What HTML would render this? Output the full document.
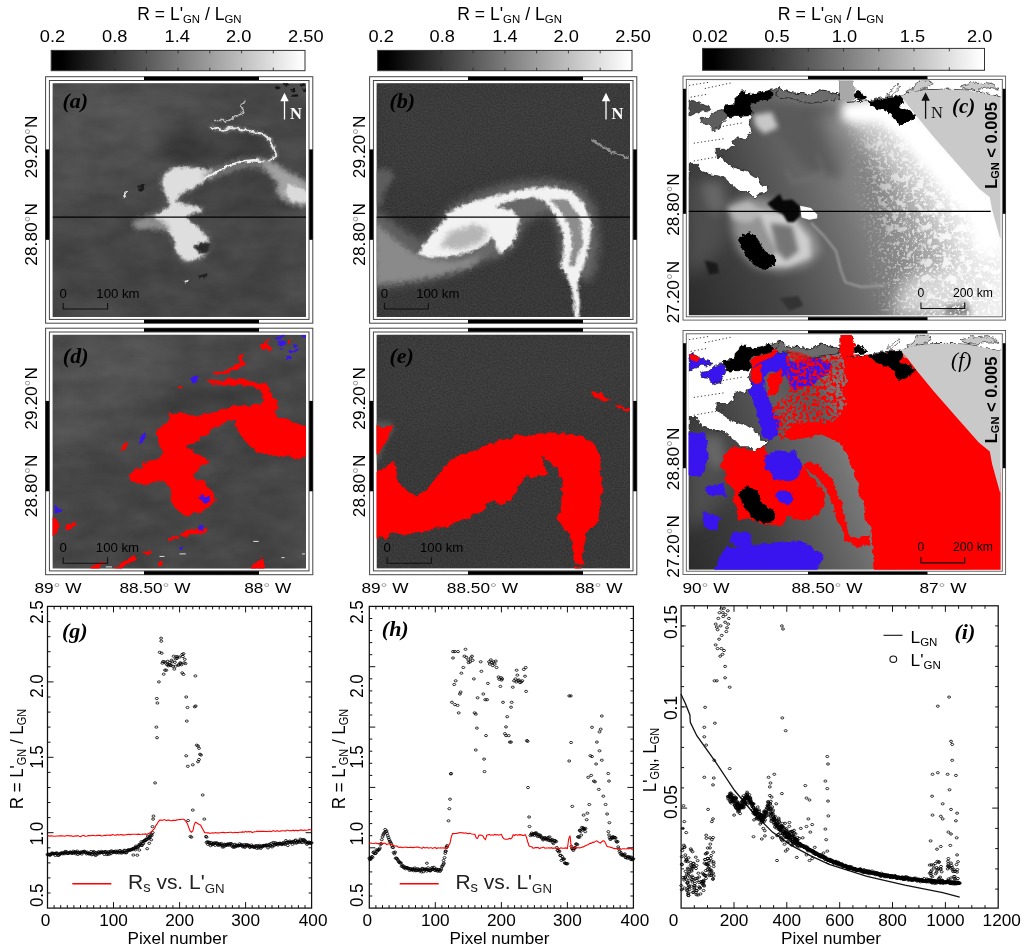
<!DOCTYPE html>
<html><head><meta charset="utf-8"><title>Figure</title>
<style>html,body{margin:0;padding:0;background:#fff}svg{display:block}</style></head>
<body>
<svg width="1024" height="949" viewBox="0 0 1024 949">
<rect width="1024" height="949" fill="#fff"/>
<defs>
<linearGradient id="cb" x1="0" x2="1" y1="0" y2="0"><stop offset="0" stop-color="#000"/><stop offset="0.04" stop-color="#000"/><stop offset="0.98" stop-color="#fcfcfc"/><stop offset="1" stop-color="#fff"/></linearGradient>
<filter color-interpolation-filters="sRGB" id="b1" x="-100%" y="-100%" width="300%" height="300%"><feGaussianBlur stdDeviation="0.6"/></filter>
<filter color-interpolation-filters="sRGB" id="b2" x="-100%" y="-100%" width="300%" height="300%"><feGaussianBlur stdDeviation="1.2"/></filter>
<filter color-interpolation-filters="sRGB" id="b3" x="-100%" y="-100%" width="300%" height="300%"><feGaussianBlur stdDeviation="2.5"/></filter>
<filter color-interpolation-filters="sRGB" id="b5" x="-100%" y="-100%" width="300%" height="300%"><feGaussianBlur stdDeviation="5"/></filter>
<filter color-interpolation-filters="sRGB" id="b8" x="-100%" y="-100%" width="300%" height="300%"><feGaussianBlur stdDeviation="8"/></filter>
<filter color-interpolation-filters="sRGB" id="b12" x="-100%" y="-100%" width="300%" height="300%"><feGaussianBlur stdDeviation="12"/></filter>
<filter color-interpolation-filters="sRGB" id="grA" x="0" y="0" width="100%" height="100%"><feTurbulence type="fractalNoise" baseFrequency="0.025 0.05" numOctaves="4" seed="8"/><feColorMatrix type="matrix" values="0.3 0 0 0 0.13  0.3 0 0 0 0.13  0.3 0 0 0 0.13  0 0 0 0 0.32"/></filter>
<filter color-interpolation-filters="sRGB" id="grB" x="0" y="0" width="100%" height="100%"><feTurbulence type="fractalNoise" baseFrequency="0.7" numOctaves="2" seed="5"/><feColorMatrix type="matrix" values="0.35 0 0 0 0.05  0.35 0 0 0 0.05  0.35 0 0 0 0.05  0 0 0 0 0.35"/></filter>
<filter color-interpolation-filters="sRGB" id="rag" x="-5%" y="-5%" width="110%" height="110%"><feTurbulence type="fractalNoise" baseFrequency="0.13" numOctaves="3" seed="21" result="n"/><feDisplacementMap in="SourceGraphic" in2="n" scale="7" xChannelSelector="R" yChannelSelector="G"/></filter>
<filter color-interpolation-filters="sRGB" id="rag2" x="-5%" y="-5%" width="110%" height="110%"><feTurbulence type="fractalNoise" baseFrequency="0.2" numOctaves="3" seed="9" result="n"/><feDisplacementMap in="SourceGraphic" in2="n" scale="5" xChannelSelector="R" yChannelSelector="G"/></filter>
</defs>
<rect x="45.6" y="76.7" width="267.2" height="246.5" fill="#fff" stroke="#444" stroke-width="1"/>
<rect x="144" y="76.7" width="115" height="3.8" fill="#000"/>
<rect x="144" y="319.4" width="115" height="3.8" fill="#000"/>
<rect x="45.6" y="149.4" width="3.8" height="90.4" fill="#000"/>
<rect x="309" y="149.4" width="3.8" height="90.4" fill="#000"/>
<rect x="49.4" y="80.5" width="259.6" height="238.9" fill="none" stroke="#444" stroke-width="1"/>
<rect x="369.6" y="76.7" width="267.2" height="246.5" fill="#fff" stroke="#444" stroke-width="1"/>
<rect x="468" y="76.7" width="115" height="3.8" fill="#000"/>
<rect x="468" y="319.4" width="115" height="3.8" fill="#000"/>
<rect x="369.6" y="149.4" width="3.8" height="90.4" fill="#000"/>
<rect x="633" y="149.4" width="3.8" height="90.4" fill="#000"/>
<rect x="373.4" y="80.5" width="259.6" height="238.9" fill="none" stroke="#444" stroke-width="1"/>
<rect x="45.6" y="328.2" width="267.2" height="246.5" fill="#fff" stroke="#444" stroke-width="1"/>
<rect x="144" y="328.2" width="115" height="3.8" fill="#000"/>
<rect x="144" y="570.9" width="115" height="3.8" fill="#000"/>
<rect x="45.6" y="400.9" width="3.8" height="90.4" fill="#000"/>
<rect x="309" y="400.9" width="3.8" height="90.4" fill="#000"/>
<rect x="49.4" y="332" width="259.6" height="238.9" fill="none" stroke="#444" stroke-width="1"/>
<rect x="369.6" y="328.2" width="267.2" height="246.5" fill="#fff" stroke="#444" stroke-width="1"/>
<rect x="468" y="328.2" width="115" height="3.8" fill="#000"/>
<rect x="468" y="570.9" width="115" height="3.8" fill="#000"/>
<rect x="369.6" y="400.9" width="3.8" height="90.4" fill="#000"/>
<rect x="633" y="400.9" width="3.8" height="90.4" fill="#000"/>
<rect x="373.4" y="332" width="259.6" height="238.9" fill="none" stroke="#444" stroke-width="1"/>
<rect x="683" y="76.1" width="322.6" height="244" fill="#fff" stroke="#555" stroke-width="0.9"/>
<rect x="808" y="76.1" width="119.5" height="3" fill="#000"/>
<rect x="808" y="317.1" width="119.5" height="3" fill="#000"/>
<rect x="683" y="88.8" width="3" height="125" fill="#000"/>
<rect x="1002.6" y="88.8" width="3" height="125" fill="#000"/>
<rect x="686.3" y="79.4" width="316" height="237.4" fill="none" stroke="#555" stroke-width="0.9"/>
<rect x="683" y="330.5" width="322.6" height="244" fill="#fff" stroke="#555" stroke-width="0.9"/>
<rect x="808" y="330.5" width="119.5" height="3" fill="#000"/>
<rect x="808" y="571.5" width="119.5" height="3" fill="#000"/>
<rect x="683" y="343.2" width="3" height="125" fill="#000"/>
<rect x="1002.6" y="343.2" width="3" height="125" fill="#000"/>
<rect x="686.3" y="333.8" width="316" height="237.4" fill="none" stroke="#555" stroke-width="0.9"/>
<clipPath id="c1"><rect x="52.6" y="83.2" width="253.4" height="233.8"/></clipPath>
<g clip-path="url(#c1)">
<rect x="52.6" y="83.2" width="253.4" height="233.8" fill="#484848"/>
<polygon points="52,82 227,82 177,119.5 127,164.5 52,212" fill="#575757" filter="url(#b12)"/>
<polygon points="177,132 264.5,133.2 272,154.5 242,159.5 212,167 177,164.5 157,149.5" fill="#3a3a3a" filter="url(#b5)"/>
<polygon points="212,177 247,167 277,192 304.5,209.5 227,212 202,207 192,192" fill="#3f3f3f" filter="url(#b5)"/>
<polygon points="52,222 127,222 172,257 202,272 308,222 308,319 52,319" fill="#444" filter="url(#b12)"/>
<rect x="52.6" y="83.2" width="253.4" height="233.8" filter="url(#grA)"/>
<g filter="url(#rag2)">
<polygon points="172,167 192,165.8 207,170 217,168.2 227,165.8 242,160.8 259.5,160 272,164.5 287,173.2 302,182 307,187 307,202 292,204.5 277,197 282,187 272,177 259.5,168.2 247,165.8 232,170.8 214.5,175 204.5,180.8 194.5,189.5 182,194.5 177,202 192,204.5 202,207 204.5,212 192,214.5 187,218.2 197,224.5 207,234.5 212,242 209.5,252 202,259.5 187,263.2 179.5,259.5 174.5,252 172,239.5 164.5,229.5 152,227 137,229.5 132,222 149.5,214.5 162,209.5 169.5,204.5 164.5,194.5 159.5,184.5 162,174.5" fill="#8a8a8a" filter="url(#b3)" opacity="0.6"/>
<polygon points="172,168.2 192,167 212,170 215.8,174 204.5,181.5 192,188.2 180.8,193.2 175.8,202 189.5,205 200.8,207.8 202,211.5 190.8,214 185.8,218.2 195.8,225 205,235 209.5,242 207.5,251 201,258 187.5,261.5 180.8,258 176.2,251 174,239.5 167.5,229 159.5,222 152,217 162,210.8 170.5,205 166,194.5 161.5,184.5 164,175" fill="#dedede" filter="url(#b2)"/>
<polygon points="132,222.5 149.5,217 164.5,222 169.5,230.8 152,227.8 138.2,229.5" fill="#909090" filter="url(#b3)"/>
<polygon points="202,175 217,167 232,161.5 247,157.8 262,157 272,160.8 284.5,168.2 297,176 308,182 308,187 277,169.5 259.5,165.8 247,166.5 234.5,170 222,175 209.5,181.5" fill="#777" filter="url(#b3)" opacity="0.7"/>
<polyline points="204.5,178.2 224.2,168.2 239,162 253.8,160.2 264.5,161.5" fill="none" stroke="#f0f0f0" stroke-width="2.4" filter="url(#b1)" stroke-linecap="round" stroke-linejoin="round"/>
<polygon points="259.5,159 269.5,161.5 283.2,170 298.2,178 308,184 308,205.8 298.2,205.8 284.5,200 275.8,190.8 278.2,183.2 272,175 264.5,167" fill="#a4a4a4" filter="url(#b3)"/>
<polygon points="287,183.2 299.5,187 308,191.5 308,202.5 293.2,202 285.8,195" fill="#dadada" filter="url(#b2)"/>
<polyline points="268.5,161.8 276.5,155.8 274.2,148.5 270,139.5 262.5,133.8 253.8,132.2 242,129.2 230,128 224.2,130.8 211,127" fill="none" stroke="#8a8a8a" stroke-width="4.5" filter="url(#b2)" stroke-linecap="round" stroke-linejoin="round" opacity="0.6"/>
<polyline points="268.5,161.8 276.5,155.8 274.2,148.5 270,139.5 262.5,133.8 253.8,132.2 242,129.2 230,128 224.2,130.8 211,127" fill="none" stroke="#e4e4e4" stroke-width="2.0" filter="url(#b1)" stroke-linecap="round" stroke-linejoin="round"/>
<polyline points="214,120.5 228.8,120.5 236,116 244,113 240.5,107.2 244.8,100.5" fill="none" stroke="#b4b4b4" stroke-width="1.5" filter="url(#b1)" stroke-linecap="round" stroke-linejoin="round"/>
<polygon points="193.2,245.8 204.5,242 212,243.2 208.2,252 200.8,254.5" fill="#2a2a2a" filter="url(#b2)"/>
<polygon points="138.2,187 145,183.2 143.2,189.5 139.5,192" fill="#1c1c1c" filter="url(#b1)"/>
<polygon points="123.2,192 127,191 126,197.5 123.5,198.5" fill="#e8e8e8" filter="url(#b1)"/>
<polygon points="197,275.8 207,273.2 208.2,275.8 199.5,279.5" fill="#222" filter="url(#b1)"/>
<polygon points="184.5,280.8 189,279.5 188.2,282.8 185,283.5" fill="#ddd" filter="url(#b1)"/>
<polygon points="274.5,87.5 278.2,85 280.8,87 277,89.5" fill="#151515" />
<polygon points="283.2,84 288.2,82.5 289.5,85 285,86" fill="#151515" />
<polygon points="290.8,89.5 295.8,88.5 295,91.5 291.5,92" fill="#151515" />
<polygon points="299.5,84 304.5,83 305,86.5 300.8,87" fill="#151515" />
<polygon points="292,95 298.2,94 297,96.5 292.5,97" fill="#151515" />
<polygon points="302,89.5 305.8,89 305.5,92 302.5,92" fill="#151515" />
</g>
<path d="M52.6 217.2 H306" stroke="#000" stroke-width="1.3"/>
</g>
<text transform="translate(62.5,107.8)" font-family="'Liberation Serif', 'Times New Roman', serif" font-size="22" text-anchor="start" fill="#000" font-weight="bold" font-style="italic" >(a)</text>
<path d="M284.5 119.5 V97.8" stroke="#fff" stroke-width="1.3"/>
<polygon points="284.5,92.8 280.3,101.3 288.7,101.3" fill="#fff"/>
<text transform="translate(290,118.5)" font-family="'Liberation Serif', 'Times New Roman', serif" font-size="16.5" text-anchor="start" fill="#fff" font-weight="bold" >N</text>
<path d="M63.2 303 V309 H107.6 V303" fill="none" stroke="#111" stroke-width="1.1"/>
<text transform="translate(63.2,297.6)" font-family="'Liberation Sans', Arial, sans-serif" font-size="13.2" text-anchor="middle" fill="#000" >0</text>
<text transform="translate(96.3,297.6)" font-family="'Liberation Sans', Arial, sans-serif" font-size="13.2" text-anchor="start" fill="#000" >100 km</text>
<clipPath id="c2"><rect x="376.6" y="83.2" width="253.4" height="233.8"/></clipPath>
<g clip-path="url(#c2)">
<rect x="376.6" y="83.2" width="253.4" height="233.8" fill="#393939"/>
<polygon points="375,82 631,82 631,144.5 500,164.5 425,187 375,164.5" fill="#3d3d3d" filter="url(#b12)"/>
<rect x="376.6" y="83.2" width="253.4" height="233.8" filter="url(#grB)"/>
<g filter="url(#rag2)">
<polygon points="375,212 390,222 402.5,237 417.5,249.5 440,222 450,207 480,192 515,182 550,180 580,187 595,207 598.8,242 595,272 587.5,282 565,272 560,257 560,232 550,212 525,222 515,244.5 500,257 480,262 460,272 432.5,279.5 405,284.5 375,289.5" fill="#707070" filter="url(#b5)" opacity="0.85"/>
<polygon points="367.5,169.5 390,169.5 395,177 385,192 380,207 367.5,212" fill="#5c5c5c" filter="url(#b3)"/>
<polygon points="367.5,207 390,222 410,234.5 427.5,242 417.5,257 367.5,262" fill="#606060" filter="url(#b5)"/>
<polygon points="375,222 397.5,242 420,257 455,262 482.5,254.5 492.5,247 470,267 437.5,275.8 400,282 375,284.5" fill="#8a8a8a" filter="url(#b3)"/>
<polygon points="445,213.2 470,202 500,194.5 530,188.2 555,187 572.5,192 585,204.5 591.2,222 590,242 585,262 577.5,282 580,302 578.8,319 575,319 572.5,292 565,272 560,267 563.8,254.5 562.5,232 555,214.5 545,202 535,197 515,199.5 495,207 510,209.5 520,218.2 517.5,232 512.5,244.5 500,254.5 492.5,237 485,244.5 470,252 450,257 430,257 417.5,254.5 427.5,239.5 440,224.5 447.5,218.2" fill="#f2f2f2" filter="url(#b2)"/>
<polygon points="550,199.5 567.5,199.5 580,217 582.5,242 575,267 568.8,265.8 572.5,244.5 570,227 561.2,212" fill="#8c8c8c" filter="url(#b2)"/>
<polygon points="450,232 475,224.5 487.5,229.5 482.5,242 460,249.5 440,247" fill="#b5b5b5" filter="url(#b3)"/>
<polyline points="592.5,140 600,144.5 610,150.8 627.5,158.2" fill="none" stroke="#8c8c8c" stroke-width="2.2" filter="url(#b1)" stroke-linecap="round"/>
</g>
<path d="M376.6 217.2 H630" stroke="#000" stroke-width="1.3"/>
</g>
<text transform="translate(389.5,107.8)" font-family="'Liberation Serif', 'Times New Roman', serif" font-size="22" text-anchor="start" fill="#000" font-weight="bold" font-style="italic" >(b)</text>
<path d="M606 119.5 V97.8" stroke="#fff" stroke-width="1.3"/>
<polygon points="606,92.8 601.8,101.3 610.2,101.3" fill="#fff"/>
<text transform="translate(611.5,118.5)" font-family="'Liberation Serif', 'Times New Roman', serif" font-size="16.5" text-anchor="start" fill="#fff" font-weight="bold" >N</text>
<path d="M384.5 303 V309 H428.3 V303" fill="none" stroke="#111" stroke-width="1.1"/>
<text transform="translate(384.5,297.6)" font-family="'Liberation Sans', Arial, sans-serif" font-size="13.2" text-anchor="middle" fill="#000" >0</text>
<text transform="translate(416.2,297.6)" font-family="'Liberation Sans', Arial, sans-serif" font-size="13.2" text-anchor="start" fill="#000" >100 km</text>
<clipPath id="c3"><rect x="52.6" y="334.7" width="253.4" height="233.8"/></clipPath>
<g clip-path="url(#c3)">
<rect x="52.6" y="334.7" width="253.4" height="233.8" fill="#484848"/>
<polygon points="52,333.4 227,333.4 177,370.9 127,415.9 52,463.4" fill="#575757" filter="url(#b12)"/>
<polygon points="177,383.4 264.5,384.6 272,405.9 242,410.9 212,418.4 177,415.9 157,400.9" fill="#3a3a3a" filter="url(#b5)"/>
<polygon points="212,428.4 247,418.4 277,443.4 304.5,460.9 227,463.4 202,458.4 192,443.4" fill="#3f3f3f" filter="url(#b5)"/>
<polygon points="52,473.4 127,473.4 172,508.4 202,523.4 308,473.4 308,570.4 52,570.4" fill="#444" filter="url(#b12)"/>
<rect x="52.6" y="334.7" width="253.4" height="233.8" filter="url(#grA)"/>
<g filter="url(#rag)">
<polygon points="169.5,412.1 187,413.4 197,417.1 212,412.1 232,407.1 249.5,404.6 262,403.4 263.2,390.9 269.5,392.1 277,400.9 278.2,408.4 272,412.1 282,418.4 297,423.4 314.5,429.6 314.5,457.6 292,458.4 272,455.9 257,452.1 247,443.4 239.5,433.4 234.5,425.9 237,419.6 227,420.9 214.5,427.1 204.5,435.9 192,442.1 187,447.1 194.5,453.4 207,458.4 208.2,463.4 197,469.6 193.2,474.6 202,480.9 212,490.9 215.8,498.4 210.8,505.9 199.5,512.1 182,515.9 175.8,508.4 170.8,498.4 169.5,488.4 164.5,480.9 149.5,482.1 144.5,485.9 132,480.9 128.2,474.6 134.5,469.6 144.5,467.1 143.2,462.1 157,458.4 164.5,453.4 159.5,445.9 157,438.4 157,429.6 163.2,424.6 169.5,420.9" fill="#ff0000" />
<polygon points="207,377.9 217,381.4 232,378.4 247,380.4 264.5,384.1 270.8,392.9 263.2,392.9 252,387.1 237,384.6 219.5,385.9 209.5,382.1" fill="#ff0000" />
<polygon points="212,370.9 227,370.4 233.2,365.4 238.2,363.4 239.5,355.9 244.5,352.1 242.5,359.6 246.5,363.4 239.5,368.4 230.8,370.9 227,373.9 214.5,373.4" fill="#ff0000" />
<polygon points="123.2,443.4 129.5,440.9 126.5,451.4 122,451.9" fill="#ff0000" />
<polygon points="260,344.6 263.2,343.4 269.5,338.9 272,337.9 267.5,343.4 270,347.1 271.5,348.9 269,350.9 264.5,348.9 260.8,347.9" fill="#ff0000" />
<polygon points="176.2,385.9 182,386.4 179.5,389.6" fill="#ff0000" />
<polygon points="44.5,518.4 57,517.1 59,530.9 54.5,535.9 44.5,536.4" fill="#ff0000" />
<polygon points="64.5,527.1 74.5,522.1 75.8,524.6 65.8,530.9" fill="#ff0000" />
<polygon points="180.8,533.4 189.5,529.6 202,528.4 208.2,527.1 207,530.9 194.5,534.6 182,537.1" fill="#ff0000" />
<polygon points="167,538.4 177,535.4 178.2,537.9 168.2,540.9" fill="#ff0000" />
<polygon points="144.5,552.1 152,549.6 150.8,553.4 145,554.6" fill="#ff0000" />
<polygon points="89.5,567.1 102,562.1 105.8,564.6 97,570.4 89.5,570.4" fill="#ff0000" />
<polygon points="114.5,567.1 127,559.6 134.5,555.9 135.8,559.6 127,564.6 119.5,570.4 114.5,570.4" fill="#ff0000" />
<polygon points="158.2,562.1 163.2,560.9 162,565.9 158.2,565.9" fill="#ff0000" />
<polygon points="249.5,567.1 259.5,559.6 263.2,557.1 264.5,570.4 248.2,570.4" fill="#ff0000" />
<polygon points="199.5,496.4 212,495.4 209.5,500.9 205,504.9 201,501.4" fill="#3a14ee" />
<polygon points="198.2,525.9 204.5,524.6 202,529.6 198.2,530.4" fill="#3a14ee" />
<polygon points="139,437.9 145.8,433.9 142.5,441.4 139.5,444.4" fill="#3a14ee" />
<polygon points="190.8,378.4 199.5,374.6 197,380.9 193.2,383.4" fill="#3a14ee" />
<polygon points="274.5,338.9 278.2,335.9 283.2,334.6 287,333.4 284.5,337.1 279.5,339.6" fill="#3a14ee" />
<polygon points="277,340.9 282,340.4 285.8,343.4 283.2,345.4 278.2,343.9" fill="#3a14ee" />
<polygon points="280.8,347.9 283.2,347.1 283.8,349.6 281.2,349.9" fill="#3a14ee" />
<polygon points="289.5,350.9 298.2,348.4 299,350.4 290.8,353.4" fill="#3a14ee" />
<polygon points="285.8,355.9 289.5,355.4 289.5,357.9 286,357.9" fill="#3a14ee" />
<polygon points="293.2,344.6 298.2,343.4 298.2,345.9 294,347.1" fill="#3a14ee" />
<polygon points="301.5,333.9 305.8,333.9 306.5,338.9 302.8,337.9" fill="#3a14ee" />
<polygon points="287,339.6 289.5,338.9 290.8,344.6 288.5,344.6" fill="#ff0000" />
<polygon points="54.5,507.1 63.2,508.4 62,512.1 55,511.4" fill="#3a14ee" />
<polygon points="178.2,545.4 182,545.4 182,547.9 178.2,547.9" fill="#3a14ee" />
</g>
<rect x="253.2" y="540.9" width="5.5" height="1" fill="#ddd"/>
<rect x="179.5" y="553.4" width="6.2" height="1" fill="#ddd"/>
<rect x="159.5" y="555.9" width="5" height="1" fill="#ddd"/>
<rect x="105.8" y="566.4" width="6.2" height="1" fill="#ddd"/>
<rect x="281.5" y="557.1" width="3" height="1" fill="#ddd"/>
<rect x="302" y="553.4" width="3" height="1" fill="#ddd"/>
</g>
<text transform="translate(62.8,362.5)" font-family="'Liberation Serif', 'Times New Roman', serif" font-size="22" text-anchor="start" fill="#000" font-weight="bold" font-style="italic" >(d)</text>
<path d="M63.2 557.2 V563.2 H107.6 V557.2" fill="none" stroke="#111" stroke-width="1.1"/>
<text transform="translate(63.2,551.9)" font-family="'Liberation Sans', Arial, sans-serif" font-size="13.2" text-anchor="middle" fill="#000" >0</text>
<text transform="translate(95.8,551.9)" font-family="'Liberation Sans', Arial, sans-serif" font-size="13.2" text-anchor="start" fill="#000" >100 km</text>
<clipPath id="c4"><rect x="376.6" y="334.7" width="253.4" height="233.8"/></clipPath>
<g clip-path="url(#c4)">
<rect x="376.6" y="334.7" width="253.4" height="233.8" fill="#393939"/>
<polygon points="375,333.4 631,333.4 631,395.9 500,415.9 425,438.4 375,415.9" fill="#3d3d3d" filter="url(#b12)"/>
<rect x="376.6" y="334.7" width="253.4" height="233.8" filter="url(#grB)"/>
<polygon points="375,420.9 390,420.9 395,428.4 385,443.4 380,458.4 375,463.4" fill="#555" filter="url(#b3)"/>
<g filter="url(#rag)">
<polygon points="367.5,478.4 382.5,469.6 392.5,462.1 396.2,468.4 397.5,478.4 405,489.6 417.5,495.9 427.5,488.4 437.5,475.9 447.5,462.1 465,453.4 487.5,444.6 512.5,437.1 537.5,433.4 562.5,433.4 582.5,437.1 595,443.4 600,455.9 601.2,473.4 601.2,503.4 597.5,520.9 587.5,533.4 582.5,550.9 583.8,563.4 575,563.4 572.5,543.4 567.5,530.9 557.5,520.9 561.2,505.9 562.5,483.4 557.5,468.4 550,462.1 540,455.9 547.5,473.4 535,475.9 522.5,478.4 517.5,490.9 510,499.6 500,505.9 493.8,499.6 485,508.4 470,517.1 450,524.6 425,532.1 405,534.6 390,533.4 386.2,538.4 367.5,538.4" fill="#ff0000" />
<polygon points="367.5,425.9 385,427.1 392.5,424.6 387.5,438.4 380,450.9 367.5,460.9" fill="#ff0000" />
<polygon points="590,392.1 596.2,390.9 610,399.6 606.2,402.1 595,397.1" fill="#ff0000" />
<polygon points="616.2,404.6 637.5,411.4 637.5,415.4 618.8,408.4" fill="#ff0000" />
<polygon points="575,565.9 582.5,567.1 582.5,570.4 575,570.4" fill="#ff0000" />
</g>
</g>
<text transform="translate(389.5,362.5)" font-family="'Liberation Serif', 'Times New Roman', serif" font-size="22" text-anchor="start" fill="#000" font-weight="bold" font-style="italic" >(e)</text>
<path d="M387.1 557.2 V563.2 H431.4 V557.2" fill="none" stroke="#111" stroke-width="1.1"/>
<text transform="translate(387.1,551.9)" font-family="'Liberation Sans', Arial, sans-serif" font-size="13.2" text-anchor="middle" fill="#000" >0</text>
<text transform="translate(420,551.9)" font-family="'Liberation Sans', Arial, sans-serif" font-size="13.2" text-anchor="start" fill="#000" >100 km</text>
<clipPath id="c5"><rect x="688.6" y="80.6" width="312" height="234.8"/></clipPath>
<g clip-path="url(#c5)">
<linearGradient id="gcc" gradientUnits="userSpaceOnUse" x1="686" y1="326" x2="1001.6" y2="207.2"><stop offset="0" stop-color="#2a2a2a"/><stop offset="0.28" stop-color="#444"/><stop offset="0.5" stop-color="#6a6a6a"/><stop offset="0.68" stop-color="#8e8e8e"/><stop offset="0.85" stop-color="#cfcfcf"/><stop offset="1" stop-color="#fff"/></linearGradient>
<rect x="688.6" y="80.6" width="312" height="234.8" fill="url(#gcc)"/>
<polygon points="761,104.1 842.2,104.1 851.6,138.5 842.2,179.1 804.8,169.8 779.8,138.5" fill="#5a5a5a" filter="url(#b5)"/>
<polygon points="817.2,113.5 848.5,110.4 873.5,169.8 886,219.8 861,222.9 842.2,179.1" fill="#828282" filter="url(#b8)" opacity="0.8"/>
<polygon points="686,179.1 726.6,179.1 736,207.2 726.6,244.8 704.8,266.6 686,276" fill="#4e4e4e" filter="url(#b8)"/>
<polygon points="701.6,182.2 720.4,182.2 726.6,207.2 714.1,216.6 704.8,201" fill="#7c7c7c" filter="url(#b5)" opacity="0.55"/>
<polygon points="842.2,103.5 904.8,97.9 923.5,119.8 957.9,160.4 990.7,196.3 1001.6,238.5 1001.6,316.6 954.8,316.6 957.9,263.5 945.4,222.9 911,185.4 876.6,151 854.8,135.4 842.2,126" fill="#fff" filter="url(#b12)" opacity="0.5"/>
<polygon points="842.2,103.5 904.8,97.9 923.5,119.8 957.9,160.4 990.7,196.3 1001.6,238.5 1001.6,316.6 975.1,316.6 979.1,258.2 968.2,216 935.4,180.1 901,139.4 879.1,122.9 854.8,122.9 842.2,119.8" fill="#fff" filter="url(#b5)"/>
<polygon points="904.8,279.1 1001.6,251 1001.6,316.6 892.2,316.6" fill="#e4e4e4" filter="url(#b8)" opacity="0.8"/>
<polygon points="945.4,305.7 967.2,302.6 970.4,316.6 945.4,316.6" fill="#777" filter="url(#b3)" opacity="0.8"/>
<linearGradient id="mgc" gradientUnits="userSpaceOnUse" x1="853.2" y1="201" x2="984.4" y2="179.8"><stop offset="0" stop-color="#000"/><stop offset="0.25" stop-color="#777"/><stop offset="0.6" stop-color="#ccc"/><stop offset="1" stop-color="#fff"/></linearGradient>
<mask id="mkc" maskUnits="userSpaceOnUse" x="686" y="76" width="320" height="250"><rect x="686" y="76" width="320" height="250" fill="url(#mgc)"/></mask>
<g mask="url(#mkc)">
<filter color-interpolation-filters="sRGB" id="s1c" x="0" y="0" width="100%" height="100%"><feTurbulence type="fractalNoise" baseFrequency="0.33" numOctaves="3" seed="4"/><feColorMatrix type="matrix" values="0 0 0 0 1  0 0 0 0 1  0 0 0 0 1  9 0 0 0 -5"/></filter>
<clipPath id="s1cc"><polygon points="832.9,105.7 923.5,116.6 1001.6,207.2 1001.6,316.6 867.2,316.6 854.8,263.5 839.1,216.6 832.9,169.8"/></clipPath>
<g clip-path="url(#s1cc)"><rect x="832.9" y="105.7" width="168.8" height="210.9" filter="url(#s1c)"/></g>
<filter color-interpolation-filters="sRGB" id="s2c" x="0" y="0" width="100%" height="100%"><feTurbulence type="fractalNoise" baseFrequency="0.12" numOctaves="3" seed="11"/><feColorMatrix type="matrix" values="0 0 0 0 1  0 0 0 0 1  0 0 0 0 1  7 0 0 0 -3.7"/></filter>
<clipPath id="s2cc"><polygon points="861,132.2 936,147.9 1001.6,216.6 1001.6,301 923.5,301 886,232.2"/></clipPath>
<g clip-path="url(#s2cc)"><rect x="861" y="132.2" width="140.6" height="168.8" filter="url(#s2c)"/></g>
</g>
<polygon points="729.8,204.1 748.5,196.3 773.5,201 795.4,213.5 814.1,232.2 820.4,251 807.9,265.1 779.8,271.3 754.8,266.6 739.1,251 732.9,232.2" fill="#a8a8a8" filter="url(#b5)" opacity="0.8"/>
<polygon points="757.9,210.4 789.1,213.5 809.4,238.5 811,257.2 789.1,266.6 767.2,266.6 776.6,251 767.2,232.2" fill="#e0e0e0" filter="url(#b3)" opacity="0.75"/>
<polygon points="770.4,222.9 792.2,226 798.5,251 786,260.4 776.6,251" fill="#606060" filter="url(#b3)" opacity="0.8"/>
<polygon points="726.6,207.2 748.5,201 764.1,213.5 748.5,222.9 732.9,219.8" fill="#cfcfcf" filter="url(#b3)" opacity="0.6"/>
<polygon points="753.2,115.1 771.9,111.9 778.2,127.6 764.1,133.8 755.4,126" fill="#f4f4f4" filter="url(#b3)" opacity="0.7"/>
<polyline points="811,222.9 823.5,235.4 836,251 840.7,269.8 845.4,282.2 861,286.9 886,285.4" fill="none" stroke="#a4a4a4" stroke-width="2.2" filter="url(#b2)" stroke-linejoin="round" opacity="0.8"/>
<polyline points="786,169.8 792.2,182.2 811,179.1 823.5,172.9 817.2,154.1" fill="none" stroke="#808080" stroke-width="3" filter="url(#b3)" stroke-linejoin="round" opacity="0.45"/>
<polygon points="704.8,260.4 717.2,263.5 718.8,272.9 709.4,274.4" fill="#1a1a1a" filter="url(#b2)"/>
<polygon points="779.8,297.9 798.5,296.3 803.2,305.7 789.1,310.4" fill="#333" filter="url(#b2)"/>
<g filter="url(#rag2)">
<polygon points="686,75.9 839.9,75.9 839.9,94.6 832.9,93.1 826.6,90.7 818.8,89.9 811,95.4 803.2,93.8 793.8,93.1 783.7,90.7 779.8,86.8 773.5,89.9 770.4,89.9 761,92.3 754.8,93.8 746.2,94.6 744.6,90.7 739.9,91.5 739.1,95.4 735.2,99.3 734.4,104.8 723.5,106.3 723.5,110.2 726.6,114.2 729.8,118.1 734.4,116.5 740.7,116.5 748.5,115.7 752.4,112.6 748.5,122.8 751.6,130.6 745.4,139.9 737.6,136.8 732.9,141.5 734.4,146.2 728.2,149.3 715.7,149.3 717.2,155.6 726.6,163.4 732.9,167.3 745.4,170.4 751.6,174.3 759.4,179 761,186 768.8,186.8 764.1,193.1 757.9,194.6 754.8,197.8 748.5,191.5 739.1,191.5 732.9,185.2 726.6,179 717.2,175.9 707.9,174.3 701.6,172.8 696.9,163.4 689.1,163.4 689.1,179 686,179" fill="#fff" stroke="#111" stroke-width="0.7" stroke-linejoin="round"/>
<polygon points="852.2,75.9 1002.2,75.9 1002.2,97.4 986.6,93.8 967.9,90.2 946,89.2 924.1,89.9 911.6,92.3 900.7,95.9 885.1,97.4 867.9,100.9 854.6,102.1 854.6,98.5 853.8,94.6 855.4,89.9 853,85.2" fill="#fff" />
<polygon points="779.8,86.8 783.7,90.7 793.8,93.1 803.2,93.8 811,95.4 818.8,89.9 826.6,90.7 832.9,93.1 839.9,94.6 839.9,99.3 826.6,100.9 811,103.2 801.6,102.4 795.4,99.3 786,97.8 779.8,98.5 775.8,94.6" fill="#6c6c6c" stroke="#111" stroke-width="0.7"/>
<polygon points="839.9,75.9 846,75.9 846,99.3 839.9,99.3" fill="#a8a8a8" />
<polygon points="846,75.9 852.2,75.9 853,85.2 855.4,89.9 853.8,94.6 854.6,98.5 850.7,100.9 846,101.7" fill="#a8a8a8" />
<polygon points="700.8,118.8 709.4,116.5 714.9,111 722.7,109.5 725.8,114.2 725.1,119.6 721.2,124.3 719.6,129 714.1,130.6 710.2,126.7 709.4,124.3 701.6,123.5" fill="#5e5e5e" stroke="#111" stroke-width="0.6"/>
<polygon points="689.1,100.1 695.4,100.9 700.1,104 709.4,106.3 711.8,109.5 706.3,111.8 701.6,111 696.9,112.6 690.7,115.7 689.1,115.7" fill="#4c4c4c" stroke="#111" stroke-width="0.6"/>
<polyline points="846,102.4 867.9,100.9 885.1,97.4 900.7,95.9 911.6,92.3 924.1,89.9 946,89.2 967.9,90.2 986.6,93.8 1002.2,97.4" fill="none" stroke="#111" stroke-width="0.9" />
<polygon points="906.9,90.7 914.8,87.6 916.3,82.1 921,79.8 928.8,80.6 932.7,84.5 927.2,87.6 919.4,90.7 908.5,93.8" fill="#c8c8c8" stroke="#111" stroke-width="0.6"/>
<polygon points="960.1,86 967.9,83.7 971,81.3 975.7,83.7 986.6,82.4 994.4,84.5 998.3,89.2 991.3,87.6 983.5,88.4 975.7,89.9 966.3,89.2" fill="#c8c8c8" stroke="#111" stroke-width="0.6"/>
<polygon points="886.6,94.6 892.9,88.4 897.6,84.5 900.7,86 896,90.7 891.3,94.6" fill="#fff" stroke="#111" stroke-width="0.6"/>
<polygon points="853.8,94.6 856.9,91.5 861.6,90.7 863.2,94.6 867.1,97 864.8,99.3 858.5,100.1 854.6,98.5" fill="#000" />
</g>
<polyline points="689.1,85.4 709.4,82.2" fill="none" stroke="#222" stroke-width="0.9" stroke-dasharray="1.2 2.4"/>
<polyline points="704.8,88.5 731.3,82.9" fill="none" stroke="#222" stroke-width="0.9" stroke-dasharray="1.2 2.4"/>
<polyline points="693.8,143.2 725.1,138.5" fill="none" stroke="#222" stroke-width="0.9" stroke-dasharray="1.2 2.4"/>
<polyline points="693.8,161 723.5,155.7" fill="none" stroke="#222" stroke-width="0.9" stroke-dasharray="1.2 2.4"/>
<polyline points="715.7,127.6 742.2,122.9" fill="none" stroke="#222" stroke-width="0.9" stroke-dasharray="1.2 2.4"/>
<polyline points="690.7,97.2 707.9,94.1" fill="none" stroke="#222" stroke-width="0.9" stroke-dasharray="1.2 2.4"/>
<polygon points="767.2,203.4 779.8,194.1 782.9,200.3 792.2,199.5 800.1,206.6 800.1,215.9 793.8,222.2 787.6,222.2 782.9,214.4 773.5,209.7" fill="#080808" filter="url(#b2)"/>
<polygon points="800.1,205.8 811,208.1 817.2,214.4 817.2,218.3 809.4,219.8 801.6,217.5" fill="#fff" filter="url(#b1)"/>
<g filter="url(#rag2)">
<polygon points="723.5,106.3 734.4,104.8 735.2,99.3 739.1,95.4 739.9,91.5 744.6,90.7 746.2,94.6 754.8,93.8 761,92.3 770.4,89.9 773.5,94.6 771.2,98.5 762.6,100.9 754.8,102.4 750.1,106.3 752.4,112.6 748.5,115.7 740.7,116.5 734.4,116.5 729.8,118.1 726.6,114.2 723.5,110.2" fill="#000" />
<polygon points="867.9,101.2 900.7,95.9 903,101.7 899.1,107.1 908.5,110.2 916.3,115.7 914.8,118.8 899.1,125.9 892.9,116.5 888.2,111.8 877.2,108.7 871,104.8" fill="#000" />
<polygon points="737.6,237.8 748.5,232.3 756.3,236.2 761,245.6 767.2,253.4 775.1,256.6 775.1,264.4 764.1,269.8 753.2,264.4 745.4,255 740.7,245.6" fill="#000" />
</g>
<polygon points="900.7,95.9 911.6,92.3 924.1,90.2 946,89.3 967.9,90.4 986.6,94 1003.8,97.8 1003.8,239.4 999.9,237.8 992.1,209.7 989.8,197.2 978.8,188.4 955.4,161.8 933.5,136.8 916.3,115.7 908.5,105.6" fill="#c9c9c9" />
<path d="M688.6 211.4 H990.7" stroke="#000" stroke-width="1.3"/>
</g>
<path d="M925.6 118.8 V97.3" stroke="#111" stroke-width="1.3"/>
<polygon points="925.6,92.3 921.4,100.8 929.8,100.8" fill="#111"/>
<text transform="translate(931.1,117.8)" font-family="'Liberation Serif', 'Times New Roman', serif" font-size="16.5" text-anchor="start" fill="#111" >N</text>
<text transform="translate(952,112.6)" font-family="'Liberation Serif', 'Times New Roman', serif" font-size="21" text-anchor="start" fill="#000" font-weight="bold" font-style="italic" >(c)</text>
<text transform="translate(996.6,145.5) rotate(-90)" font-family="'Liberation Sans', Arial, sans-serif" font-size="16.5" text-anchor="middle" fill="#000" font-weight="bold" >L<tspan font-size="11" dy="2.5">GN</tspan><tspan dy="-2.5"> &lt; 0.005</tspan></text>
<path d="M921 302.5 V308.5 H964.7 V302.5" fill="none" stroke="#111" stroke-width="1.1"/>
<text transform="translate(921,297)" font-family="'Liberation Sans', Arial, sans-serif" font-size="12.2" text-anchor="middle" fill="#000" >0</text>
<text transform="translate(953,297)" font-family="'Liberation Sans', Arial, sans-serif" font-size="12.2" text-anchor="start" fill="#000" >200 km</text>
<clipPath id="c6"><rect x="688.6" y="335" width="312" height="234.8"/></clipPath>
<g clip-path="url(#c6)">
<linearGradient id="gcf" gradientUnits="userSpaceOnUse" x1="686" y1="580.2" x2="1001.6" y2="461.4"><stop offset="0" stop-color="#2a2a2a"/><stop offset="0.28" stop-color="#444"/><stop offset="0.5" stop-color="#6a6a6a"/><stop offset="0.68" stop-color="#8e8e8e"/><stop offset="0.85" stop-color="#cfcfcf"/><stop offset="1" stop-color="#fff"/></linearGradient>
<rect x="688.6" y="335" width="312" height="234.8" fill="url(#gcf)"/>
<polygon points="761,358.3 842.2,358.3 851.6,392.7 842.2,433.3 804.8,423.9 779.8,392.7" fill="#5a5a5a" filter="url(#b5)"/>
<polygon points="817.2,367.7 848.5,364.6 873.5,423.9 886,473.9 861,477.1 842.2,433.3" fill="#828282" filter="url(#b8)" opacity="0.8"/>
<polygon points="686,433.3 726.6,433.3 736,461.4 726.6,498.9 704.8,520.8 686,530.2" fill="#4e4e4e" filter="url(#b8)"/>
<polygon points="701.6,436.4 720.4,436.4 726.6,461.4 714.1,470.8 704.8,455.2" fill="#7c7c7c" filter="url(#b5)" opacity="0.55"/>
<polygon points="904.8,533.3 1001.6,505.2 1001.6,570.8 892.2,570.8" fill="#e4e4e4" filter="url(#b8)" opacity="0.8"/>
<polygon points="945.4,559.9 967.2,556.8 970.4,570.8 945.4,570.8" fill="#777" filter="url(#b3)" opacity="0.8"/>
<g filter="url(#rag)">
<polygon points="712.6,580.2 715.7,561.5 732.9,550.5 748.5,545.8 773.5,542.7 792.2,540.2 811,545.8 823.5,555.2 820.4,564.6 814.1,580.2" fill="#3a14ee" />
<polygon points="732.9,530.2 748.5,533.3 753.2,545.8 736,549 729.8,539.6" fill="#3a14ee" />
<polygon points="679.8,433.3 704.8,433.3 708.5,455.2 701.6,477.1 679.8,473.9" fill="#3a14ee" />
<polygon points="704.8,486.4 723.5,482.7 727.2,495.8 707.9,496.4" fill="#3a14ee" />
<polygon points="701.6,511.4 720.4,517.1 717.2,530.8 704.8,527.7" fill="#3a14ee" />
<polygon points="726.6,545.8 736,549 729.8,558.3 717.2,559.9" fill="#3a14ee" />
<polygon points="753.2,361.4 761,356.8 773.5,355.2 779.8,350.5 787.6,352.1 790.7,361.4 817.2,356.8 831.3,366.1 823.5,377.1 811,384.9 792.2,391.1 786.6,377.1 779.8,372.4 770.4,372.4 765.7,377.1 764.1,386.4 767.9,395.8 771,405.2 779.8,420.8 779.1,430.2 773.5,439.6 768.8,441.1 762.6,434.9 758.5,420.8 755.4,408.3 751,395.8 748.5,383.3 752.2,370.8" fill="#3a14ee" />
<polygon points="723.5,455.2 732.9,445.8 748.5,450.5 764.1,445.8 767.9,453.6 765.7,464.6 773.5,477.1 792.2,480.2 801.6,467.7 806.3,469.3 811,477.1 823.5,489.6 825.1,505.2 817.2,514.6 804.8,520.8 789.1,517.7 779.8,525.5 761,524 748.5,517.7 739.1,520.8 736,508.3 732.9,492.7 726.6,480.2 721.9,467.7" fill="#ff0000" />
<polygon points="765.7,455.2 779.8,450.5 795.4,452.1 802.2,464.6 798.5,477.1 789.1,481.8 773.5,477.7 765.7,467.7" fill="#3a14ee" />
<polygon points="776.6,492.7 789.1,489.6 793.8,498.9 786,505.2 778.2,501.4" fill="#3a14ee" />
<polygon points="751.6,367.7 761,365.2 762.6,381.8 756.3,383.9 750.1,380.2" fill="#ff0000" />
<polygon points="767.9,377.1 781.3,370.2 782.9,377.1 779.8,392.7 767.9,397.4" fill="#ff0000" />
</g>
<filter color-interpolation-filters="sRGB" id="s3f" x="0" y="0" width="100%" height="100%"><feTurbulence type="fractalNoise" baseFrequency="0.3" numOctaves="3" seed="5"/><feColorMatrix type="matrix" values="0 0 0 0 1  0 0 0 0 0  0 0 0 0 0  9 0 0 0 -4.3"/></filter>
<clipPath id="s3fc"><polygon points="786,355.2 842.2,355.2 848.5,411.4 817.2,433.3 779.8,439.6 770.4,408.3 789.1,392.7"/></clipPath>
<g clip-path="url(#s3fc)"><rect x="770.4" y="355.2" width="78.1" height="84.4" filter="url(#s3f)"/></g>
<g filter="url(#rag)">
<polygon points="839.1,320.8 856.3,320.8 856.3,345.8 867.2,352.7 857.2,356.8 901.6,351.4 923.5,373.9 957.9,414.6 990.7,450.5 1011,492.7 1011,580.2 873.5,580.2 872.9,549 870.4,530.2 865.7,517.7 864.1,505.2 859.4,492.7 857.2,480.2 851.6,467.7 848.5,455.2 843.8,445.8 832.9,439.6 820.4,434.9 804.8,438 789.1,440.2 783.5,436.4 786,429.6 798.5,423.9 814.1,421.4 826.6,423.9 836,419.3 843.8,409.9 846.9,400.5 842.2,392.7 846.9,380.2 843.8,367.7 842.2,356.8 839.1,355.2" fill="#ff0000" />
<polygon points="811,461.4 820.4,467.7 832.9,480.2 839.1,498.9 845.4,517.7 848.5,533.3 856.3,538 868.8,534.9 870.4,545.8 854.8,545.8 843.8,539.6 839.1,524 832.9,505.2 826.6,489.6 817.2,477.1 806.3,469.3 802.2,464.6" fill="#ff0000" />
</g>
<g filter="url(#rag2)">
<polygon points="686,330.1 839.9,330.1 839.9,348.8 832.9,347.3 826.6,344.9 818.8,344.1 811,349.6 803.2,348 793.8,347.3 783.7,344.9 779.8,341 773.5,344.1 770.4,344.1 761,346.5 754.8,348 746.2,348.8 744.6,344.9 739.9,345.7 739.1,349.6 735.2,353.5 734.4,359 723.5,360.5 723.5,364.4 726.6,368.4 729.8,372.3 734.4,370.7 740.7,370.7 748.5,369.9 752.4,366.8 748.5,376.9 751.6,384.8 745.4,394.1 737.6,391 732.9,395.7 734.4,400.4 728.2,403.5 715.7,403.5 717.2,409.8 726.6,417.6 732.9,421.5 745.4,424.6 751.6,428.5 759.4,433.2 761,440.2 768.8,441 764.1,447.3 757.9,448.8 754.8,451.9 748.5,445.7 739.1,445.7 732.9,439.4 726.6,433.2 717.2,430.1 707.9,428.5 701.6,426.9 696.9,417.6 689.1,417.6 689.1,433.2 686,433.2" fill="#fff" stroke="#111" stroke-width="0.7" stroke-linejoin="round"/>
<polygon points="852.2,330.1 1002.2,330.1 1002.2,351.6 986.6,348 967.9,344.4 946,343.4 924.1,344.1 911.6,346.5 900.7,350.1 885.1,351.6 867.9,355.1 854.6,356.3 854.6,352.7 853.8,348.8 855.4,344.1 853,339.4" fill="#fff" />
<polygon points="779.8,341 783.7,344.9 793.8,347.3 803.2,348 811,349.6 818.8,344.1 826.6,344.9 832.9,347.3 839.9,348.8 839.9,353.5 826.6,355.1 811,357.4 801.6,356.6 795.4,353.5 786,351.9 779.8,352.7 775.8,348.8" fill="#6c6c6c" stroke="#111" stroke-width="0.7"/>
<polygon points="839.9,330.1 846,330.1 846,353.5 839.9,353.5" fill="#ff0000" />
<polygon points="846,330.1 852.2,330.1 853,339.4 855.4,344.1 853.8,348.8 854.6,352.7 850.7,355.1 846,355.9" fill="#ff0000" />
<polygon points="700.8,373 709.4,370.7 714.9,365.2 722.7,363.7 725.8,368.4 725.1,373.8 721.2,378.5 719.6,383.2 714.1,384.8 710.2,380.9 709.4,378.5 701.6,377.7" fill="#3a14ee" stroke="#111" stroke-width="0.6"/>
<polygon points="689.1,354.3 695.4,355.1 700.1,358.2 709.4,360.5 711.8,363.7 706.3,366 701.6,365.2 696.9,366.8 690.7,369.9 689.1,369.9" fill="#3a14ee" stroke="#111" stroke-width="0.6"/>
<polyline points="846,356.6 867.9,355.1 885.1,351.6 900.7,350.1 911.6,346.5 924.1,344.1 946,343.4 967.9,344.4 986.6,348 1002.2,351.6" fill="none" stroke="#111" stroke-width="0.9" />
<polygon points="906.9,344.9 914.8,341.8 916.3,336.3 921,334 928.8,334.8 932.7,338.7 927.2,341.8 919.4,344.9 908.5,348" fill="#c8c8c8" stroke="#111" stroke-width="0.6"/>
<polygon points="960.1,340.2 967.9,337.9 971,335.5 975.7,337.9 986.6,336.6 994.4,338.7 998.3,343.4 991.3,341.8 983.5,342.6 975.7,344.1 966.3,343.4" fill="#c8c8c8" stroke="#111" stroke-width="0.6"/>
<polygon points="886.6,348.8 892.9,342.6 897.6,338.7 900.7,340.2 896,344.9 891.3,348.8" fill="#fff" stroke="#111" stroke-width="0.6"/>
<polygon points="853.8,348.8 856.9,345.7 861.6,344.9 863.2,348.8 867.1,351.2 864.8,353.5 858.5,354.3 854.6,352.7" fill="#000" />
</g>
<polyline points="689.1,339.6 709.4,336.4" fill="none" stroke="#222" stroke-width="0.9" stroke-dasharray="1.2 2.4"/>
<polyline points="704.8,342.7 731.3,337.1" fill="none" stroke="#222" stroke-width="0.9" stroke-dasharray="1.2 2.4"/>
<polyline points="693.8,397.4 725.1,392.7" fill="none" stroke="#222" stroke-width="0.9" stroke-dasharray="1.2 2.4"/>
<polyline points="693.8,415.2 723.5,409.9" fill="none" stroke="#222" stroke-width="0.9" stroke-dasharray="1.2 2.4"/>
<polyline points="715.7,381.8 742.2,377.1" fill="none" stroke="#222" stroke-width="0.9" stroke-dasharray="1.2 2.4"/>
<polyline points="690.7,351.4 707.9,348.3" fill="none" stroke="#222" stroke-width="0.9" stroke-dasharray="1.2 2.4"/>
<g filter="url(#rag2)">
<polygon points="723.5,360.5 734.4,359 735.2,353.5 739.1,349.6 739.9,345.7 744.6,344.9 746.2,348.8 754.8,348 761,346.5 770.4,344.1 773.5,348.8 771.2,352.7 762.6,355.1 754.8,356.6 750.1,360.5 752.4,366.8 748.5,369.9 740.7,370.7 734.4,370.7 729.8,372.3 726.6,368.4 723.5,364.4" fill="#000" />
<polygon points="867.9,355.4 900.7,350.1 903,355.9 899.1,361.3 908.5,364.4 916.3,369.9 914.8,373 899.1,380.1 892.9,370.7 888.2,366 877.2,362.9 871,359" fill="#000" />
<polygon points="737.6,492 748.5,486.5 756.3,490.4 761,499.8 767.2,507.6 775.1,510.8 775.1,518.6 764.1,524 753.2,518.6 745.4,509.2 740.7,499.8" fill="#000" />
</g>
<polygon points="900.7,350.1 911.6,346.5 924.1,344.4 946,343.5 967.9,344.6 986.6,348.2 1003.8,351.9 1003.8,493.6 999.9,492 992.1,463.9 989.8,451.4 978.8,442.6 955.4,416 933.5,391 916.3,369.9 908.5,359.8" fill="#c9c9c9" />
<polygon points="750.1,360.5 754.8,356.6 762.6,355.1 771.2,352.7 773.5,348.8 778.2,350.4 773.5,356.6 764.1,360.5 756.3,364.4 753.2,368.4" fill="#ff0000" />
<polygon points="689.1,354.3 695.4,355.1 700.1,358.2 696.9,362.1 690.7,359.8" fill="#ff0000" />
<polygon points="786,350.4 798.5,351.9 811,356.6 814.1,364.4 801.6,362.9 792.2,358.2" fill="#ff0000" opacity="0.55"/>
</g>
<text transform="translate(951,367)" font-family="'Liberation Serif', 'Times New Roman', serif" font-size="21.5" text-anchor="start" fill="#000" font-style="italic" >(f)</text>
<text transform="translate(996.6,399.9) rotate(-90)" font-family="'Liberation Sans', Arial, sans-serif" font-size="16.5" text-anchor="middle" fill="#000" font-weight="bold" >L<tspan font-size="11" dy="2.5">GN</tspan><tspan dy="-2.5"> &lt; 0.005</tspan></text>
<path d="M921 556.9 V562.9 H964.7 V556.9" fill="none" stroke="#111" stroke-width="1.1"/>
<text transform="translate(921,551.4)" font-family="'Liberation Sans', Arial, sans-serif" font-size="12.2" text-anchor="middle" fill="#000" >0</text>
<text transform="translate(953,551.4)" font-family="'Liberation Sans', Arial, sans-serif" font-size="12.2" text-anchor="start" fill="#000" >200 km</text>
<rect x="51.2" y="50.4" width="253.8" height="20.3" fill="url(#cb)" stroke="#333" stroke-width="1"/>
<path d="M82.9 50.4 v3 M82.9 70.7 v-3" stroke="#222" stroke-width="0.8"/>
<path d="M114.7 50.4 v3 M114.7 70.7 v-3" stroke="#222" stroke-width="0.8"/>
<path d="M146.4 50.4 v3 M146.4 70.7 v-3" stroke="#222" stroke-width="0.8"/>
<path d="M178.1 50.4 v3 M178.1 70.7 v-3" stroke="#222" stroke-width="0.8"/>
<path d="M209.8 50.4 v3 M209.8 70.7 v-3" stroke="#222" stroke-width="0.8"/>
<path d="M241.6 50.4 v3 M241.6 70.7 v-3" stroke="#222" stroke-width="0.8"/>
<path d="M273.3 50.4 v3 M273.3 70.7 v-3" stroke="#222" stroke-width="0.8"/>
<text transform="translate(52.5,41.8) scale(1.06,1)" font-family="'Liberation Sans', Arial, sans-serif" font-size="17.2" text-anchor="middle" fill="#000" >0.2</text>
<text transform="translate(114.7,41.8) scale(1.06,1)" font-family="'Liberation Sans', Arial, sans-serif" font-size="17.2" text-anchor="middle" fill="#000" >0.8</text>
<text transform="translate(177.2,41.8) scale(1.06,1)" font-family="'Liberation Sans', Arial, sans-serif" font-size="17.2" text-anchor="middle" fill="#000" >1.4</text>
<text transform="translate(238.6,41.8) scale(1.06,1)" font-family="'Liberation Sans', Arial, sans-serif" font-size="17.2" text-anchor="middle" fill="#000" >2.0</text>
<text transform="translate(305.8,41.8) scale(1.06,1)" font-family="'Liberation Sans', Arial, sans-serif" font-size="17.2" text-anchor="middle" fill="#000" >2.50</text>
<text transform="translate(137.3,19.6)" font-family="'Liberation Sans', Arial, sans-serif" font-size="17.7" text-anchor="start" fill="#000" textLength="104.2" lengthAdjust="spacingAndGlyphs" >R = L'<tspan font-size="11.5" dy="3.6">GN</tspan><tspan dy="-3.6"> / L</tspan><tspan font-size="11.5" dy="3.6">GN</tspan></text>
<rect x="377.7" y="50.4" width="254.3" height="20.3" fill="url(#cb)" stroke="#333" stroke-width="1"/>
<path d="M409.5 50.4 v3 M409.5 70.7 v-3" stroke="#222" stroke-width="0.8"/>
<path d="M441.3 50.4 v3 M441.3 70.7 v-3" stroke="#222" stroke-width="0.8"/>
<path d="M473.1 50.4 v3 M473.1 70.7 v-3" stroke="#222" stroke-width="0.8"/>
<path d="M504.9 50.4 v3 M504.9 70.7 v-3" stroke="#222" stroke-width="0.8"/>
<path d="M536.6 50.4 v3 M536.6 70.7 v-3" stroke="#222" stroke-width="0.8"/>
<path d="M568.4 50.4 v3 M568.4 70.7 v-3" stroke="#222" stroke-width="0.8"/>
<path d="M600.2 50.4 v3 M600.2 70.7 v-3" stroke="#222" stroke-width="0.8"/>
<text transform="translate(381.1,41.8) scale(1.06,1)" font-family="'Liberation Sans', Arial, sans-serif" font-size="17.2" text-anchor="middle" fill="#000" >0.2</text>
<text transform="translate(442.2,41.8) scale(1.06,1)" font-family="'Liberation Sans', Arial, sans-serif" font-size="17.2" text-anchor="middle" fill="#000" >0.8</text>
<text transform="translate(505,41.8) scale(1.06,1)" font-family="'Liberation Sans', Arial, sans-serif" font-size="17.2" text-anchor="middle" fill="#000" >1.4</text>
<text transform="translate(566.1,41.8) scale(1.06,1)" font-family="'Liberation Sans', Arial, sans-serif" font-size="17.2" text-anchor="middle" fill="#000" >2.0</text>
<text transform="translate(633.1,41.8) scale(1.06,1)" font-family="'Liberation Sans', Arial, sans-serif" font-size="17.2" text-anchor="middle" fill="#000" >2.50</text>
<text transform="translate(457.2,19.6)" font-family="'Liberation Sans', Arial, sans-serif" font-size="17.7" text-anchor="start" fill="#000" textLength="104.7" lengthAdjust="spacingAndGlyphs" >R = L'<tspan font-size="11.5" dy="3.6">GN</tspan><tspan dy="-3.6"> / L</tspan><tspan font-size="11.5" dy="3.6">GN</tspan></text>
<rect x="702.6" y="48.4" width="281.9" height="21.9" fill="url(#cb)" stroke="#333" stroke-width="1"/>
<path d="M737.8 48.4 v3 M737.8 70.3 v-3" stroke="#222" stroke-width="0.8"/>
<path d="M773.1 48.4 v3 M773.1 70.3 v-3" stroke="#222" stroke-width="0.8"/>
<path d="M808.3 48.4 v3 M808.3 70.3 v-3" stroke="#222" stroke-width="0.8"/>
<path d="M843.5 48.4 v3 M843.5 70.3 v-3" stroke="#222" stroke-width="0.8"/>
<path d="M878.8 48.4 v3 M878.8 70.3 v-3" stroke="#222" stroke-width="0.8"/>
<path d="M914 48.4 v3 M914 70.3 v-3" stroke="#222" stroke-width="0.8"/>
<path d="M949.3 48.4 v3 M949.3 70.3 v-3" stroke="#222" stroke-width="0.8"/>
<text transform="translate(710.1,41.8) scale(1.06,1)" font-family="'Liberation Sans', Arial, sans-serif" font-size="17.2" text-anchor="middle" fill="#000" >0.02</text>
<text transform="translate(776.9,41.8) scale(1.06,1)" font-family="'Liberation Sans', Arial, sans-serif" font-size="17.2" text-anchor="middle" fill="#000" >0.5</text>
<text transform="translate(844.5,41.8) scale(1.06,1)" font-family="'Liberation Sans', Arial, sans-serif" font-size="17.2" text-anchor="middle" fill="#000" >1.0</text>
<text transform="translate(912.4,41.8) scale(1.06,1)" font-family="'Liberation Sans', Arial, sans-serif" font-size="17.2" text-anchor="middle" fill="#000" >1.5</text>
<text transform="translate(979.6,41.8) scale(1.06,1)" font-family="'Liberation Sans', Arial, sans-serif" font-size="17.2" text-anchor="middle" fill="#000" >2.0</text>
<text transform="translate(777.8,19.6)" font-family="'Liberation Sans', Arial, sans-serif" font-size="17.7" text-anchor="start" fill="#000" textLength="105.9" lengthAdjust="spacingAndGlyphs" >R = L'<tspan font-size="11.5" dy="3.6">GN</tspan><tspan dy="-3.6"> / L</tspan><tspan font-size="11.5" dy="3.6">GN</tspan></text>
<text transform="translate(37.1,146.8) rotate(-90)" font-family="'Liberation Sans', Arial, sans-serif" font-size="17.3" text-anchor="middle" fill="#000" >29.20<tspan fill="#999">°</tspan>N</text>
<text transform="translate(37.1,234.3) rotate(-90)" font-family="'Liberation Sans', Arial, sans-serif" font-size="17.3" text-anchor="middle" fill="#000" >28.80<tspan fill="#999">°</tspan>N</text>
<text transform="translate(37.1,398.3) rotate(-90)" font-family="'Liberation Sans', Arial, sans-serif" font-size="17.3" text-anchor="middle" fill="#000" >29.20<tspan fill="#999">°</tspan>N</text>
<text transform="translate(37.1,485.8) rotate(-90)" font-family="'Liberation Sans', Arial, sans-serif" font-size="17.3" text-anchor="middle" fill="#000" >28.80<tspan fill="#999">°</tspan>N</text>
<text transform="translate(364.6,146.8) rotate(-90)" font-family="'Liberation Sans', Arial, sans-serif" font-size="17.3" text-anchor="middle" fill="#000" >29.20<tspan fill="#999">°</tspan>N</text>
<text transform="translate(364.6,234.3) rotate(-90)" font-family="'Liberation Sans', Arial, sans-serif" font-size="17.3" text-anchor="middle" fill="#000" >28.80<tspan fill="#999">°</tspan>N</text>
<text transform="translate(364.6,398.3) rotate(-90)" font-family="'Liberation Sans', Arial, sans-serif" font-size="17.3" text-anchor="middle" fill="#000" >29.20<tspan fill="#999">°</tspan>N</text>
<text transform="translate(364.6,485.8) rotate(-90)" font-family="'Liberation Sans', Arial, sans-serif" font-size="17.3" text-anchor="middle" fill="#000" >28.80<tspan fill="#999">°</tspan>N</text>
<text transform="translate(679.2,204.5) rotate(-90)" font-family="'Liberation Sans', Arial, sans-serif" font-size="17.3" text-anchor="middle" fill="#000" >28.80<tspan fill="#999">°</tspan>N</text>
<text transform="translate(679.2,292) rotate(-90)" font-family="'Liberation Sans', Arial, sans-serif" font-size="17.3" text-anchor="middle" fill="#000" >27.20<tspan fill="#999">°</tspan>N</text>
<text transform="translate(679.2,458.9) rotate(-90)" font-family="'Liberation Sans', Arial, sans-serif" font-size="17.3" text-anchor="middle" fill="#000" >28.80<tspan fill="#999">°</tspan>N</text>
<text transform="translate(679.2,546.4) rotate(-90)" font-family="'Liberation Sans', Arial, sans-serif" font-size="17.3" text-anchor="middle" fill="#000" >27.20<tspan fill="#999">°</tspan>N</text>
<text transform="translate(58,593.2) scale(1.12,1)" font-family="'Liberation Sans', Arial, sans-serif" font-size="15.4" text-anchor="middle" fill="#000" >89<tspan fill="#999">°</tspan> W</text>
<text transform="translate(155,593.2) scale(1.12,1)" font-family="'Liberation Sans', Arial, sans-serif" font-size="15.4" text-anchor="middle" fill="#000" >88.50<tspan fill="#999">°</tspan> W</text>
<text transform="translate(267.7,593.2) scale(1.12,1)" font-family="'Liberation Sans', Arial, sans-serif" font-size="15.4" text-anchor="middle" fill="#000" >88<tspan fill="#999">°</tspan> W</text>
<text transform="translate(385,593.2) scale(1.12,1)" font-family="'Liberation Sans', Arial, sans-serif" font-size="15.4" text-anchor="middle" fill="#000" >89<tspan fill="#999">°</tspan> W</text>
<text transform="translate(482.4,593.2) scale(1.12,1)" font-family="'Liberation Sans', Arial, sans-serif" font-size="15.4" text-anchor="middle" fill="#000" >88.50<tspan fill="#999">°</tspan> W</text>
<text transform="translate(599,593.2) scale(1.12,1)" font-family="'Liberation Sans', Arial, sans-serif" font-size="15.4" text-anchor="middle" fill="#000" >88<tspan fill="#999">°</tspan> W</text>
<text transform="translate(706,593.2) scale(1.12,1)" font-family="'Liberation Sans', Arial, sans-serif" font-size="15.4" text-anchor="middle" fill="#000" >90<tspan fill="#999">°</tspan> W</text>
<text transform="translate(827,593.2) scale(1.12,1)" font-family="'Liberation Sans', Arial, sans-serif" font-size="15.4" text-anchor="middle" fill="#000" >88.50<tspan fill="#999">°</tspan> W</text>
<text transform="translate(943,593.2) scale(1.12,1)" font-family="'Liberation Sans', Arial, sans-serif" font-size="15.4" text-anchor="middle" fill="#000" >87<tspan fill="#999">°</tspan> W</text>
<rect x="47.5" y="606.4" width="264.1" height="301.7" fill="none" stroke="#111" stroke-width="1.25"/>
<path d="M54.1 908.1v-3M54.1 606.4v3M60.7 908.1v-3M60.7 606.4v3M67.3 908.1v-3M67.3 606.4v3M73.9 908.1v-3M73.9 606.4v3M80.5 908.1v-3M80.5 606.4v3M87.1 908.1v-3M87.1 606.4v3M93.7 908.1v-3M93.7 606.4v3M100.3 908.1v-3M100.3 606.4v3M106.9 908.1v-3M106.9 606.4v3M120.1 908.1v-3M120.1 606.4v3M126.7 908.1v-3M126.7 606.4v3M133.3 908.1v-3M133.3 606.4v3M139.9 908.1v-3M139.9 606.4v3M146.5 908.1v-3M146.5 606.4v3M153.1 908.1v-3M153.1 606.4v3M159.7 908.1v-3M159.7 606.4v3M166.3 908.1v-3M166.3 606.4v3M172.9 908.1v-3M172.9 606.4v3M186.2 908.1v-3M186.2 606.4v3M192.8 908.1v-3M192.8 606.4v3M199.4 908.1v-3M199.4 606.4v3M206 908.1v-3M206 606.4v3M212.6 908.1v-3M212.6 606.4v3M219.2 908.1v-3M219.2 606.4v3M225.8 908.1v-3M225.8 606.4v3M232.4 908.1v-3M232.4 606.4v3M239 908.1v-3M239 606.4v3M252.2 908.1v-3M252.2 606.4v3M258.8 908.1v-3M258.8 606.4v3M265.4 908.1v-3M265.4 606.4v3M272 908.1v-3M272 606.4v3M278.6 908.1v-3M278.6 606.4v3M285.2 908.1v-3M285.2 606.4v3M291.8 908.1v-3M291.8 606.4v3M298.4 908.1v-3M298.4 606.4v3M305 908.1v-3M305 606.4v3M113.5 908.1v-6M113.5 606.4v6M179.6 908.1v-6M179.6 606.4v6M245.6 908.1v-6M245.6 606.4v6M47.5 893h3M311.6 893h-3M47.5 877.9h3M311.6 877.9h-3M47.5 862.9h3M311.6 862.9h-3M47.5 847.8h3M311.6 847.8h-3M47.5 817.6h3M311.6 817.6h-3M47.5 802.5h3M311.6 802.5h-3M47.5 787.5h3M311.6 787.5h-3M47.5 772.4h3M311.6 772.4h-3M47.5 742.2h3M311.6 742.2h-3M47.5 727.1h3M311.6 727.1h-3M47.5 712.1h3M311.6 712.1h-3M47.5 697h3M311.6 697h-3M47.5 666.8h3M311.6 666.8h-3M47.5 651.7h3M311.6 651.7h-3M47.5 636.7h3M311.6 636.7h-3M47.5 621.6h3M311.6 621.6h-3M47.5 832.7h6M311.6 832.7h-6M47.5 757.3h6M311.6 757.3h-6M47.5 681.9h6M311.6 681.9h-6" stroke="#111" stroke-width="1.0" fill="none"/>
<path d="M46 854.8a1.5 1.1 0 1 0 3 0a1.5 1.1 0 1 0 -3 0M46.7 854a1.5 1.1 0 1 0 3 0a1.5 1.1 0 1 0 -3 0M47.3 854.7a1.5 1.1 0 1 0 3 0a1.5 1.1 0 1 0 -3 0M48 854.7a1.5 1.1 0 1 0 3 0a1.5 1.1 0 1 0 -3 0M48.6 855.3a1.5 1.1 0 1 0 3 0a1.5 1.1 0 1 0 -3 0M49.3 854.5a1.5 1.1 0 1 0 3 0a1.5 1.1 0 1 0 -3 0M50 853.1a1.5 1.1 0 1 0 3 0a1.5 1.1 0 1 0 -3 0M50.6 853.8a1.5 1.1 0 1 0 3 0a1.5 1.1 0 1 0 -3 0M51.3 853.1a1.5 1.1 0 1 0 3 0a1.5 1.1 0 1 0 -3 0M51.9 853.8a1.5 1.1 0 1 0 3 0a1.5 1.1 0 1 0 -3 0M52.6 853.6a1.5 1.1 0 1 0 3 0a1.5 1.1 0 1 0 -3 0M53.3 853.8a1.5 1.1 0 1 0 3 0a1.5 1.1 0 1 0 -3 0M53.9 855.5a1.5 1.1 0 1 0 3 0a1.5 1.1 0 1 0 -3 0M54.6 853a1.5 1.1 0 1 0 3 0a1.5 1.1 0 1 0 -3 0M55.2 853.3a1.5 1.1 0 1 0 3 0a1.5 1.1 0 1 0 -3 0M55.9 853.2a1.5 1.1 0 1 0 3 0a1.5 1.1 0 1 0 -3 0M56.6 855.3a1.5 1.1 0 1 0 3 0a1.5 1.1 0 1 0 -3 0M57.2 855.3a1.5 1.1 0 1 0 3 0a1.5 1.1 0 1 0 -3 0M57.9 854.4a1.5 1.1 0 1 0 3 0a1.5 1.1 0 1 0 -3 0M58.5 854a1.5 1.1 0 1 0 3 0a1.5 1.1 0 1 0 -3 0M59.2 853.1a1.5 1.1 0 1 0 3 0a1.5 1.1 0 1 0 -3 0M59.9 853.4a1.5 1.1 0 1 0 3 0a1.5 1.1 0 1 0 -3 0M60.5 852.8a1.5 1.1 0 1 0 3 0a1.5 1.1 0 1 0 -3 0M61.2 853.9a1.5 1.1 0 1 0 3 0a1.5 1.1 0 1 0 -3 0M61.9 852.9a1.5 1.1 0 1 0 3 0a1.5 1.1 0 1 0 -3 0M62.5 852.8a1.5 1.1 0 1 0 3 0a1.5 1.1 0 1 0 -3 0M63.2 853.7a1.5 1.1 0 1 0 3 0a1.5 1.1 0 1 0 -3 0M63.8 851.4a1.5 1.1 0 1 0 3 0a1.5 1.1 0 1 0 -3 0M64.5 852.4a1.5 1.1 0 1 0 3 0a1.5 1.1 0 1 0 -3 0M65.2 851.8a1.5 1.1 0 1 0 3 0a1.5 1.1 0 1 0 -3 0M65.8 853.5a1.5 1.1 0 1 0 3 0a1.5 1.1 0 1 0 -3 0M66.5 853.5a1.5 1.1 0 1 0 3 0a1.5 1.1 0 1 0 -3 0M67.1 853.1a1.5 1.1 0 1 0 3 0a1.5 1.1 0 1 0 -3 0M67.8 852.8a1.5 1.1 0 1 0 3 0a1.5 1.1 0 1 0 -3 0M68.5 852a1.5 1.1 0 1 0 3 0a1.5 1.1 0 1 0 -3 0M69.1 852.3a1.5 1.1 0 1 0 3 0a1.5 1.1 0 1 0 -3 0M69.8 853a1.5 1.1 0 1 0 3 0a1.5 1.1 0 1 0 -3 0M70.4 853.4a1.5 1.1 0 1 0 3 0a1.5 1.1 0 1 0 -3 0M71.1 852.9a1.5 1.1 0 1 0 3 0a1.5 1.1 0 1 0 -3 0M71.8 851.2a1.5 1.1 0 1 0 3 0a1.5 1.1 0 1 0 -3 0M72.4 853.1a1.5 1.1 0 1 0 3 0a1.5 1.1 0 1 0 -3 0M73.1 852.1a1.5 1.1 0 1 0 3 0a1.5 1.1 0 1 0 -3 0M73.7 851.9a1.5 1.1 0 1 0 3 0a1.5 1.1 0 1 0 -3 0M74.4 853.8a1.5 1.1 0 1 0 3 0a1.5 1.1 0 1 0 -3 0M75.1 852.3a1.5 1.1 0 1 0 3 0a1.5 1.1 0 1 0 -3 0M75.7 851.1a1.5 1.1 0 1 0 3 0a1.5 1.1 0 1 0 -3 0M76.4 854.4a1.5 1.1 0 1 0 3 0a1.5 1.1 0 1 0 -3 0M77 852.8a1.5 1.1 0 1 0 3 0a1.5 1.1 0 1 0 -3 0M77.7 852.6a1.5 1.1 0 1 0 3 0a1.5 1.1 0 1 0 -3 0M78.4 853.3a1.5 1.1 0 1 0 3 0a1.5 1.1 0 1 0 -3 0M79 852a1.5 1.1 0 1 0 3 0a1.5 1.1 0 1 0 -3 0M79.7 852.6a1.5 1.1 0 1 0 3 0a1.5 1.1 0 1 0 -3 0M80.3 854a1.5 1.1 0 1 0 3 0a1.5 1.1 0 1 0 -3 0M81 851.7a1.5 1.1 0 1 0 3 0a1.5 1.1 0 1 0 -3 0M81.7 851.9a1.5 1.1 0 1 0 3 0a1.5 1.1 0 1 0 -3 0M82.3 851.7a1.5 1.1 0 1 0 3 0a1.5 1.1 0 1 0 -3 0M83 851.2a1.5 1.1 0 1 0 3 0a1.5 1.1 0 1 0 -3 0M83.6 852.3a1.5 1.1 0 1 0 3 0a1.5 1.1 0 1 0 -3 0M84.3 852.5a1.5 1.1 0 1 0 3 0a1.5 1.1 0 1 0 -3 0M85 853.9a1.5 1.1 0 1 0 3 0a1.5 1.1 0 1 0 -3 0M85.6 852.1a1.5 1.1 0 1 0 3 0a1.5 1.1 0 1 0 -3 0M86.3 853.3a1.5 1.1 0 1 0 3 0a1.5 1.1 0 1 0 -3 0M86.9 853.2a1.5 1.1 0 1 0 3 0a1.5 1.1 0 1 0 -3 0M87.6 854a1.5 1.1 0 1 0 3 0a1.5 1.1 0 1 0 -3 0M88.3 853.7a1.5 1.1 0 1 0 3 0a1.5 1.1 0 1 0 -3 0M88.9 853.3a1.5 1.1 0 1 0 3 0a1.5 1.1 0 1 0 -3 0M89.6 851.5a1.5 1.1 0 1 0 3 0a1.5 1.1 0 1 0 -3 0M90.2 854.8a1.5 1.1 0 1 0 3 0a1.5 1.1 0 1 0 -3 0M90.9 854.3a1.5 1.1 0 1 0 3 0a1.5 1.1 0 1 0 -3 0M91.6 852.6a1.5 1.1 0 1 0 3 0a1.5 1.1 0 1 0 -3 0M92.2 851.5a1.5 1.1 0 1 0 3 0a1.5 1.1 0 1 0 -3 0M92.9 852.3a1.5 1.1 0 1 0 3 0a1.5 1.1 0 1 0 -3 0M93.5 854.8a1.5 1.1 0 1 0 3 0a1.5 1.1 0 1 0 -3 0M94.2 855.4a1.5 1.1 0 1 0 3 0a1.5 1.1 0 1 0 -3 0M94.9 852.6a1.5 1.1 0 1 0 3 0a1.5 1.1 0 1 0 -3 0M95.5 853.7a1.5 1.1 0 1 0 3 0a1.5 1.1 0 1 0 -3 0M96.2 854.1a1.5 1.1 0 1 0 3 0a1.5 1.1 0 1 0 -3 0M96.8 852a1.5 1.1 0 1 0 3 0a1.5 1.1 0 1 0 -3 0M97.5 851.9a1.5 1.1 0 1 0 3 0a1.5 1.1 0 1 0 -3 0M98.2 852.9a1.5 1.1 0 1 0 3 0a1.5 1.1 0 1 0 -3 0M98.8 852.8a1.5 1.1 0 1 0 3 0a1.5 1.1 0 1 0 -3 0M99.5 852.6a1.5 1.1 0 1 0 3 0a1.5 1.1 0 1 0 -3 0M100.1 851.4a1.5 1.1 0 1 0 3 0a1.5 1.1 0 1 0 -3 0M100.8 852.3a1.5 1.1 0 1 0 3 0a1.5 1.1 0 1 0 -3 0M101.5 852.4a1.5 1.1 0 1 0 3 0a1.5 1.1 0 1 0 -3 0M102.1 852.3a1.5 1.1 0 1 0 3 0a1.5 1.1 0 1 0 -3 0M102.8 854.4a1.5 1.1 0 1 0 3 0a1.5 1.1 0 1 0 -3 0M103.4 851.5a1.5 1.1 0 1 0 3 0a1.5 1.1 0 1 0 -3 0M104.1 851.8a1.5 1.1 0 1 0 3 0a1.5 1.1 0 1 0 -3 0M104.8 852.2a1.5 1.1 0 1 0 3 0a1.5 1.1 0 1 0 -3 0M105.4 854.6a1.5 1.1 0 1 0 3 0a1.5 1.1 0 1 0 -3 0M106.1 853.3a1.5 1.1 0 1 0 3 0a1.5 1.1 0 1 0 -3 0M106.7 851.8a1.5 1.1 0 1 0 3 0a1.5 1.1 0 1 0 -3 0M107.4 854.3a1.5 1.1 0 1 0 3 0a1.5 1.1 0 1 0 -3 0M108.1 852.7a1.5 1.1 0 1 0 3 0a1.5 1.1 0 1 0 -3 0M108.7 851.5a1.5 1.1 0 1 0 3 0a1.5 1.1 0 1 0 -3 0M109.4 853.7a1.5 1.1 0 1 0 3 0a1.5 1.1 0 1 0 -3 0M110 850.8a1.5 1.1 0 1 0 3 0a1.5 1.1 0 1 0 -3 0M110.7 851.8a1.5 1.1 0 1 0 3 0a1.5 1.1 0 1 0 -3 0M111.4 852.5a1.5 1.1 0 1 0 3 0a1.5 1.1 0 1 0 -3 0M112 852a1.5 1.1 0 1 0 3 0a1.5 1.1 0 1 0 -3 0M112.7 851.6a1.5 1.1 0 1 0 3 0a1.5 1.1 0 1 0 -3 0M113.4 852.1a1.5 1.1 0 1 0 3 0a1.5 1.1 0 1 0 -3 0M114 851.1a1.5 1.1 0 1 0 3 0a1.5 1.1 0 1 0 -3 0M114.7 852.8a1.5 1.1 0 1 0 3 0a1.5 1.1 0 1 0 -3 0M115.3 852.5a1.5 1.1 0 1 0 3 0a1.5 1.1 0 1 0 -3 0M116 851.1a1.5 1.1 0 1 0 3 0a1.5 1.1 0 1 0 -3 0M116.7 852a1.5 1.1 0 1 0 3 0a1.5 1.1 0 1 0 -3 0M117.3 852.9a1.5 1.1 0 1 0 3 0a1.5 1.1 0 1 0 -3 0M118 851a1.5 1.1 0 1 0 3 0a1.5 1.1 0 1 0 -3 0M118.6 850.5a1.5 1.1 0 1 0 3 0a1.5 1.1 0 1 0 -3 0M119.3 852.3a1.5 1.1 0 1 0 3 0a1.5 1.1 0 1 0 -3 0M120 853.2a1.5 1.1 0 1 0 3 0a1.5 1.1 0 1 0 -3 0M120.6 851.9a1.5 1.1 0 1 0 3 0a1.5 1.1 0 1 0 -3 0M121.3 851.9a1.5 1.1 0 1 0 3 0a1.5 1.1 0 1 0 -3 0M121.9 852a1.5 1.1 0 1 0 3 0a1.5 1.1 0 1 0 -3 0M122.6 850.3a1.5 1.1 0 1 0 3 0a1.5 1.1 0 1 0 -3 0M123.3 852.7a1.5 1.1 0 1 0 3 0a1.5 1.1 0 1 0 -3 0M123.9 850.4a1.5 1.1 0 1 0 3 0a1.5 1.1 0 1 0 -3 0M124.6 852.8a1.5 1.1 0 1 0 3 0a1.5 1.1 0 1 0 -3 0M125.2 852.3a1.5 1.1 0 1 0 3 0a1.5 1.1 0 1 0 -3 0M125.9 850.7a1.5 1.1 0 1 0 3 0a1.5 1.1 0 1 0 -3 0M126.6 849.9a1.5 1.1 0 1 0 3 0a1.5 1.1 0 1 0 -3 0M127.2 850a1.5 1.1 0 1 0 3 0a1.5 1.1 0 1 0 -3 0M127.9 850.2a1.5 1.1 0 1 0 3 0a1.5 1.1 0 1 0 -3 0M128.5 850.2a1.5 1.1 0 1 0 3 0a1.5 1.1 0 1 0 -3 0M129.2 849.9a1.5 1.1 0 1 0 3 0a1.5 1.1 0 1 0 -3 0M129.9 849.2a1.5 1.1 0 1 0 3 0a1.5 1.1 0 1 0 -3 0M130.5 849.7a1.5 1.1 0 1 0 3 0a1.5 1.1 0 1 0 -3 0M131.2 849a1.5 1.1 0 1 0 3 0a1.5 1.1 0 1 0 -3 0M131.8 848.5a1.5 1.1 0 1 0 3 0a1.5 1.1 0 1 0 -3 0M132.5 848.8a1.5 1.1 0 1 0 3 0a1.5 1.1 0 1 0 -3 0M133.2 847.8a1.5 1.1 0 1 0 3 0a1.5 1.1 0 1 0 -3 0M133.8 847.7a1.5 1.1 0 1 0 3 0a1.5 1.1 0 1 0 -3 0M134.5 846.1a1.5 1.1 0 1 0 3 0a1.5 1.1 0 1 0 -3 0M135.1 847.5a1.5 1.1 0 1 0 3 0a1.5 1.1 0 1 0 -3 0M135.8 847.6a1.5 1.1 0 1 0 3 0a1.5 1.1 0 1 0 -3 0M136.5 846.9a1.5 1.1 0 1 0 3 0a1.5 1.1 0 1 0 -3 0M137.1 846a1.5 1.1 0 1 0 3 0a1.5 1.1 0 1 0 -3 0M137.8 844.5a1.5 1.1 0 1 0 3 0a1.5 1.1 0 1 0 -3 0M138.4 845.1a1.5 1.1 0 1 0 3 0a1.5 1.1 0 1 0 -3 0M139.1 843.8a1.5 1.1 0 1 0 3 0a1.5 1.1 0 1 0 -3 0M139.8 841.8a1.5 1.1 0 1 0 3 0a1.5 1.1 0 1 0 -3 0M140.4 845.5a1.5 1.1 0 1 0 3 0a1.5 1.1 0 1 0 -3 0M141.1 843.5a1.5 1.1 0 1 0 3 0a1.5 1.1 0 1 0 -3 0M141.7 841.5a1.5 1.1 0 1 0 3 0a1.5 1.1 0 1 0 -3 0M142.4 840.9a1.5 1.1 0 1 0 3 0a1.5 1.1 0 1 0 -3 0M143.1 840.6a1.5 1.1 0 1 0 3 0a1.5 1.1 0 1 0 -3 0M143.7 840.8a1.5 1.1 0 1 0 3 0a1.5 1.1 0 1 0 -3 0M144.4 839.3a1.5 1.1 0 1 0 3 0a1.5 1.1 0 1 0 -3 0M145 839.2a1.5 1.1 0 1 0 3 0a1.5 1.1 0 1 0 -3 0M145.7 839.5a1.5 1.1 0 1 0 3 0a1.5 1.1 0 1 0 -3 0M146.4 836.2a1.5 1.1 0 1 0 3 0a1.5 1.1 0 1 0 -3 0M147 837.8a1.5 1.1 0 1 0 3 0a1.5 1.1 0 1 0 -3 0M147.7 838.2a1.5 1.1 0 1 0 3 0a1.5 1.1 0 1 0 -3 0M148.3 837.3a1.5 1.1 0 1 0 3 0a1.5 1.1 0 1 0 -3 0M149 835.9a1.5 1.1 0 1 0 3 0a1.5 1.1 0 1 0 -3 0M149.7 834.3a1.5 1.1 0 1 0 3 0a1.5 1.1 0 1 0 -3 0M150.3 835.4a1.5 1.1 0 1 0 3 0a1.5 1.1 0 1 0 -3 0M131.8 855a1.5 1.1 0 1 0 3 0a1.5 1.1 0 1 0 -3 0M133.8 849.8a1.5 1.1 0 1 0 3 0a1.5 1.1 0 1 0 -3 0M135.8 855.2a1.5 1.1 0 1 0 3 0a1.5 1.1 0 1 0 -3 0M137.8 850.1a1.5 1.1 0 1 0 3 0a1.5 1.1 0 1 0 -3 0M139.8 845.2a1.5 1.1 0 1 0 3 0a1.5 1.1 0 1 0 -3 0M141.7 843.7a1.5 1.1 0 1 0 3 0a1.5 1.1 0 1 0 -3 0M143.7 840.4a1.5 1.1 0 1 0 3 0a1.5 1.1 0 1 0 -3 0M145.7 848.7a1.5 1.1 0 1 0 3 0a1.5 1.1 0 1 0 -3 0M147.7 843.3a1.5 1.1 0 1 0 3 0a1.5 1.1 0 1 0 -3 0M149.7 839.8a1.5 1.1 0 1 0 3 0a1.5 1.1 0 1 0 -3 0M151 826.7a1.5 1.1 0 1 0 3 0a1.5 1.1 0 1 0 -3 0M151.6 819.1a1.5 1.1 0 1 0 3 0a1.5 1.1 0 1 0 -3 0M152 816.1a1.5 1.1 0 1 0 3 0a1.5 1.1 0 1 0 -3 0M151.3 832.7a1.5 1.1 0 1 0 3 0a1.5 1.1 0 1 0 -3 0M153.6 782.9a1.5 1.1 0 1 0 3 0a1.5 1.1 0 1 0 -3 0M155.5 737.7a1.5 1.1 0 1 0 3 0a1.5 1.1 0 1 0 -3 0M154.9 727.1a1.5 1.1 0 1 0 3 0a1.5 1.1 0 1 0 -3 0M155.9 703a1.5 1.1 0 1 0 3 0a1.5 1.1 0 1 0 -3 0M155.3 698.5a1.5 1.1 0 1 0 3 0a1.5 1.1 0 1 0 -3 0M157.4 681.9a1.5 1.1 0 1 0 3 0a1.5 1.1 0 1 0 -3 0M158.2 652.3a1.5 1.1 0 1 0 3 0a1.5 1.1 0 1 0 -3 0M159.6 638.2a1.5 1.1 0 1 0 3 0a1.5 1.1 0 1 0 -3 0M159.8 641.2a1.5 1.1 0 1 0 3 0a1.5 1.1 0 1 0 -3 0M160.2 653.2a1.5 1.1 0 1 0 3 0a1.5 1.1 0 1 0 -3 0M160.9 663.2a1.5 1.1 0 1 0 3 0a1.5 1.1 0 1 0 -3 0M161.5 661.7a1.5 1.1 0 1 0 3 0a1.5 1.1 0 1 0 -3 0M162.2 674.2a1.5 1.1 0 1 0 3 0a1.5 1.1 0 1 0 -3 0M162.9 661.7a1.5 1.1 0 1 0 3 0a1.5 1.1 0 1 0 -3 0M163.5 670.1a1.5 1.1 0 1 0 3 0a1.5 1.1 0 1 0 -3 0M164.2 663a1.5 1.1 0 1 0 3 0a1.5 1.1 0 1 0 -3 0M164.8 670.3a1.5 1.1 0 1 0 3 0a1.5 1.1 0 1 0 -3 0M165.5 664.7a1.5 1.1 0 1 0 3 0a1.5 1.1 0 1 0 -3 0M166.2 661.3a1.5 1.1 0 1 0 3 0a1.5 1.1 0 1 0 -3 0M166.8 665.8a1.5 1.1 0 1 0 3 0a1.5 1.1 0 1 0 -3 0M167.5 664.7a1.5 1.1 0 1 0 3 0a1.5 1.1 0 1 0 -3 0M168.2 662.7a1.5 1.1 0 1 0 3 0a1.5 1.1 0 1 0 -3 0M168.8 664.8a1.5 1.1 0 1 0 3 0a1.5 1.1 0 1 0 -3 0M169.5 665.6a1.5 1.1 0 1 0 3 0a1.5 1.1 0 1 0 -3 0M170.1 660.2a1.5 1.1 0 1 0 3 0a1.5 1.1 0 1 0 -3 0M170.8 661.8a1.5 1.1 0 1 0 3 0a1.5 1.1 0 1 0 -3 0M171.5 666.3a1.5 1.1 0 1 0 3 0a1.5 1.1 0 1 0 -3 0M172.1 656.2a1.5 1.1 0 1 0 3 0a1.5 1.1 0 1 0 -3 0M172.8 669.1a1.5 1.1 0 1 0 3 0a1.5 1.1 0 1 0 -3 0M173.4 662.3a1.5 1.1 0 1 0 3 0a1.5 1.1 0 1 0 -3 0M174.1 666.2a1.5 1.1 0 1 0 3 0a1.5 1.1 0 1 0 -3 0M174.1 658.8a1.5 1.1 0 1 0 3 0a1.5 1.1 0 1 0 -3 0M174.8 656.6a1.5 1.1 0 1 0 3 0a1.5 1.1 0 1 0 -3 0M175.4 658.4a1.5 1.1 0 1 0 3 0a1.5 1.1 0 1 0 -3 0M176.1 656.9a1.5 1.1 0 1 0 3 0a1.5 1.1 0 1 0 -3 0M176.7 665a1.5 1.1 0 1 0 3 0a1.5 1.1 0 1 0 -3 0M177.4 665a1.5 1.1 0 1 0 3 0a1.5 1.1 0 1 0 -3 0M178.1 657a1.5 1.1 0 1 0 3 0a1.5 1.1 0 1 0 -3 0M178.7 662.9a1.5 1.1 0 1 0 3 0a1.5 1.1 0 1 0 -3 0M179.4 663.2a1.5 1.1 0 1 0 3 0a1.5 1.1 0 1 0 -3 0M180 664.8a1.5 1.1 0 1 0 3 0a1.5 1.1 0 1 0 -3 0M180.7 654.5a1.5 1.1 0 1 0 3 0a1.5 1.1 0 1 0 -3 0M181.4 656.5a1.5 1.1 0 1 0 3 0a1.5 1.1 0 1 0 -3 0M182 653.7a1.5 1.1 0 1 0 3 0a1.5 1.1 0 1 0 -3 0M182.7 662.8a1.5 1.1 0 1 0 3 0a1.5 1.1 0 1 0 -3 0M183.3 659.3a1.5 1.1 0 1 0 3 0a1.5 1.1 0 1 0 -3 0M184 663.6a1.5 1.1 0 1 0 3 0a1.5 1.1 0 1 0 -3 0M180.7 672.9a1.5 1.1 0 1 0 3 0a1.5 1.1 0 1 0 -3 0M182 674.4a1.5 1.1 0 1 0 3 0a1.5 1.1 0 1 0 -3 0M193.9 675.9a1.5 1.1 0 1 0 3 0a1.5 1.1 0 1 0 -3 0M184.7 697a1.5 1.1 0 1 0 3 0a1.5 1.1 0 1 0 -3 0M186 707.5a1.5 1.1 0 1 0 3 0a1.5 1.1 0 1 0 -3 0M194.2 706a1.5 1.1 0 1 0 3 0a1.5 1.1 0 1 0 -3 0M193.2 706.8a1.5 1.1 0 1 0 3 0a1.5 1.1 0 1 0 -3 0M185.3 721.1a1.5 1.1 0 1 0 3 0a1.5 1.1 0 1 0 -3 0M184.7 755.8a1.5 1.1 0 1 0 3 0a1.5 1.1 0 1 0 -3 0M186.3 766.3a1.5 1.1 0 1 0 3 0a1.5 1.1 0 1 0 -3 0M191.3 764.8a1.5 1.1 0 1 0 3 0a1.5 1.1 0 1 0 -3 0M196.5 761.8a1.5 1.1 0 1 0 3 0a1.5 1.1 0 1 0 -3 0M197.5 759.6a1.5 1.1 0 1 0 3 0a1.5 1.1 0 1 0 -3 0M195.2 745.2a1.5 1.1 0 1 0 3 0a1.5 1.1 0 1 0 -3 0M196.5 746a1.5 1.1 0 1 0 3 0a1.5 1.1 0 1 0 -3 0M197.5 748.3a1.5 1.1 0 1 0 3 0a1.5 1.1 0 1 0 -3 0M198.5 754.3a1.5 1.1 0 1 0 3 0a1.5 1.1 0 1 0 -3 0M199.5 755a1.5 1.1 0 1 0 3 0a1.5 1.1 0 1 0 -3 0M201.2 795a1.5 1.1 0 1 0 3 0a1.5 1.1 0 1 0 -3 0M191.3 810.1a1.5 1.1 0 1 0 3 0a1.5 1.1 0 1 0 -3 0M202.8 819.1a1.5 1.1 0 1 0 3 0a1.5 1.1 0 1 0 -3 0M186.6 820.6a1.5 1.1 0 1 0 3 0a1.5 1.1 0 1 0 -3 0M188.9 836.5a1.5 1.1 0 1 0 3 0a1.5 1.1 0 1 0 -3 0M189.9 837.2a1.5 1.1 0 1 0 3 0a1.5 1.1 0 1 0 -3 0M204.5 836.5a1.5 1.1 0 1 0 3 0a1.5 1.1 0 1 0 -3 0M205.1 837.2a1.5 1.1 0 1 0 3 0a1.5 1.1 0 1 0 -3 0M205.1 842.5a1.5 1.1 0 1 0 3 0a1.5 1.1 0 1 0 -3 0M205.8 841.8a1.5 1.1 0 1 0 3 0a1.5 1.1 0 1 0 -3 0M206.4 844.3a1.5 1.1 0 1 0 3 0a1.5 1.1 0 1 0 -3 0M207.1 842a1.5 1.1 0 1 0 3 0a1.5 1.1 0 1 0 -3 0M207.8 842.6a1.5 1.1 0 1 0 3 0a1.5 1.1 0 1 0 -3 0M208.4 843.8a1.5 1.1 0 1 0 3 0a1.5 1.1 0 1 0 -3 0M209.1 845.7a1.5 1.1 0 1 0 3 0a1.5 1.1 0 1 0 -3 0M209.7 842.4a1.5 1.1 0 1 0 3 0a1.5 1.1 0 1 0 -3 0M210.4 844a1.5 1.1 0 1 0 3 0a1.5 1.1 0 1 0 -3 0M211.1 844.6a1.5 1.1 0 1 0 3 0a1.5 1.1 0 1 0 -3 0M211.7 843.7a1.5 1.1 0 1 0 3 0a1.5 1.1 0 1 0 -3 0M212.4 843.7a1.5 1.1 0 1 0 3 0a1.5 1.1 0 1 0 -3 0M213 842.7a1.5 1.1 0 1 0 3 0a1.5 1.1 0 1 0 -3 0M213.7 845.3a1.5 1.1 0 1 0 3 0a1.5 1.1 0 1 0 -3 0M214.4 843.3a1.5 1.1 0 1 0 3 0a1.5 1.1 0 1 0 -3 0M215 843a1.5 1.1 0 1 0 3 0a1.5 1.1 0 1 0 -3 0M215.7 843.1a1.5 1.1 0 1 0 3 0a1.5 1.1 0 1 0 -3 0M216.3 844.8a1.5 1.1 0 1 0 3 0a1.5 1.1 0 1 0 -3 0M217 845.4a1.5 1.1 0 1 0 3 0a1.5 1.1 0 1 0 -3 0M217.7 843.8a1.5 1.1 0 1 0 3 0a1.5 1.1 0 1 0 -3 0M218.3 844.7a1.5 1.1 0 1 0 3 0a1.5 1.1 0 1 0 -3 0M219 844.7a1.5 1.1 0 1 0 3 0a1.5 1.1 0 1 0 -3 0M219.7 843.4a1.5 1.1 0 1 0 3 0a1.5 1.1 0 1 0 -3 0M220.3 845.1a1.5 1.1 0 1 0 3 0a1.5 1.1 0 1 0 -3 0M221 847.1a1.5 1.1 0 1 0 3 0a1.5 1.1 0 1 0 -3 0M221.6 845.3a1.5 1.1 0 1 0 3 0a1.5 1.1 0 1 0 -3 0M222.3 846.8a1.5 1.1 0 1 0 3 0a1.5 1.1 0 1 0 -3 0M223 844.2a1.5 1.1 0 1 0 3 0a1.5 1.1 0 1 0 -3 0M223.6 844.7a1.5 1.1 0 1 0 3 0a1.5 1.1 0 1 0 -3 0M224.3 845.6a1.5 1.1 0 1 0 3 0a1.5 1.1 0 1 0 -3 0M224.9 845a1.5 1.1 0 1 0 3 0a1.5 1.1 0 1 0 -3 0M225.6 844.2a1.5 1.1 0 1 0 3 0a1.5 1.1 0 1 0 -3 0M226.3 845a1.5 1.1 0 1 0 3 0a1.5 1.1 0 1 0 -3 0M226.9 843.8a1.5 1.1 0 1 0 3 0a1.5 1.1 0 1 0 -3 0M227.6 845.2a1.5 1.1 0 1 0 3 0a1.5 1.1 0 1 0 -3 0M228.2 844.1a1.5 1.1 0 1 0 3 0a1.5 1.1 0 1 0 -3 0M228.9 843.7a1.5 1.1 0 1 0 3 0a1.5 1.1 0 1 0 -3 0M229.6 843.6a1.5 1.1 0 1 0 3 0a1.5 1.1 0 1 0 -3 0M230.2 845.9a1.5 1.1 0 1 0 3 0a1.5 1.1 0 1 0 -3 0M230.9 844.4a1.5 1.1 0 1 0 3 0a1.5 1.1 0 1 0 -3 0M231.5 847.1a1.5 1.1 0 1 0 3 0a1.5 1.1 0 1 0 -3 0M232.2 846.4a1.5 1.1 0 1 0 3 0a1.5 1.1 0 1 0 -3 0M232.9 847.3a1.5 1.1 0 1 0 3 0a1.5 1.1 0 1 0 -3 0M233.5 844.3a1.5 1.1 0 1 0 3 0a1.5 1.1 0 1 0 -3 0M234.2 846.6a1.5 1.1 0 1 0 3 0a1.5 1.1 0 1 0 -3 0M234.8 845.4a1.5 1.1 0 1 0 3 0a1.5 1.1 0 1 0 -3 0M235.5 845.6a1.5 1.1 0 1 0 3 0a1.5 1.1 0 1 0 -3 0M236.2 845.5a1.5 1.1 0 1 0 3 0a1.5 1.1 0 1 0 -3 0M236.8 846.1a1.5 1.1 0 1 0 3 0a1.5 1.1 0 1 0 -3 0M237.5 845.3a1.5 1.1 0 1 0 3 0a1.5 1.1 0 1 0 -3 0M238.1 843.8a1.5 1.1 0 1 0 3 0a1.5 1.1 0 1 0 -3 0M238.8 845.5a1.5 1.1 0 1 0 3 0a1.5 1.1 0 1 0 -3 0M239.5 845.1a1.5 1.1 0 1 0 3 0a1.5 1.1 0 1 0 -3 0M240.1 844.6a1.5 1.1 0 1 0 3 0a1.5 1.1 0 1 0 -3 0M240.8 845.8a1.5 1.1 0 1 0 3 0a1.5 1.1 0 1 0 -3 0M241.4 846.9a1.5 1.1 0 1 0 3 0a1.5 1.1 0 1 0 -3 0M242.1 846.2a1.5 1.1 0 1 0 3 0a1.5 1.1 0 1 0 -3 0M242.8 844.6a1.5 1.1 0 1 0 3 0a1.5 1.1 0 1 0 -3 0M243.4 847.3a1.5 1.1 0 1 0 3 0a1.5 1.1 0 1 0 -3 0M244.1 846.3a1.5 1.1 0 1 0 3 0a1.5 1.1 0 1 0 -3 0M244.7 844.7a1.5 1.1 0 1 0 3 0a1.5 1.1 0 1 0 -3 0M245.4 845a1.5 1.1 0 1 0 3 0a1.5 1.1 0 1 0 -3 0M246.1 845.8a1.5 1.1 0 1 0 3 0a1.5 1.1 0 1 0 -3 0M246.7 845a1.5 1.1 0 1 0 3 0a1.5 1.1 0 1 0 -3 0M247.4 845.6a1.5 1.1 0 1 0 3 0a1.5 1.1 0 1 0 -3 0M248 847a1.5 1.1 0 1 0 3 0a1.5 1.1 0 1 0 -3 0M248.7 847.4a1.5 1.1 0 1 0 3 0a1.5 1.1 0 1 0 -3 0M249.4 846.5a1.5 1.1 0 1 0 3 0a1.5 1.1 0 1 0 -3 0M250 845a1.5 1.1 0 1 0 3 0a1.5 1.1 0 1 0 -3 0M250.7 846.4a1.5 1.1 0 1 0 3 0a1.5 1.1 0 1 0 -3 0M251.3 846.8a1.5 1.1 0 1 0 3 0a1.5 1.1 0 1 0 -3 0M252 846.7a1.5 1.1 0 1 0 3 0a1.5 1.1 0 1 0 -3 0M252.7 847.5a1.5 1.1 0 1 0 3 0a1.5 1.1 0 1 0 -3 0M253.3 846.1a1.5 1.1 0 1 0 3 0a1.5 1.1 0 1 0 -3 0M254 847.1a1.5 1.1 0 1 0 3 0a1.5 1.1 0 1 0 -3 0M254.6 845.7a1.5 1.1 0 1 0 3 0a1.5 1.1 0 1 0 -3 0M255.3 848.3a1.5 1.1 0 1 0 3 0a1.5 1.1 0 1 0 -3 0M256 845.7a1.5 1.1 0 1 0 3 0a1.5 1.1 0 1 0 -3 0M256.6 846.7a1.5 1.1 0 1 0 3 0a1.5 1.1 0 1 0 -3 0M257.3 848a1.5 1.1 0 1 0 3 0a1.5 1.1 0 1 0 -3 0M257.9 845.4a1.5 1.1 0 1 0 3 0a1.5 1.1 0 1 0 -3 0M258.6 846.4a1.5 1.1 0 1 0 3 0a1.5 1.1 0 1 0 -3 0M259.3 848.3a1.5 1.1 0 1 0 3 0a1.5 1.1 0 1 0 -3 0M259.9 847a1.5 1.1 0 1 0 3 0a1.5 1.1 0 1 0 -3 0M260.6 845.9a1.5 1.1 0 1 0 3 0a1.5 1.1 0 1 0 -3 0M261.2 846.6a1.5 1.1 0 1 0 3 0a1.5 1.1 0 1 0 -3 0M261.9 845.5a1.5 1.1 0 1 0 3 0a1.5 1.1 0 1 0 -3 0M262.6 845.5a1.5 1.1 0 1 0 3 0a1.5 1.1 0 1 0 -3 0M263.2 845.6a1.5 1.1 0 1 0 3 0a1.5 1.1 0 1 0 -3 0M263.9 846a1.5 1.1 0 1 0 3 0a1.5 1.1 0 1 0 -3 0M264.5 844.9a1.5 1.1 0 1 0 3 0a1.5 1.1 0 1 0 -3 0M265.2 845.4a1.5 1.1 0 1 0 3 0a1.5 1.1 0 1 0 -3 0M265.9 845.5a1.5 1.1 0 1 0 3 0a1.5 1.1 0 1 0 -3 0M266.5 847.9a1.5 1.1 0 1 0 3 0a1.5 1.1 0 1 0 -3 0M267.2 844.8a1.5 1.1 0 1 0 3 0a1.5 1.1 0 1 0 -3 0M267.8 844.3a1.5 1.1 0 1 0 3 0a1.5 1.1 0 1 0 -3 0M268.5 845.8a1.5 1.1 0 1 0 3 0a1.5 1.1 0 1 0 -3 0M269.2 845.8a1.5 1.1 0 1 0 3 0a1.5 1.1 0 1 0 -3 0M269.8 843.4a1.5 1.1 0 1 0 3 0a1.5 1.1 0 1 0 -3 0M270.5 846.9a1.5 1.1 0 1 0 3 0a1.5 1.1 0 1 0 -3 0M271.2 844.6a1.5 1.1 0 1 0 3 0a1.5 1.1 0 1 0 -3 0M271.8 842.5a1.5 1.1 0 1 0 3 0a1.5 1.1 0 1 0 -3 0M272.5 845.7a1.5 1.1 0 1 0 3 0a1.5 1.1 0 1 0 -3 0M273.1 844a1.5 1.1 0 1 0 3 0a1.5 1.1 0 1 0 -3 0M273.8 842.7a1.5 1.1 0 1 0 3 0a1.5 1.1 0 1 0 -3 0M274.5 844.6a1.5 1.1 0 1 0 3 0a1.5 1.1 0 1 0 -3 0M275.1 843.8a1.5 1.1 0 1 0 3 0a1.5 1.1 0 1 0 -3 0M275.8 843.4a1.5 1.1 0 1 0 3 0a1.5 1.1 0 1 0 -3 0M276.4 845a1.5 1.1 0 1 0 3 0a1.5 1.1 0 1 0 -3 0M277.1 844.1a1.5 1.1 0 1 0 3 0a1.5 1.1 0 1 0 -3 0M277.8 843.6a1.5 1.1 0 1 0 3 0a1.5 1.1 0 1 0 -3 0M278.4 843.1a1.5 1.1 0 1 0 3 0a1.5 1.1 0 1 0 -3 0M279.1 843.8a1.5 1.1 0 1 0 3 0a1.5 1.1 0 1 0 -3 0M279.7 843.9a1.5 1.1 0 1 0 3 0a1.5 1.1 0 1 0 -3 0M280.4 844.6a1.5 1.1 0 1 0 3 0a1.5 1.1 0 1 0 -3 0M281.1 843.9a1.5 1.1 0 1 0 3 0a1.5 1.1 0 1 0 -3 0M281.7 842.6a1.5 1.1 0 1 0 3 0a1.5 1.1 0 1 0 -3 0M282.4 843.3a1.5 1.1 0 1 0 3 0a1.5 1.1 0 1 0 -3 0M283 844.2a1.5 1.1 0 1 0 3 0a1.5 1.1 0 1 0 -3 0M283.7 844.1a1.5 1.1 0 1 0 3 0a1.5 1.1 0 1 0 -3 0M284.4 840.6a1.5 1.1 0 1 0 3 0a1.5 1.1 0 1 0 -3 0M285 842a1.5 1.1 0 1 0 3 0a1.5 1.1 0 1 0 -3 0M285.7 842.4a1.5 1.1 0 1 0 3 0a1.5 1.1 0 1 0 -3 0M286.3 845.5a1.5 1.1 0 1 0 3 0a1.5 1.1 0 1 0 -3 0M287 842.3a1.5 1.1 0 1 0 3 0a1.5 1.1 0 1 0 -3 0M287.7 842.3a1.5 1.1 0 1 0 3 0a1.5 1.1 0 1 0 -3 0M288.3 841.1a1.5 1.1 0 1 0 3 0a1.5 1.1 0 1 0 -3 0M289 842.2a1.5 1.1 0 1 0 3 0a1.5 1.1 0 1 0 -3 0M289.6 842.6a1.5 1.1 0 1 0 3 0a1.5 1.1 0 1 0 -3 0M290.3 842a1.5 1.1 0 1 0 3 0a1.5 1.1 0 1 0 -3 0M291 844.3a1.5 1.1 0 1 0 3 0a1.5 1.1 0 1 0 -3 0M291.6 841.3a1.5 1.1 0 1 0 3 0a1.5 1.1 0 1 0 -3 0M292.3 841.9a1.5 1.1 0 1 0 3 0a1.5 1.1 0 1 0 -3 0M292.9 842.8a1.5 1.1 0 1 0 3 0a1.5 1.1 0 1 0 -3 0M293.6 840.7a1.5 1.1 0 1 0 3 0a1.5 1.1 0 1 0 -3 0M294.3 840.1a1.5 1.1 0 1 0 3 0a1.5 1.1 0 1 0 -3 0M294.9 843.2a1.5 1.1 0 1 0 3 0a1.5 1.1 0 1 0 -3 0M295.6 842.4a1.5 1.1 0 1 0 3 0a1.5 1.1 0 1 0 -3 0M296.2 841.3a1.5 1.1 0 1 0 3 0a1.5 1.1 0 1 0 -3 0M296.9 841.3a1.5 1.1 0 1 0 3 0a1.5 1.1 0 1 0 -3 0M297.6 841.8a1.5 1.1 0 1 0 3 0a1.5 1.1 0 1 0 -3 0M298.2 842.3a1.5 1.1 0 1 0 3 0a1.5 1.1 0 1 0 -3 0M298.9 839.1a1.5 1.1 0 1 0 3 0a1.5 1.1 0 1 0 -3 0M299.5 840.1a1.5 1.1 0 1 0 3 0a1.5 1.1 0 1 0 -3 0M300.2 842.2a1.5 1.1 0 1 0 3 0a1.5 1.1 0 1 0 -3 0M300.9 842.5a1.5 1.1 0 1 0 3 0a1.5 1.1 0 1 0 -3 0M301.5 839.6a1.5 1.1 0 1 0 3 0a1.5 1.1 0 1 0 -3 0M302.2 840.5a1.5 1.1 0 1 0 3 0a1.5 1.1 0 1 0 -3 0M302.8 839.8a1.5 1.1 0 1 0 3 0a1.5 1.1 0 1 0 -3 0M303.5 841a1.5 1.1 0 1 0 3 0a1.5 1.1 0 1 0 -3 0M304.2 842.8a1.5 1.1 0 1 0 3 0a1.5 1.1 0 1 0 -3 0M304.8 841.8a1.5 1.1 0 1 0 3 0a1.5 1.1 0 1 0 -3 0M305.5 844.3a1.5 1.1 0 1 0 3 0a1.5 1.1 0 1 0 -3 0M306.1 843.1a1.5 1.1 0 1 0 3 0a1.5 1.1 0 1 0 -3 0M306.8 842.6a1.5 1.1 0 1 0 3 0a1.5 1.1 0 1 0 -3 0M307.5 842.1a1.5 1.1 0 1 0 3 0a1.5 1.1 0 1 0 -3 0M308.1 843.5a1.5 1.1 0 1 0 3 0a1.5 1.1 0 1 0 -3 0M308.8 843.1a1.5 1.1 0 1 0 3 0a1.5 1.1 0 1 0 -3 0M309.4 842.7a1.5 1.1 0 1 0 3 0a1.5 1.1 0 1 0 -3 0M310.1 842.9a1.5 1.1 0 1 0 3 0a1.5 1.1 0 1 0 -3 0" fill="none" stroke="#000" stroke-width="0.8"/>
<polyline points="47.5,835.8 48.8,835.9 50.1,836.1 51.5,835.8 52.8,836 54.1,836.2 55.4,836.2 56.7,836 58.1,836 59.4,835.9 60.7,835.9 62,835.9 63.3,836 64.7,836.3 66,835.8 67.3,835.6 68.6,835.8 69.9,835.9 71.3,835.7 72.6,836.2 73.9,836.4 75.2,835.8 76.6,836.1 77.9,835.6 79.2,836.2 80.5,836.6 81.8,836.1 83.2,835.3 84.5,835.9 85.8,836.2 87.1,836 88.4,835.6 89.8,835.6 91.1,835.7 92.4,835.3 93.7,835.5 95,835.8 96.4,835.6 97.7,835.2 99,835.4 100.3,835.4 101.6,836 103,835.7 104.3,835.3 105.6,835.6 106.9,835.1 108.2,835.2 109.6,835.1 110.9,835.4 112.2,834.5 113.5,834.8 114.8,835.2 116.2,835.1 117.5,834.3 118.8,835.1 120.1,834.7 121.4,834.6 122.8,834.9 124.1,835.2 125.4,834.7 126.7,834.6 128.1,834.3 129.4,834.4 130.7,834.6 132,834.3 133.3,834.3 134.7,834.3 136,834.3 137.3,834.4 138.6,834.1 139.9,834.5 141.3,834.3 142.6,834 143.9,834.3 145.2,833.9 146.5,834.3 147.9,833.8 149.2,833.3 150.5,832.5 151.8,831.2 153.1,829.8 154.5,828.6 155.8,825.6 157.1,823.9 158.4,821.6 159.7,820.1 161.1,820 162.4,820.5 163.7,819.8 165,819.8 166.3,820.7 167.7,820.1 169,820 170.3,820.7 171.6,820.7 172.9,820.4 174.3,820.2 175.6,820.4 176.9,819.9 178.2,819.8 179.6,819.6 180.9,819.5 182.2,819.2 183.5,819.3 184.8,820 186.2,821.8 187.5,824 188.8,827.6 190.1,830.9 191.4,832.2 192.8,831 194.1,825.1 195.4,822.2 196.7,822.8 198,823.7 199.4,824.5 200.7,825.2 202,827.9 203.3,830 204.6,832.6 206,832.7 207.3,832.9 208.6,832.8 209.9,833.5 211.2,833 212.6,832.7 213.9,833.2 215.2,832.6 216.5,832.7 217.8,833.1 219.2,832.8 220.5,832.8 221.8,832.5 223.1,832.4 224.4,832.6 225.8,832.8 227.1,832.5 228.4,832.5 229.7,832.2 231,832.3 232.4,832.6 233.7,832.7 235,832.4 236.3,832.5 237.7,832.6 239,832.2 240.3,832.3 241.6,832.1 242.9,831.9 244.3,832.2 245.6,831.3 246.9,832.1 248.2,831.6 249.5,831.9 250.9,831.5 252.2,832.6 253.5,832 254.8,831.7 256.1,831.6 257.5,831 258.8,831.6 260.1,831.2 261.4,831.4 262.7,831.3 264.1,831.4 265.4,831.5 266.7,831.3 268,831.7 269.3,831 270.7,831.6 272,831.2 273.3,830.6 274.6,831.3 275.9,831.1 277.3,830.8 278.6,831.1 279.9,831.3 281.2,830.9 282.5,830.8 283.9,830.7 285.2,831.1 286.5,830.3 287.8,830.3 289.2,830.7 290.5,830.6 291.8,830.8 293.1,830.2 294.4,830.8 295.8,830.3 297.1,830.6 298.4,830.6 299.7,830.2 301,829.9 302.4,830.3 303.7,830.4 305,830 306.3,830.2 307.6,830 309,829.6 310.3,829.7 311.6,830.1" fill="none" stroke="#f00" stroke-width="1.1" />
<path d="M72.3 883.8h39" stroke="#f00" stroke-width="1.4"/>
<text transform="translate(128,888.6) scale(1.06,1)" font-family="'Liberation Sans', Arial, sans-serif" font-size="19.8" text-anchor="start" fill="#222" >R<tspan font-size="14" dy="3.5">s</tspan><tspan dy="-3.5"> vs. L'</tspan><tspan font-size="12.5" dy="4">GN</tspan></text>
<text transform="translate(45.5,926.2) scale(1.05,1)" font-family="'Liberation Sans', Arial, sans-serif" font-size="16.4" text-anchor="middle" fill="#000" >0</text>
<text transform="translate(113.5,926.2) scale(1.05,1)" font-family="'Liberation Sans', Arial, sans-serif" font-size="16.4" text-anchor="middle" fill="#000" >100</text>
<text transform="translate(179.6,926.2) scale(1.05,1)" font-family="'Liberation Sans', Arial, sans-serif" font-size="16.4" text-anchor="middle" fill="#000" >200</text>
<text transform="translate(245.6,926.2) scale(1.05,1)" font-family="'Liberation Sans', Arial, sans-serif" font-size="16.4" text-anchor="middle" fill="#000" >300</text>
<text transform="translate(313.1,926.2) scale(1.05,1)" font-family="'Liberation Sans', Arial, sans-serif" font-size="16.4" text-anchor="middle" fill="#000" >400</text>
<text transform="translate(177.6,943.8) scale(1.1,1)" font-family="'Liberation Sans', Arial, sans-serif" font-size="15.6" text-anchor="middle" fill="#000" >Pixel number</text>
<text transform="translate(42.7,612) scale(1.1,1) rotate(-90)" font-family="'Liberation Sans', Arial, sans-serif" font-size="17" text-anchor="middle" fill="#000" >2.5</text>
<text transform="translate(42.7,686) scale(1.1,1) rotate(-90)" font-family="'Liberation Sans', Arial, sans-serif" font-size="17" text-anchor="middle" fill="#000" >2.0</text>
<text transform="translate(42.7,757) scale(1.1,1) rotate(-90)" font-family="'Liberation Sans', Arial, sans-serif" font-size="17" text-anchor="middle" fill="#000" >1.5</text>
<text transform="translate(42.7,833.7) scale(1.1,1) rotate(-90)" font-family="'Liberation Sans', Arial, sans-serif" font-size="17" text-anchor="middle" fill="#000" >1.0</text>
<text transform="translate(42.7,895.3) scale(1.1,1) rotate(-90)" font-family="'Liberation Sans', Arial, sans-serif" font-size="17" text-anchor="middle" fill="#000" >0.5</text>
<text transform="translate(22.7,759) scale(1.1,1) rotate(-90)" font-family="'Liberation Sans', Arial, sans-serif" font-size="16.9" text-anchor="middle" fill="#000" >R = L'<tspan font-size="11" dy="3">GN</tspan><tspan dy="-3"> / L</tspan><tspan font-size="11" dy="3">GN</tspan></text>
<text transform="translate(62,637.5)" font-family="'Liberation Serif', 'Times New Roman', serif" font-size="22" text-anchor="start" fill="#000" font-weight="bold" font-style="italic" >(g)</text>
<rect x="369.3" y="606.4" width="264.1" height="301.7" fill="none" stroke="#111" stroke-width="1.25"/>
<path d="M375.9 908.1v-3M375.9 606.4v3M382.5 908.1v-3M382.5 606.4v3M389.1 908.1v-3M389.1 606.4v3M395.7 908.1v-3M395.7 606.4v3M402.3 908.1v-3M402.3 606.4v3M408.9 908.1v-3M408.9 606.4v3M415.5 908.1v-3M415.5 606.4v3M422.1 908.1v-3M422.1 606.4v3M428.7 908.1v-3M428.7 606.4v3M441.9 908.1v-3M441.9 606.4v3M448.5 908.1v-3M448.5 606.4v3M455.1 908.1v-3M455.1 606.4v3M461.7 908.1v-3M461.7 606.4v3M468.3 908.1v-3M468.3 606.4v3M474.9 908.1v-3M474.9 606.4v3M481.5 908.1v-3M481.5 606.4v3M488.1 908.1v-3M488.1 606.4v3M494.7 908.1v-3M494.7 606.4v3M508 908.1v-3M508 606.4v3M514.6 908.1v-3M514.6 606.4v3M521.2 908.1v-3M521.2 606.4v3M527.8 908.1v-3M527.8 606.4v3M534.4 908.1v-3M534.4 606.4v3M541 908.1v-3M541 606.4v3M547.6 908.1v-3M547.6 606.4v3M554.2 908.1v-3M554.2 606.4v3M560.8 908.1v-3M560.8 606.4v3M574 908.1v-3M574 606.4v3M580.6 908.1v-3M580.6 606.4v3M587.2 908.1v-3M587.2 606.4v3M593.8 908.1v-3M593.8 606.4v3M600.4 908.1v-3M600.4 606.4v3M607 908.1v-3M607 606.4v3M613.6 908.1v-3M613.6 606.4v3M620.2 908.1v-3M620.2 606.4v3M626.8 908.1v-3M626.8 606.4v3M435.3 908.1v-6M435.3 606.4v6M501.4 908.1v-6M501.4 606.4v6M567.4 908.1v-6M567.4 606.4v6M369.3 618.5h3M633.4 618.5h-3M369.3 630.5h3M633.4 630.5h-3M369.3 642.6h3M633.4 642.6h-3M369.3 654.7h3M633.4 654.7h-3M369.3 678.8h3M633.4 678.8h-3M369.3 690.9h3M633.4 690.9h-3M369.3 702.9h3M633.4 702.9h-3M369.3 715h3M633.4 715h-3M369.3 739.1h3M633.4 739.1h-3M369.3 751.2h3M633.4 751.2h-3M369.3 763.3h3M633.4 763.3h-3M369.3 775.4h3M633.4 775.4h-3M369.3 799.5h3M633.4 799.5h-3M369.3 811.6h3M633.4 811.6h-3M369.3 823.6h3M633.4 823.6h-3M369.3 835.7h3M633.4 835.7h-3M369.3 859.8h3M633.4 859.8h-3M369.3 871.9h3M633.4 871.9h-3M369.3 884h3M633.4 884h-3M369.3 896h3M633.4 896h-3M369.3 666.7h6M633.4 666.7h-6M369.3 727.1h6M633.4 727.1h-6M369.3 787.4h6M633.4 787.4h-6M369.3 847.8h6M633.4 847.8h-6" stroke="#111" stroke-width="1.0" fill="none"/>
<path d="M367.8 858.2a1.5 1.1 0 1 0 3 0a1.5 1.1 0 1 0 -3 0M368.5 859.6a1.5 1.1 0 1 0 3 0a1.5 1.1 0 1 0 -3 0M369.1 857.7a1.5 1.1 0 1 0 3 0a1.5 1.1 0 1 0 -3 0M369.8 858.2a1.5 1.1 0 1 0 3 0a1.5 1.1 0 1 0 -3 0M370.4 856.5a1.5 1.1 0 1 0 3 0a1.5 1.1 0 1 0 -3 0M371.1 857.3a1.5 1.1 0 1 0 3 0a1.5 1.1 0 1 0 -3 0M371.8 852.5a1.5 1.1 0 1 0 3 0a1.5 1.1 0 1 0 -3 0M372.4 851.9a1.5 1.1 0 1 0 3 0a1.5 1.1 0 1 0 -3 0M373.1 853.6a1.5 1.1 0 1 0 3 0a1.5 1.1 0 1 0 -3 0M373.7 853.5a1.5 1.1 0 1 0 3 0a1.5 1.1 0 1 0 -3 0M374.4 853.2a1.5 1.1 0 1 0 3 0a1.5 1.1 0 1 0 -3 0M375.1 849.8a1.5 1.1 0 1 0 3 0a1.5 1.1 0 1 0 -3 0M375.7 851.1a1.5 1.1 0 1 0 3 0a1.5 1.1 0 1 0 -3 0M376.4 850.2a1.5 1.1 0 1 0 3 0a1.5 1.1 0 1 0 -3 0M377 850a1.5 1.1 0 1 0 3 0a1.5 1.1 0 1 0 -3 0M377.7 849.4a1.5 1.1 0 1 0 3 0a1.5 1.1 0 1 0 -3 0M378.4 848a1.5 1.1 0 1 0 3 0a1.5 1.1 0 1 0 -3 0M379 844.4a1.5 1.1 0 1 0 3 0a1.5 1.1 0 1 0 -3 0M379.7 843.6a1.5 1.1 0 1 0 3 0a1.5 1.1 0 1 0 -3 0M380.3 839.7a1.5 1.1 0 1 0 3 0a1.5 1.1 0 1 0 -3 0M381 836.9a1.5 1.1 0 1 0 3 0a1.5 1.1 0 1 0 -3 0M381.7 834.8a1.5 1.1 0 1 0 3 0a1.5 1.1 0 1 0 -3 0M382.3 833.7a1.5 1.1 0 1 0 3 0a1.5 1.1 0 1 0 -3 0M383 832.5a1.5 1.1 0 1 0 3 0a1.5 1.1 0 1 0 -3 0M383.7 829.5a1.5 1.1 0 1 0 3 0a1.5 1.1 0 1 0 -3 0M384.3 831.7a1.5 1.1 0 1 0 3 0a1.5 1.1 0 1 0 -3 0M385 831a1.5 1.1 0 1 0 3 0a1.5 1.1 0 1 0 -3 0M385.6 833.4a1.5 1.1 0 1 0 3 0a1.5 1.1 0 1 0 -3 0M386.3 835.8a1.5 1.1 0 1 0 3 0a1.5 1.1 0 1 0 -3 0M387 837.7a1.5 1.1 0 1 0 3 0a1.5 1.1 0 1 0 -3 0M387.6 839.5a1.5 1.1 0 1 0 3 0a1.5 1.1 0 1 0 -3 0M388.3 841.2a1.5 1.1 0 1 0 3 0a1.5 1.1 0 1 0 -3 0M388.9 842.1a1.5 1.1 0 1 0 3 0a1.5 1.1 0 1 0 -3 0M389.6 843.4a1.5 1.1 0 1 0 3 0a1.5 1.1 0 1 0 -3 0M390.3 845.2a1.5 1.1 0 1 0 3 0a1.5 1.1 0 1 0 -3 0M390.9 847.2a1.5 1.1 0 1 0 3 0a1.5 1.1 0 1 0 -3 0M391.6 847.6a1.5 1.1 0 1 0 3 0a1.5 1.1 0 1 0 -3 0M392.2 852.5a1.5 1.1 0 1 0 3 0a1.5 1.1 0 1 0 -3 0M392.9 853.8a1.5 1.1 0 1 0 3 0a1.5 1.1 0 1 0 -3 0M393.6 852.1a1.5 1.1 0 1 0 3 0a1.5 1.1 0 1 0 -3 0M394.2 858.3a1.5 1.1 0 1 0 3 0a1.5 1.1 0 1 0 -3 0M394.9 858.1a1.5 1.1 0 1 0 3 0a1.5 1.1 0 1 0 -3 0M395.5 858.7a1.5 1.1 0 1 0 3 0a1.5 1.1 0 1 0 -3 0M396.2 859.9a1.5 1.1 0 1 0 3 0a1.5 1.1 0 1 0 -3 0M396.9 860.9a1.5 1.1 0 1 0 3 0a1.5 1.1 0 1 0 -3 0M397.5 862.2a1.5 1.1 0 1 0 3 0a1.5 1.1 0 1 0 -3 0M398.2 862.2a1.5 1.1 0 1 0 3 0a1.5 1.1 0 1 0 -3 0M398.8 863.1a1.5 1.1 0 1 0 3 0a1.5 1.1 0 1 0 -3 0M399.5 863a1.5 1.1 0 1 0 3 0a1.5 1.1 0 1 0 -3 0M400.2 866.4a1.5 1.1 0 1 0 3 0a1.5 1.1 0 1 0 -3 0M400.8 866a1.5 1.1 0 1 0 3 0a1.5 1.1 0 1 0 -3 0M401.5 865.7a1.5 1.1 0 1 0 3 0a1.5 1.1 0 1 0 -3 0M402.1 867.4a1.5 1.1 0 1 0 3 0a1.5 1.1 0 1 0 -3 0M402.8 868a1.5 1.1 0 1 0 3 0a1.5 1.1 0 1 0 -3 0M403.5 866.9a1.5 1.1 0 1 0 3 0a1.5 1.1 0 1 0 -3 0M404.1 868.8a1.5 1.1 0 1 0 3 0a1.5 1.1 0 1 0 -3 0M404.8 867.6a1.5 1.1 0 1 0 3 0a1.5 1.1 0 1 0 -3 0M405.4 867.6a1.5 1.1 0 1 0 3 0a1.5 1.1 0 1 0 -3 0M406.1 868.2a1.5 1.1 0 1 0 3 0a1.5 1.1 0 1 0 -3 0M406.8 868.1a1.5 1.1 0 1 0 3 0a1.5 1.1 0 1 0 -3 0M407.4 868.9a1.5 1.1 0 1 0 3 0a1.5 1.1 0 1 0 -3 0M408.1 870.4a1.5 1.1 0 1 0 3 0a1.5 1.1 0 1 0 -3 0M408.7 869.1a1.5 1.1 0 1 0 3 0a1.5 1.1 0 1 0 -3 0M409.4 868.7a1.5 1.1 0 1 0 3 0a1.5 1.1 0 1 0 -3 0M410.1 869.9a1.5 1.1 0 1 0 3 0a1.5 1.1 0 1 0 -3 0M410.7 869.6a1.5 1.1 0 1 0 3 0a1.5 1.1 0 1 0 -3 0M411.4 868.8a1.5 1.1 0 1 0 3 0a1.5 1.1 0 1 0 -3 0M412 870.7a1.5 1.1 0 1 0 3 0a1.5 1.1 0 1 0 -3 0M412.7 869.2a1.5 1.1 0 1 0 3 0a1.5 1.1 0 1 0 -3 0M413.4 868a1.5 1.1 0 1 0 3 0a1.5 1.1 0 1 0 -3 0M414 870.7a1.5 1.1 0 1 0 3 0a1.5 1.1 0 1 0 -3 0M414.7 870.1a1.5 1.1 0 1 0 3 0a1.5 1.1 0 1 0 -3 0M415.3 870.6a1.5 1.1 0 1 0 3 0a1.5 1.1 0 1 0 -3 0M416 868.7a1.5 1.1 0 1 0 3 0a1.5 1.1 0 1 0 -3 0M416.7 869.9a1.5 1.1 0 1 0 3 0a1.5 1.1 0 1 0 -3 0M417.3 869.3a1.5 1.1 0 1 0 3 0a1.5 1.1 0 1 0 -3 0M418 870.9a1.5 1.1 0 1 0 3 0a1.5 1.1 0 1 0 -3 0M418.6 870.1a1.5 1.1 0 1 0 3 0a1.5 1.1 0 1 0 -3 0M419.3 870.1a1.5 1.1 0 1 0 3 0a1.5 1.1 0 1 0 -3 0M420 871.9a1.5 1.1 0 1 0 3 0a1.5 1.1 0 1 0 -3 0M420.6 868.4a1.5 1.1 0 1 0 3 0a1.5 1.1 0 1 0 -3 0M421.3 868.9a1.5 1.1 0 1 0 3 0a1.5 1.1 0 1 0 -3 0M421.9 871.7a1.5 1.1 0 1 0 3 0a1.5 1.1 0 1 0 -3 0M422.6 869a1.5 1.1 0 1 0 3 0a1.5 1.1 0 1 0 -3 0M423.3 869.8a1.5 1.1 0 1 0 3 0a1.5 1.1 0 1 0 -3 0M423.9 869.2a1.5 1.1 0 1 0 3 0a1.5 1.1 0 1 0 -3 0M424.6 869.2a1.5 1.1 0 1 0 3 0a1.5 1.1 0 1 0 -3 0M425.2 871.1a1.5 1.1 0 1 0 3 0a1.5 1.1 0 1 0 -3 0M425.9 869.7a1.5 1.1 0 1 0 3 0a1.5 1.1 0 1 0 -3 0M426.6 867.8a1.5 1.1 0 1 0 3 0a1.5 1.1 0 1 0 -3 0M427.2 870a1.5 1.1 0 1 0 3 0a1.5 1.1 0 1 0 -3 0M427.9 870.5a1.5 1.1 0 1 0 3 0a1.5 1.1 0 1 0 -3 0M428.5 870.8a1.5 1.1 0 1 0 3 0a1.5 1.1 0 1 0 -3 0M429.2 870.7a1.5 1.1 0 1 0 3 0a1.5 1.1 0 1 0 -3 0M429.9 869.1a1.5 1.1 0 1 0 3 0a1.5 1.1 0 1 0 -3 0M430.5 867.7a1.5 1.1 0 1 0 3 0a1.5 1.1 0 1 0 -3 0M431.2 869.1a1.5 1.1 0 1 0 3 0a1.5 1.1 0 1 0 -3 0M431.8 869.3a1.5 1.1 0 1 0 3 0a1.5 1.1 0 1 0 -3 0M432.5 867.3a1.5 1.1 0 1 0 3 0a1.5 1.1 0 1 0 -3 0M433.2 870.2a1.5 1.1 0 1 0 3 0a1.5 1.1 0 1 0 -3 0M433.8 870.4a1.5 1.1 0 1 0 3 0a1.5 1.1 0 1 0 -3 0M434.5 869.2a1.5 1.1 0 1 0 3 0a1.5 1.1 0 1 0 -3 0M435.2 869.2a1.5 1.1 0 1 0 3 0a1.5 1.1 0 1 0 -3 0M435.8 870.9a1.5 1.1 0 1 0 3 0a1.5 1.1 0 1 0 -3 0M436.5 871a1.5 1.1 0 1 0 3 0a1.5 1.1 0 1 0 -3 0M437.1 869.5a1.5 1.1 0 1 0 3 0a1.5 1.1 0 1 0 -3 0M437.8 869.6a1.5 1.1 0 1 0 3 0a1.5 1.1 0 1 0 -3 0M438.5 871.3a1.5 1.1 0 1 0 3 0a1.5 1.1 0 1 0 -3 0M439.1 870.2a1.5 1.1 0 1 0 3 0a1.5 1.1 0 1 0 -3 0M439.8 869.1a1.5 1.1 0 1 0 3 0a1.5 1.1 0 1 0 -3 0M440.4 866.6a1.5 1.1 0 1 0 3 0a1.5 1.1 0 1 0 -3 0M441.1 865.8a1.5 1.1 0 1 0 3 0a1.5 1.1 0 1 0 -3 0M441.8 864.4a1.5 1.1 0 1 0 3 0a1.5 1.1 0 1 0 -3 0M442.4 863.2a1.5 1.1 0 1 0 3 0a1.5 1.1 0 1 0 -3 0M443.1 857.7a1.5 1.1 0 1 0 3 0a1.5 1.1 0 1 0 -3 0M443.7 853.3a1.5 1.1 0 1 0 3 0a1.5 1.1 0 1 0 -3 0M444.4 851.2a1.5 1.1 0 1 0 3 0a1.5 1.1 0 1 0 -3 0M445.1 846.9a1.5 1.1 0 1 0 3 0a1.5 1.1 0 1 0 -3 0M445.7 845.6a1.5 1.1 0 1 0 3 0a1.5 1.1 0 1 0 -3 0M451.5 651.6a1.5 1.1 0 1 0 3 0a1.5 1.1 0 1 0 -3 0M453.4 651.6a1.5 1.1 0 1 0 3 0a1.5 1.1 0 1 0 -3 0M456.5 651.6a1.5 1.1 0 1 0 3 0a1.5 1.1 0 1 0 -3 0M464 649.3a1.5 1.1 0 1 0 3 0a1.5 1.1 0 1 0 -3 0M451.5 658a1.5 1.1 0 1 0 3 0a1.5 1.1 0 1 0 -3 0M462.9 656.2a1.5 1.1 0 1 0 3 0a1.5 1.1 0 1 0 -3 0M466.7 659.9a1.5 1.1 0 1 0 3 0a1.5 1.1 0 1 0 -3 0M469.3 658a1.5 1.1 0 1 0 3 0a1.5 1.1 0 1 0 -3 0M470.5 656.2a1.5 1.1 0 1 0 3 0a1.5 1.1 0 1 0 -3 0M468.6 661.8a1.5 1.1 0 1 0 3 0a1.5 1.1 0 1 0 -3 0M479.2 661.8a1.5 1.1 0 1 0 3 0a1.5 1.1 0 1 0 -3 0M479.9 671.3a1.5 1.1 0 1 0 3 0a1.5 1.1 0 1 0 -3 0M487.5 661.8a1.5 1.1 0 1 0 3 0a1.5 1.1 0 1 0 -3 0M489.4 659.9a1.5 1.1 0 1 0 3 0a1.5 1.1 0 1 0 -3 0M492 661.8a1.5 1.1 0 1 0 3 0a1.5 1.1 0 1 0 -3 0M494.3 661.1a1.5 1.1 0 1 0 3 0a1.5 1.1 0 1 0 -3 0M491.3 665.6a1.5 1.1 0 1 0 3 0a1.5 1.1 0 1 0 -3 0M495.1 667.5a1.5 1.1 0 1 0 3 0a1.5 1.1 0 1 0 -3 0M497 677a1.5 1.1 0 1 0 3 0a1.5 1.1 0 1 0 -3 0M499.6 677.7a1.5 1.1 0 1 0 3 0a1.5 1.1 0 1 0 -3 0M500.7 678.9a1.5 1.1 0 1 0 3 0a1.5 1.1 0 1 0 -3 0M498.9 686.4a1.5 1.1 0 1 0 3 0a1.5 1.1 0 1 0 -3 0M486.4 683.4a1.5 1.1 0 1 0 3 0a1.5 1.1 0 1 0 -3 0M472.4 678.9a1.5 1.1 0 1 0 3 0a1.5 1.1 0 1 0 -3 0M459.9 673.2a1.5 1.1 0 1 0 3 0a1.5 1.1 0 1 0 -3 0M461.8 667.5a1.5 1.1 0 1 0 3 0a1.5 1.1 0 1 0 -3 0M454.2 680.8a1.5 1.1 0 1 0 3 0a1.5 1.1 0 1 0 -3 0M452.7 684.5a1.5 1.1 0 1 0 3 0a1.5 1.1 0 1 0 -3 0M459.1 692.1a1.5 1.1 0 1 0 3 0a1.5 1.1 0 1 0 -3 0M458.4 694a1.5 1.1 0 1 0 3 0a1.5 1.1 0 1 0 -3 0M476.1 697.8a1.5 1.1 0 1 0 3 0a1.5 1.1 0 1 0 -3 0M481.8 694a1.5 1.1 0 1 0 3 0a1.5 1.1 0 1 0 -3 0M483.7 699.7a1.5 1.1 0 1 0 3 0a1.5 1.1 0 1 0 -3 0M485.6 699.7a1.5 1.1 0 1 0 3 0a1.5 1.1 0 1 0 -3 0M450.4 702.3a1.5 1.1 0 1 0 3 0a1.5 1.1 0 1 0 -3 0M453.4 704.6a1.5 1.1 0 1 0 3 0a1.5 1.1 0 1 0 -3 0M456.1 705.4a1.5 1.1 0 1 0 3 0a1.5 1.1 0 1 0 -3 0M457.2 712.9a1.5 1.1 0 1 0 3 0a1.5 1.1 0 1 0 -3 0M473.1 712.9a1.5 1.1 0 1 0 3 0a1.5 1.1 0 1 0 -3 0M474.3 714.1a1.5 1.1 0 1 0 3 0a1.5 1.1 0 1 0 -3 0M475.4 728.1a1.5 1.1 0 1 0 3 0a1.5 1.1 0 1 0 -3 0M484.5 735.6a1.5 1.1 0 1 0 3 0a1.5 1.1 0 1 0 -3 0M474.3 750a1.5 1.1 0 1 0 3 0a1.5 1.1 0 1 0 -3 0M482.6 759.1a1.5 1.1 0 1 0 3 0a1.5 1.1 0 1 0 -3 0M483 771.6a1.5 1.1 0 1 0 3 0a1.5 1.1 0 1 0 -3 0M501.5 702.3a1.5 1.1 0 1 0 3 0a1.5 1.1 0 1 0 -3 0M510.2 702.3a1.5 1.1 0 1 0 3 0a1.5 1.1 0 1 0 -3 0M509.5 707.2a1.5 1.1 0 1 0 3 0a1.5 1.1 0 1 0 -3 0M505.7 716.7a1.5 1.1 0 1 0 3 0a1.5 1.1 0 1 0 -3 0M504.5 726.9a1.5 1.1 0 1 0 3 0a1.5 1.1 0 1 0 -3 0M503.4 733.7a1.5 1.1 0 1 0 3 0a1.5 1.1 0 1 0 -3 0M504.5 735.6a1.5 1.1 0 1 0 3 0a1.5 1.1 0 1 0 -3 0M507.2 735.6a1.5 1.1 0 1 0 3 0a1.5 1.1 0 1 0 -3 0M508.3 742.1a1.5 1.1 0 1 0 3 0a1.5 1.1 0 1 0 -3 0M509.5 742.1a1.5 1.1 0 1 0 3 0a1.5 1.1 0 1 0 -3 0M511.3 687.2a1.5 1.1 0 1 0 3 0a1.5 1.1 0 1 0 -3 0M514 678.9a1.5 1.1 0 1 0 3 0a1.5 1.1 0 1 0 -3 0M515.9 675.1a1.5 1.1 0 1 0 3 0a1.5 1.1 0 1 0 -3 0M515.1 670.2a1.5 1.1 0 1 0 3 0a1.5 1.1 0 1 0 -3 0M516.6 680.8a1.5 1.1 0 1 0 3 0a1.5 1.1 0 1 0 -3 0M518.5 682.6a1.5 1.1 0 1 0 3 0a1.5 1.1 0 1 0 -3 0M520.8 680.8a1.5 1.1 0 1 0 3 0a1.5 1.1 0 1 0 -3 0M522.3 669.4a1.5 1.1 0 1 0 3 0a1.5 1.1 0 1 0 -3 0M524.2 667.5a1.5 1.1 0 1 0 3 0a1.5 1.1 0 1 0 -3 0M523.5 676.2a1.5 1.1 0 1 0 3 0a1.5 1.1 0 1 0 -3 0M524.6 691.4a1.5 1.1 0 1 0 3 0a1.5 1.1 0 1 0 -3 0M525.4 740.6a1.5 1.1 0 1 0 3 0a1.5 1.1 0 1 0 -3 0M526.1 741.3a1.5 1.1 0 1 0 3 0a1.5 1.1 0 1 0 -3 0M526.5 787.5a1.5 1.1 0 1 0 3 0a1.5 1.1 0 1 0 -3 0M449.6 773.5a1.5 1.1 0 1 0 3 0a1.5 1.1 0 1 0 -3 0M449.3 773.9a1.5 1.1 0 1 0 3 0a1.5 1.1 0 1 0 -3 0M448.5 799.2a1.5 1.1 0 1 0 3 0a1.5 1.1 0 1 0 -3 0M447.8 808.7a1.5 1.1 0 1 0 3 0a1.5 1.1 0 1 0 -3 0M447 820.8a1.5 1.1 0 1 0 3 0a1.5 1.1 0 1 0 -3 0M445.1 847.3a1.5 1.1 0 1 0 3 0a1.5 1.1 0 1 0 -3 0M444 851.1a1.5 1.1 0 1 0 3 0a1.5 1.1 0 1 0 -3 0M442.1 860.5a1.5 1.1 0 1 0 3 0a1.5 1.1 0 1 0 -3 0M527.6 817a1.5 1.1 0 1 0 3 0a1.5 1.1 0 1 0 -3 0M528 826.5a1.5 1.1 0 1 0 3 0a1.5 1.1 0 1 0 -3 0M567.7 695.9a1.5 1.1 0 1 0 3 0a1.5 1.1 0 1 0 -3 0M569.3 695.9a1.5 1.1 0 1 0 3 0a1.5 1.1 0 1 0 -3 0M569.6 742.5a1.5 1.1 0 1 0 3 0a1.5 1.1 0 1 0 -3 0M567.7 761a1.5 1.1 0 1 0 3 0a1.5 1.1 0 1 0 -3 0M570.8 806.4a1.5 1.1 0 1 0 3 0a1.5 1.1 0 1 0 -3 0M590.5 727.3a1.5 1.1 0 1 0 3 0a1.5 1.1 0 1 0 -3 0M600.3 716a1.5 1.1 0 1 0 3 0a1.5 1.1 0 1 0 -3 0M599.2 729.2a1.5 1.1 0 1 0 3 0a1.5 1.1 0 1 0 -3 0M598 731.9a1.5 1.1 0 1 0 3 0a1.5 1.1 0 1 0 -3 0M595.4 742.1a1.5 1.1 0 1 0 3 0a1.5 1.1 0 1 0 -3 0M598 750.8a1.5 1.1 0 1 0 3 0a1.5 1.1 0 1 0 -3 0M588.9 755.7a1.5 1.1 0 1 0 3 0a1.5 1.1 0 1 0 -3 0M590.5 756.5a1.5 1.1 0 1 0 3 0a1.5 1.1 0 1 0 -3 0M594.6 764a1.5 1.1 0 1 0 3 0a1.5 1.1 0 1 0 -3 0M600.3 760.2a1.5 1.1 0 1 0 3 0a1.5 1.1 0 1 0 -3 0M586.7 777.3a1.5 1.1 0 1 0 3 0a1.5 1.1 0 1 0 -3 0M589.7 775.4a1.5 1.1 0 1 0 3 0a1.5 1.1 0 1 0 -3 0M592.3 781.1a1.5 1.1 0 1 0 3 0a1.5 1.1 0 1 0 -3 0M593.5 781.8a1.5 1.1 0 1 0 3 0a1.5 1.1 0 1 0 -3 0M606.7 773.5a1.5 1.1 0 1 0 3 0a1.5 1.1 0 1 0 -3 0M607.5 781.1a1.5 1.1 0 1 0 3 0a1.5 1.1 0 1 0 -3 0M597.3 789.4a1.5 1.1 0 1 0 3 0a1.5 1.1 0 1 0 -3 0M601.8 796.2a1.5 1.1 0 1 0 3 0a1.5 1.1 0 1 0 -3 0M587.8 804.5a1.5 1.1 0 1 0 3 0a1.5 1.1 0 1 0 -3 0M604.1 804.5a1.5 1.1 0 1 0 3 0a1.5 1.1 0 1 0 -3 0M605.6 814a1.5 1.1 0 1 0 3 0a1.5 1.1 0 1 0 -3 0M582.1 815.1a1.5 1.1 0 1 0 3 0a1.5 1.1 0 1 0 -3 0M585.9 813.2a1.5 1.1 0 1 0 3 0a1.5 1.1 0 1 0 -3 0M585.2 819.7a1.5 1.1 0 1 0 3 0a1.5 1.1 0 1 0 -3 0M607.9 822.7a1.5 1.1 0 1 0 3 0a1.5 1.1 0 1 0 -3 0M578.3 830.3a1.5 1.1 0 1 0 3 0a1.5 1.1 0 1 0 -3 0M582.1 828.4a1.5 1.1 0 1 0 3 0a1.5 1.1 0 1 0 -3 0M584 828.4a1.5 1.1 0 1 0 3 0a1.5 1.1 0 1 0 -3 0M464.8 657.3a1.5 1.1 0 1 0 3 0a1.5 1.1 0 1 0 -3 0M467.1 662.6a1.5 1.1 0 1 0 3 0a1.5 1.1 0 1 0 -3 0M471.2 660.3a1.5 1.1 0 1 0 3 0a1.5 1.1 0 1 0 -3 0M488.3 664.1a1.5 1.1 0 1 0 3 0a1.5 1.1 0 1 0 -3 0M490.5 662.6a1.5 1.1 0 1 0 3 0a1.5 1.1 0 1 0 -3 0M493.2 664.1a1.5 1.1 0 1 0 3 0a1.5 1.1 0 1 0 -3 0M497.7 679.2a1.5 1.1 0 1 0 3 0a1.5 1.1 0 1 0 -3 0M500 680a1.5 1.1 0 1 0 3 0a1.5 1.1 0 1 0 -3 0M512.5 680.8a1.5 1.1 0 1 0 3 0a1.5 1.1 0 1 0 -3 0M514.8 681.9a1.5 1.1 0 1 0 3 0a1.5 1.1 0 1 0 -3 0M517.4 680a1.5 1.1 0 1 0 3 0a1.5 1.1 0 1 0 -3 0M519.7 681.9a1.5 1.1 0 1 0 3 0a1.5 1.1 0 1 0 -3 0M425.4 863.2a1.5 1.1 0 1 0 3 0a1.5 1.1 0 1 0 -3 0M528.9 835.6a1.5 1.1 0 1 0 3 0a1.5 1.1 0 1 0 -3 0M529.6 834.4a1.5 1.1 0 1 0 3 0a1.5 1.1 0 1 0 -3 0M530.2 833.1a1.5 1.1 0 1 0 3 0a1.5 1.1 0 1 0 -3 0M530.9 835a1.5 1.1 0 1 0 3 0a1.5 1.1 0 1 0 -3 0M531.5 834.3a1.5 1.1 0 1 0 3 0a1.5 1.1 0 1 0 -3 0M532.2 833.6a1.5 1.1 0 1 0 3 0a1.5 1.1 0 1 0 -3 0M532.9 835.3a1.5 1.1 0 1 0 3 0a1.5 1.1 0 1 0 -3 0M533.5 833.1a1.5 1.1 0 1 0 3 0a1.5 1.1 0 1 0 -3 0M534.2 833.5a1.5 1.1 0 1 0 3 0a1.5 1.1 0 1 0 -3 0M534.8 832.8a1.5 1.1 0 1 0 3 0a1.5 1.1 0 1 0 -3 0M535.5 835.1a1.5 1.1 0 1 0 3 0a1.5 1.1 0 1 0 -3 0M536.2 836.6a1.5 1.1 0 1 0 3 0a1.5 1.1 0 1 0 -3 0M536.8 834.7a1.5 1.1 0 1 0 3 0a1.5 1.1 0 1 0 -3 0M537.5 834.9a1.5 1.1 0 1 0 3 0a1.5 1.1 0 1 0 -3 0M538.1 836.4a1.5 1.1 0 1 0 3 0a1.5 1.1 0 1 0 -3 0M538.8 835.2a1.5 1.1 0 1 0 3 0a1.5 1.1 0 1 0 -3 0M539.5 837.1a1.5 1.1 0 1 0 3 0a1.5 1.1 0 1 0 -3 0M540.1 838a1.5 1.1 0 1 0 3 0a1.5 1.1 0 1 0 -3 0M540.8 837.3a1.5 1.1 0 1 0 3 0a1.5 1.1 0 1 0 -3 0M541.5 839.9a1.5 1.1 0 1 0 3 0a1.5 1.1 0 1 0 -3 0M542.1 839a1.5 1.1 0 1 0 3 0a1.5 1.1 0 1 0 -3 0M542.8 838.4a1.5 1.1 0 1 0 3 0a1.5 1.1 0 1 0 -3 0M543.4 837.5a1.5 1.1 0 1 0 3 0a1.5 1.1 0 1 0 -3 0M544.1 838.9a1.5 1.1 0 1 0 3 0a1.5 1.1 0 1 0 -3 0M544.8 838.5a1.5 1.1 0 1 0 3 0a1.5 1.1 0 1 0 -3 0M545.4 839.9a1.5 1.1 0 1 0 3 0a1.5 1.1 0 1 0 -3 0M546.1 838.9a1.5 1.1 0 1 0 3 0a1.5 1.1 0 1 0 -3 0M546.7 837.4a1.5 1.1 0 1 0 3 0a1.5 1.1 0 1 0 -3 0M547.4 840.4a1.5 1.1 0 1 0 3 0a1.5 1.1 0 1 0 -3 0M548.1 836.9a1.5 1.1 0 1 0 3 0a1.5 1.1 0 1 0 -3 0M548.7 840.8a1.5 1.1 0 1 0 3 0a1.5 1.1 0 1 0 -3 0M549.4 840.2a1.5 1.1 0 1 0 3 0a1.5 1.1 0 1 0 -3 0M550 840.2a1.5 1.1 0 1 0 3 0a1.5 1.1 0 1 0 -3 0M550.7 839.4a1.5 1.1 0 1 0 3 0a1.5 1.1 0 1 0 -3 0M551.4 842.4a1.5 1.1 0 1 0 3 0a1.5 1.1 0 1 0 -3 0M552 843.6a1.5 1.1 0 1 0 3 0a1.5 1.1 0 1 0 -3 0M552.7 840.6a1.5 1.1 0 1 0 3 0a1.5 1.1 0 1 0 -3 0M553.3 840.6a1.5 1.1 0 1 0 3 0a1.5 1.1 0 1 0 -3 0M554 841a1.5 1.1 0 1 0 3 0a1.5 1.1 0 1 0 -3 0M554.7 841.6a1.5 1.1 0 1 0 3 0a1.5 1.1 0 1 0 -3 0M555.3 847.5a1.5 1.1 0 1 0 3 0a1.5 1.1 0 1 0 -3 0M556 850.5a1.5 1.1 0 1 0 3 0a1.5 1.1 0 1 0 -3 0M556.6 850.5a1.5 1.1 0 1 0 3 0a1.5 1.1 0 1 0 -3 0M557.3 852a1.5 1.1 0 1 0 3 0a1.5 1.1 0 1 0 -3 0M558 851.2a1.5 1.1 0 1 0 3 0a1.5 1.1 0 1 0 -3 0M558.6 855.5a1.5 1.1 0 1 0 3 0a1.5 1.1 0 1 0 -3 0M559.3 855.3a1.5 1.1 0 1 0 3 0a1.5 1.1 0 1 0 -3 0M559.9 860.4a1.5 1.1 0 1 0 3 0a1.5 1.1 0 1 0 -3 0M560.6 856.6a1.5 1.1 0 1 0 3 0a1.5 1.1 0 1 0 -3 0M561.3 859.3a1.5 1.1 0 1 0 3 0a1.5 1.1 0 1 0 -3 0M561.9 859.1a1.5 1.1 0 1 0 3 0a1.5 1.1 0 1 0 -3 0M562.6 858.9a1.5 1.1 0 1 0 3 0a1.5 1.1 0 1 0 -3 0M563.2 862.9a1.5 1.1 0 1 0 3 0a1.5 1.1 0 1 0 -3 0M563.9 863.2a1.5 1.1 0 1 0 3 0a1.5 1.1 0 1 0 -3 0M564.6 863.5a1.5 1.1 0 1 0 3 0a1.5 1.1 0 1 0 -3 0M565.2 863.9a1.5 1.1 0 1 0 3 0a1.5 1.1 0 1 0 -3 0M565.9 863.6a1.5 1.1 0 1 0 3 0a1.5 1.1 0 1 0 -3 0M569.8 846.3a1.5 1.1 0 1 0 3 0a1.5 1.1 0 1 0 -3 0M570.5 848.5a1.5 1.1 0 1 0 3 0a1.5 1.1 0 1 0 -3 0M571.2 849.1a1.5 1.1 0 1 0 3 0a1.5 1.1 0 1 0 -3 0M571.8 850.4a1.5 1.1 0 1 0 3 0a1.5 1.1 0 1 0 -3 0M572.5 848.7a1.5 1.1 0 1 0 3 0a1.5 1.1 0 1 0 -3 0M573.1 847.9a1.5 1.1 0 1 0 3 0a1.5 1.1 0 1 0 -3 0M573.8 847.6a1.5 1.1 0 1 0 3 0a1.5 1.1 0 1 0 -3 0M574.5 844a1.5 1.1 0 1 0 3 0a1.5 1.1 0 1 0 -3 0M575.1 844.1a1.5 1.1 0 1 0 3 0a1.5 1.1 0 1 0 -3 0M575.8 844.6a1.5 1.1 0 1 0 3 0a1.5 1.1 0 1 0 -3 0M576.4 836.9a1.5 1.1 0 1 0 3 0a1.5 1.1 0 1 0 -3 0M577.1 836.7a1.5 1.1 0 1 0 3 0a1.5 1.1 0 1 0 -3 0M577.8 837.4a1.5 1.1 0 1 0 3 0a1.5 1.1 0 1 0 -3 0M578.4 830.3a1.5 1.1 0 1 0 3 0a1.5 1.1 0 1 0 -3 0M579.1 831.4a1.5 1.1 0 1 0 3 0a1.5 1.1 0 1 0 -3 0M579.7 835.1a1.5 1.1 0 1 0 3 0a1.5 1.1 0 1 0 -3 0M580.4 827.4a1.5 1.1 0 1 0 3 0a1.5 1.1 0 1 0 -3 0M581.1 829.7a1.5 1.1 0 1 0 3 0a1.5 1.1 0 1 0 -3 0M581.7 827.9a1.5 1.1 0 1 0 3 0a1.5 1.1 0 1 0 -3 0M582.4 828.9a1.5 1.1 0 1 0 3 0a1.5 1.1 0 1 0 -3 0M583 829.1a1.5 1.1 0 1 0 3 0a1.5 1.1 0 1 0 -3 0M583.7 831.7a1.5 1.1 0 1 0 3 0a1.5 1.1 0 1 0 -3 0M606.8 831.7a1.5 1.1 0 1 0 3 0a1.5 1.1 0 1 0 -3 0M607.5 835a1.5 1.1 0 1 0 3 0a1.5 1.1 0 1 0 -3 0M608.1 837.7a1.5 1.1 0 1 0 3 0a1.5 1.1 0 1 0 -3 0M608.8 839.4a1.5 1.1 0 1 0 3 0a1.5 1.1 0 1 0 -3 0M609.5 838.9a1.5 1.1 0 1 0 3 0a1.5 1.1 0 1 0 -3 0M610.1 837.4a1.5 1.1 0 1 0 3 0a1.5 1.1 0 1 0 -3 0M610.8 837.7a1.5 1.1 0 1 0 3 0a1.5 1.1 0 1 0 -3 0M611.4 836.6a1.5 1.1 0 1 0 3 0a1.5 1.1 0 1 0 -3 0M612.1 838a1.5 1.1 0 1 0 3 0a1.5 1.1 0 1 0 -3 0M612.8 837.4a1.5 1.1 0 1 0 3 0a1.5 1.1 0 1 0 -3 0M613.4 837.5a1.5 1.1 0 1 0 3 0a1.5 1.1 0 1 0 -3 0M614.1 838.1a1.5 1.1 0 1 0 3 0a1.5 1.1 0 1 0 -3 0M614.7 841.1a1.5 1.1 0 1 0 3 0a1.5 1.1 0 1 0 -3 0M615.4 842.1a1.5 1.1 0 1 0 3 0a1.5 1.1 0 1 0 -3 0M616.1 841.6a1.5 1.1 0 1 0 3 0a1.5 1.1 0 1 0 -3 0M616.7 846.9a1.5 1.1 0 1 0 3 0a1.5 1.1 0 1 0 -3 0M617.4 849a1.5 1.1 0 1 0 3 0a1.5 1.1 0 1 0 -3 0M618 851.3a1.5 1.1 0 1 0 3 0a1.5 1.1 0 1 0 -3 0M618.7 853.4a1.5 1.1 0 1 0 3 0a1.5 1.1 0 1 0 -3 0M619.4 852.6a1.5 1.1 0 1 0 3 0a1.5 1.1 0 1 0 -3 0M620 855.1a1.5 1.1 0 1 0 3 0a1.5 1.1 0 1 0 -3 0M620.7 854.5a1.5 1.1 0 1 0 3 0a1.5 1.1 0 1 0 -3 0M621.3 855.2a1.5 1.1 0 1 0 3 0a1.5 1.1 0 1 0 -3 0M622 855.5a1.5 1.1 0 1 0 3 0a1.5 1.1 0 1 0 -3 0M622.7 854.8a1.5 1.1 0 1 0 3 0a1.5 1.1 0 1 0 -3 0M623.3 853.9a1.5 1.1 0 1 0 3 0a1.5 1.1 0 1 0 -3 0M624 857.5a1.5 1.1 0 1 0 3 0a1.5 1.1 0 1 0 -3 0M624.6 857.6a1.5 1.1 0 1 0 3 0a1.5 1.1 0 1 0 -3 0M625.3 856.6a1.5 1.1 0 1 0 3 0a1.5 1.1 0 1 0 -3 0M626 858.3a1.5 1.1 0 1 0 3 0a1.5 1.1 0 1 0 -3 0M626.6 856.8a1.5 1.1 0 1 0 3 0a1.5 1.1 0 1 0 -3 0M627.3 856.9a1.5 1.1 0 1 0 3 0a1.5 1.1 0 1 0 -3 0M627.9 857.9a1.5 1.1 0 1 0 3 0a1.5 1.1 0 1 0 -3 0M628.6 857.1a1.5 1.1 0 1 0 3 0a1.5 1.1 0 1 0 -3 0M629.3 859.5a1.5 1.1 0 1 0 3 0a1.5 1.1 0 1 0 -3 0M629.9 857.2a1.5 1.1 0 1 0 3 0a1.5 1.1 0 1 0 -3 0M630.6 859.7a1.5 1.1 0 1 0 3 0a1.5 1.1 0 1 0 -3 0M631.2 858.9a1.5 1.1 0 1 0 3 0a1.5 1.1 0 1 0 -3 0M631.9 858.9a1.5 1.1 0 1 0 3 0a1.5 1.1 0 1 0 -3 0" fill="none" stroke="#000" stroke-width="0.8"/>
<polyline points="369.3,843.4 370.6,843 371.9,843.3 373.3,843.5 374.6,843.3 375.9,843 377.2,843.6 378.5,843.5 379.9,843.3 381.2,843.6 382.5,844.1 383.8,843.1 385.1,843.2 386.5,844.5 387.8,844 389.1,843.9 390.4,844.1 391.7,844.6 393.1,845.3 394.4,845.9 395.7,846 397,846.1 398.4,847.2 399.7,847.4 401,847.1 402.3,847.7 403.6,847.2 405,847.3 406.3,847.1 407.6,847.5 408.9,847.5 410.2,847.4 411.6,847.4 412.9,847.6 414.2,847.4 415.5,847.2 416.8,847.1 418.2,847 419.5,847.8 420.8,847.7 422.1,848.4 423.4,847.1 424.8,847.9 426.1,847.7 427.4,847.6 428.7,848.2 430,847.7 431.4,847.8 432.7,848.4 434,847.8 435.3,847.6 436.6,848.5 438,847.8 439.3,848 440.6,847.9 441.9,848 443.2,847.7 444.6,848.2 445.9,847.9 447.2,848.4 448.5,845.5 449.9,843.5 451.2,837.3 452.5,833.5 453.8,833.6 455.1,833.5 456.5,833.5 457.8,833.1 459.1,832.7 460.4,832.6 461.7,832.8 463.1,832.9 464.4,833.2 465.7,832.8 467,833.5 468.3,833.6 469.7,833.3 471,833.7 472.3,834 473.6,834.2 474.9,834.3 476.3,838 477.6,838.4 478.9,835.3 480.2,835 481.5,835.3 482.9,835.9 484.2,838.5 485.5,839.6 486.8,835.1 488.1,834.7 489.5,834.6 490.8,835.2 492.1,834.8 493.4,835.2 494.7,834.3 496.1,835.1 497.4,834.6 498.7,835.2 500,834.7 501.4,834.3 502.7,837.5 504,838.7 505.3,839.3 506.6,839.3 508,839.3 509.3,838.3 510.6,838.8 511.9,838 513.2,834.7 514.6,835.5 515.9,834.6 517.2,835.1 518.5,834.9 519.8,834.6 521.2,834.9 522.5,835.4 523.8,835.5 525.1,834.6 526.4,837 527.8,842 529.1,846 530.4,846.5 531.7,846.8 533,848.1 534.4,847.9 535.7,847.5 537,847.6 538.3,847.6 539.6,848.6 541,847.8 542.3,847.7 543.6,847.1 544.9,848.2 546.2,848 547.6,848 548.9,847.7 550.2,848.1 551.5,847.7 552.8,848.3 554.2,848 555.5,848.2 556.8,848 558.1,848.3 559.5,848.6 560.8,847.8 562.1,848.1 563.4,848.3 564.7,848.1 566.1,847.9 567.4,848.5 568.7,838.8 570,835.6 571.3,847.6 572.7,847.9 574,848.4 575.3,847.4 576.6,847.7 577.9,847.8 579.3,847.9 580.6,847.7 581.9,847.3 583.2,846.9 584.5,846.2 585.9,845.5 587.2,844.9 588.5,844.5 589.8,843.4 591.1,843.4 592.5,842.4 593.8,842.4 595.1,841.6 596.4,840.8 597.7,841.4 599.1,842.6 600.4,843.2 601.7,841.7 603,840.8 604.3,841 605.7,843.5 607,846.4 608.3,846.7 609.6,847 611,847.4 612.3,847.8 613.6,848.4 614.9,848.6 616.2,848.6 617.6,848.7 618.9,848.7 620.2,848.7 621.5,849.2 622.8,848.8 624.2,848.7 625.5,849 626.8,848.7 628.1,848.6 629.4,848.8 630.8,848.2 632.1,849.6 633.4,848.9" fill="none" stroke="#f00" stroke-width="1.1" />
<path d="M399.7 883.8h39" stroke="#f00" stroke-width="1.4"/>
<text transform="translate(455.4,888.6) scale(1.06,1)" font-family="'Liberation Sans', Arial, sans-serif" font-size="19.8" text-anchor="start" fill="#222" >R<tspan font-size="14" dy="3.5">s</tspan><tspan dy="-3.5"> vs. L'</tspan><tspan font-size="12.5" dy="4">GN</tspan></text>
<text transform="translate(367.3,926.2) scale(1.05,1)" font-family="'Liberation Sans', Arial, sans-serif" font-size="16.4" text-anchor="middle" fill="#000" >0</text>
<text transform="translate(435.3,926.2) scale(1.05,1)" font-family="'Liberation Sans', Arial, sans-serif" font-size="16.4" text-anchor="middle" fill="#000" >100</text>
<text transform="translate(501.4,926.2) scale(1.05,1)" font-family="'Liberation Sans', Arial, sans-serif" font-size="16.4" text-anchor="middle" fill="#000" >200</text>
<text transform="translate(567.4,926.2) scale(1.05,1)" font-family="'Liberation Sans', Arial, sans-serif" font-size="16.4" text-anchor="middle" fill="#000" >300</text>
<text transform="translate(634.9,926.2) scale(1.05,1)" font-family="'Liberation Sans', Arial, sans-serif" font-size="16.4" text-anchor="middle" fill="#000" >400</text>
<text transform="translate(499.4,943.8) scale(1.1,1)" font-family="'Liberation Sans', Arial, sans-serif" font-size="15.6" text-anchor="middle" fill="#000" >Pixel number</text>
<text transform="translate(363.4,612) scale(1.1,1) rotate(-90)" font-family="'Liberation Sans', Arial, sans-serif" font-size="17" text-anchor="middle" fill="#000" >2.5</text>
<text transform="translate(363.4,686) scale(1.1,1) rotate(-90)" font-family="'Liberation Sans', Arial, sans-serif" font-size="17" text-anchor="middle" fill="#000" >2.0</text>
<text transform="translate(363.4,757) scale(1.1,1) rotate(-90)" font-family="'Liberation Sans', Arial, sans-serif" font-size="17" text-anchor="middle" fill="#000" >1.5</text>
<text transform="translate(363.4,833.7) scale(1.1,1) rotate(-90)" font-family="'Liberation Sans', Arial, sans-serif" font-size="17" text-anchor="middle" fill="#000" >1.0</text>
<text transform="translate(363.4,895.3) scale(1.1,1) rotate(-90)" font-family="'Liberation Sans', Arial, sans-serif" font-size="17" text-anchor="middle" fill="#000" >0.5</text>
<text transform="translate(344.5,759) scale(1.1,1) rotate(-90)" font-family="'Liberation Sans', Arial, sans-serif" font-size="16.9" text-anchor="middle" fill="#000" >R = L'<tspan font-size="11" dy="3">GN</tspan><tspan dy="-3"> / L</tspan><tspan font-size="11" dy="3">GN</tspan></text>
<text transform="translate(381.8,635.5)" font-family="'Liberation Serif', 'Times New Roman', serif" font-size="22" text-anchor="start" fill="#000" font-weight="bold" font-style="italic" >(h)</text>
<rect x="681.1" y="605.8" width="317.1" height="302.3" fill="none" stroke="#111" stroke-width="1.25"/>
<path d="M694.3 908.1v-3M694.3 605.8v3M707.5 908.1v-3M707.5 605.8v3M720.7 908.1v-3M720.7 605.8v3M747.2 908.1v-3M747.2 605.8v3M760.4 908.1v-3M760.4 605.8v3M773.6 908.1v-3M773.6 605.8v3M800 908.1v-3M800 605.8v3M813.2 908.1v-3M813.2 605.8v3M826.4 908.1v-3M826.4 605.8v3M852.9 908.1v-3M852.9 605.8v3M866.1 908.1v-3M866.1 605.8v3M879.3 908.1v-3M879.3 605.8v3M905.7 908.1v-3M905.7 605.8v3M918.9 908.1v-3M918.9 605.8v3M932.1 908.1v-3M932.1 605.8v3M958.6 908.1v-3M958.6 605.8v3M971.8 908.1v-3M971.8 605.8v3M985 908.1v-3M985 605.8v3M734 908.1v-6M734 605.8v6M786.8 908.1v-6M786.8 605.8v6M839.7 908.1v-6M839.7 605.8v6M892.5 908.1v-6M892.5 605.8v6M945.4 908.1v-6M945.4 605.8v6M681.1 625.9h3M998.2 625.9h-3M681.1 646.1h3M998.2 646.1h-3M681.1 666.4h3M998.2 666.4h-3M681.1 686.6h3M998.2 686.6h-3M681.1 706.9h3M998.2 706.9h-3M681.1 727.1h3M998.2 727.1h-3M681.1 747.4h3M998.2 747.4h-3M681.1 767.6h3M998.2 767.6h-3M681.1 787.9h3M998.2 787.9h-3M681.1 828.4h3M998.2 828.4h-3M681.1 848.6h3M998.2 848.6h-3M681.1 868.9h3M998.2 868.9h-3M681.1 889.1h3M998.2 889.1h-3M681.1 808.1h6M998.2 808.1h-6" stroke="#111" stroke-width="1.0" fill="none"/>
<path d="M681.1 625.9h5M681.1 706.9h5" stroke="#222" stroke-width="0.9"/>
<polyline points="680.9,694 685.4,703.5 689.9,714.9 690.3,722.4 696.8,735.7 715.7,762.2 734.6,790.5 753.5,813.2 772.4,832.1 791.3,845.4 810.3,855.6 829.2,864.3 867,876.4 904.9,885.1 942.7,892.7 959.7,897.2" fill="none" stroke="#111" stroke-width="1.3" />
<path d="M726.4 796.5a1.5 1.1 0 1 0 3 0a1.5 1.1 0 1 0 -3 0M729.4 801.6a1.5 1.1 0 1 0 3 0a1.5 1.1 0 1 0 -3 0M726.7 798.9a1.5 1.1 0 1 0 3 0a1.5 1.1 0 1 0 -3 0M726.5 796.7a1.5 1.1 0 1 0 3 0a1.5 1.1 0 1 0 -3 0M728.2 800.1a1.5 1.1 0 1 0 3 0a1.5 1.1 0 1 0 -3 0M727.8 795.7a1.5 1.1 0 1 0 3 0a1.5 1.1 0 1 0 -3 0M727.7 797.3a1.5 1.1 0 1 0 3 0a1.5 1.1 0 1 0 -3 0M728.3 793.7a1.5 1.1 0 1 0 3 0a1.5 1.1 0 1 0 -3 0M728.4 796.5a1.5 1.1 0 1 0 3 0a1.5 1.1 0 1 0 -3 0M729.1 794.1a1.5 1.1 0 1 0 3 0a1.5 1.1 0 1 0 -3 0M727.3 796.5a1.5 1.1 0 1 0 3 0a1.5 1.1 0 1 0 -3 0M728.8 795.2a1.5 1.1 0 1 0 3 0a1.5 1.1 0 1 0 -3 0M729.1 792.9a1.5 1.1 0 1 0 3 0a1.5 1.1 0 1 0 -3 0M728.7 801.8a1.5 1.1 0 1 0 3 0a1.5 1.1 0 1 0 -3 0M729.8 798a1.5 1.1 0 1 0 3 0a1.5 1.1 0 1 0 -3 0M729.7 795.5a1.5 1.1 0 1 0 3 0a1.5 1.1 0 1 0 -3 0M731.1 800.4a1.5 1.1 0 1 0 3 0a1.5 1.1 0 1 0 -3 0M731.8 800.7a1.5 1.1 0 1 0 3 0a1.5 1.1 0 1 0 -3 0M730.1 794.2a1.5 1.1 0 1 0 3 0a1.5 1.1 0 1 0 -3 0M728.8 796.9a1.5 1.1 0 1 0 3 0a1.5 1.1 0 1 0 -3 0M729.6 803a1.5 1.1 0 1 0 3 0a1.5 1.1 0 1 0 -3 0M730.9 797.1a1.5 1.1 0 1 0 3 0a1.5 1.1 0 1 0 -3 0M730.3 800.3a1.5 1.1 0 1 0 3 0a1.5 1.1 0 1 0 -3 0M730.5 797.8a1.5 1.1 0 1 0 3 0a1.5 1.1 0 1 0 -3 0M731.1 801.4a1.5 1.1 0 1 0 3 0a1.5 1.1 0 1 0 -3 0M731.2 797.8a1.5 1.1 0 1 0 3 0a1.5 1.1 0 1 0 -3 0M731.8 798.5a1.5 1.1 0 1 0 3 0a1.5 1.1 0 1 0 -3 0M731.2 798a1.5 1.1 0 1 0 3 0a1.5 1.1 0 1 0 -3 0M731.9 800.3a1.5 1.1 0 1 0 3 0a1.5 1.1 0 1 0 -3 0M732.3 795.8a1.5 1.1 0 1 0 3 0a1.5 1.1 0 1 0 -3 0M731.3 799.2a1.5 1.1 0 1 0 3 0a1.5 1.1 0 1 0 -3 0M732.5 798a1.5 1.1 0 1 0 3 0a1.5 1.1 0 1 0 -3 0M732 799.6a1.5 1.1 0 1 0 3 0a1.5 1.1 0 1 0 -3 0M732.4 801.6a1.5 1.1 0 1 0 3 0a1.5 1.1 0 1 0 -3 0M734.5 798.2a1.5 1.1 0 1 0 3 0a1.5 1.1 0 1 0 -3 0M732.6 815.1a1.5 1.1 0 1 0 3 0a1.5 1.1 0 1 0 -3 0M733.6 804.9a1.5 1.1 0 1 0 3 0a1.5 1.1 0 1 0 -3 0M733.3 805.5a1.5 1.1 0 1 0 3 0a1.5 1.1 0 1 0 -3 0M734.3 799.1a1.5 1.1 0 1 0 3 0a1.5 1.1 0 1 0 -3 0M733.5 799.8a1.5 1.1 0 1 0 3 0a1.5 1.1 0 1 0 -3 0M734.3 807.2a1.5 1.1 0 1 0 3 0a1.5 1.1 0 1 0 -3 0M734.6 807.4a1.5 1.1 0 1 0 3 0a1.5 1.1 0 1 0 -3 0M734.3 797.5a1.5 1.1 0 1 0 3 0a1.5 1.1 0 1 0 -3 0M734.8 803.5a1.5 1.1 0 1 0 3 0a1.5 1.1 0 1 0 -3 0M734.9 806.3a1.5 1.1 0 1 0 3 0a1.5 1.1 0 1 0 -3 0M735 802.2a1.5 1.1 0 1 0 3 0a1.5 1.1 0 1 0 -3 0M733.5 803.3a1.5 1.1 0 1 0 3 0a1.5 1.1 0 1 0 -3 0M736 804.7a1.5 1.1 0 1 0 3 0a1.5 1.1 0 1 0 -3 0M734.4 798.5a1.5 1.1 0 1 0 3 0a1.5 1.1 0 1 0 -3 0M733 805.1a1.5 1.1 0 1 0 3 0a1.5 1.1 0 1 0 -3 0M735.5 804.3a1.5 1.1 0 1 0 3 0a1.5 1.1 0 1 0 -3 0M736.1 809.7a1.5 1.1 0 1 0 3 0a1.5 1.1 0 1 0 -3 0M735.6 806.2a1.5 1.1 0 1 0 3 0a1.5 1.1 0 1 0 -3 0M735.5 808.7a1.5 1.1 0 1 0 3 0a1.5 1.1 0 1 0 -3 0M735.8 801.9a1.5 1.1 0 1 0 3 0a1.5 1.1 0 1 0 -3 0M734.5 807.9a1.5 1.1 0 1 0 3 0a1.5 1.1 0 1 0 -3 0M735.9 802a1.5 1.1 0 1 0 3 0a1.5 1.1 0 1 0 -3 0M737.1 804.6a1.5 1.1 0 1 0 3 0a1.5 1.1 0 1 0 -3 0M737.3 810.1a1.5 1.1 0 1 0 3 0a1.5 1.1 0 1 0 -3 0M737.7 807.3a1.5 1.1 0 1 0 3 0a1.5 1.1 0 1 0 -3 0M737.3 805.4a1.5 1.1 0 1 0 3 0a1.5 1.1 0 1 0 -3 0M737.6 811.1a1.5 1.1 0 1 0 3 0a1.5 1.1 0 1 0 -3 0M737.9 805.2a1.5 1.1 0 1 0 3 0a1.5 1.1 0 1 0 -3 0M736.5 803.7a1.5 1.1 0 1 0 3 0a1.5 1.1 0 1 0 -3 0M737.7 808.8a1.5 1.1 0 1 0 3 0a1.5 1.1 0 1 0 -3 0M736.5 811.9a1.5 1.1 0 1 0 3 0a1.5 1.1 0 1 0 -3 0M737.4 808.3a1.5 1.1 0 1 0 3 0a1.5 1.1 0 1 0 -3 0M738.6 813.6a1.5 1.1 0 1 0 3 0a1.5 1.1 0 1 0 -3 0M738.9 804.6a1.5 1.1 0 1 0 3 0a1.5 1.1 0 1 0 -3 0M737.6 807.1a1.5 1.1 0 1 0 3 0a1.5 1.1 0 1 0 -3 0M739.2 807.7a1.5 1.1 0 1 0 3 0a1.5 1.1 0 1 0 -3 0M738.6 806.2a1.5 1.1 0 1 0 3 0a1.5 1.1 0 1 0 -3 0M739.7 807.1a1.5 1.1 0 1 0 3 0a1.5 1.1 0 1 0 -3 0M739.8 805.4a1.5 1.1 0 1 0 3 0a1.5 1.1 0 1 0 -3 0M740 808.1a1.5 1.1 0 1 0 3 0a1.5 1.1 0 1 0 -3 0M738.8 803.1a1.5 1.1 0 1 0 3 0a1.5 1.1 0 1 0 -3 0M740.3 803.7a1.5 1.1 0 1 0 3 0a1.5 1.1 0 1 0 -3 0M741 807.1a1.5 1.1 0 1 0 3 0a1.5 1.1 0 1 0 -3 0M742.2 807.8a1.5 1.1 0 1 0 3 0a1.5 1.1 0 1 0 -3 0M740 806.7a1.5 1.1 0 1 0 3 0a1.5 1.1 0 1 0 -3 0M740.7 807.3a1.5 1.1 0 1 0 3 0a1.5 1.1 0 1 0 -3 0M740.7 805.3a1.5 1.1 0 1 0 3 0a1.5 1.1 0 1 0 -3 0M740.7 801.7a1.5 1.1 0 1 0 3 0a1.5 1.1 0 1 0 -3 0M742.2 806.8a1.5 1.1 0 1 0 3 0a1.5 1.1 0 1 0 -3 0M740.7 801.1a1.5 1.1 0 1 0 3 0a1.5 1.1 0 1 0 -3 0M740.7 806.1a1.5 1.1 0 1 0 3 0a1.5 1.1 0 1 0 -3 0M742.1 804.9a1.5 1.1 0 1 0 3 0a1.5 1.1 0 1 0 -3 0M740.9 801.7a1.5 1.1 0 1 0 3 0a1.5 1.1 0 1 0 -3 0M741.2 797.5a1.5 1.1 0 1 0 3 0a1.5 1.1 0 1 0 -3 0M743.2 804.6a1.5 1.1 0 1 0 3 0a1.5 1.1 0 1 0 -3 0M742 803.1a1.5 1.1 0 1 0 3 0a1.5 1.1 0 1 0 -3 0M742.8 798.7a1.5 1.1 0 1 0 3 0a1.5 1.1 0 1 0 -3 0M743.5 798a1.5 1.1 0 1 0 3 0a1.5 1.1 0 1 0 -3 0M742.9 801.7a1.5 1.1 0 1 0 3 0a1.5 1.1 0 1 0 -3 0M741.7 800.7a1.5 1.1 0 1 0 3 0a1.5 1.1 0 1 0 -3 0M743.4 799.3a1.5 1.1 0 1 0 3 0a1.5 1.1 0 1 0 -3 0M742 795.8a1.5 1.1 0 1 0 3 0a1.5 1.1 0 1 0 -3 0M743.8 802.6a1.5 1.1 0 1 0 3 0a1.5 1.1 0 1 0 -3 0M744.3 803.3a1.5 1.1 0 1 0 3 0a1.5 1.1 0 1 0 -3 0M744.2 799.1a1.5 1.1 0 1 0 3 0a1.5 1.1 0 1 0 -3 0M742.4 801.8a1.5 1.1 0 1 0 3 0a1.5 1.1 0 1 0 -3 0M744.5 798.6a1.5 1.1 0 1 0 3 0a1.5 1.1 0 1 0 -3 0M744 803.4a1.5 1.1 0 1 0 3 0a1.5 1.1 0 1 0 -3 0M745.9 804.2a1.5 1.1 0 1 0 3 0a1.5 1.1 0 1 0 -3 0M745.6 792.2a1.5 1.1 0 1 0 3 0a1.5 1.1 0 1 0 -3 0M745.9 798.8a1.5 1.1 0 1 0 3 0a1.5 1.1 0 1 0 -3 0M744 798a1.5 1.1 0 1 0 3 0a1.5 1.1 0 1 0 -3 0M744.4 797.4a1.5 1.1 0 1 0 3 0a1.5 1.1 0 1 0 -3 0M745.2 795.4a1.5 1.1 0 1 0 3 0a1.5 1.1 0 1 0 -3 0M745.9 793.8a1.5 1.1 0 1 0 3 0a1.5 1.1 0 1 0 -3 0M745.5 800.2a1.5 1.1 0 1 0 3 0a1.5 1.1 0 1 0 -3 0M746.3 797.8a1.5 1.1 0 1 0 3 0a1.5 1.1 0 1 0 -3 0M744.6 794.4a1.5 1.1 0 1 0 3 0a1.5 1.1 0 1 0 -3 0M745.2 798.5a1.5 1.1 0 1 0 3 0a1.5 1.1 0 1 0 -3 0M747 797.9a1.5 1.1 0 1 0 3 0a1.5 1.1 0 1 0 -3 0M745.6 795.4a1.5 1.1 0 1 0 3 0a1.5 1.1 0 1 0 -3 0M745.8 795.9a1.5 1.1 0 1 0 3 0a1.5 1.1 0 1 0 -3 0M746.6 797.3a1.5 1.1 0 1 0 3 0a1.5 1.1 0 1 0 -3 0M745.7 796.5a1.5 1.1 0 1 0 3 0a1.5 1.1 0 1 0 -3 0M747.8 794.7a1.5 1.1 0 1 0 3 0a1.5 1.1 0 1 0 -3 0M746.6 798.4a1.5 1.1 0 1 0 3 0a1.5 1.1 0 1 0 -3 0M747.4 797.6a1.5 1.1 0 1 0 3 0a1.5 1.1 0 1 0 -3 0M746.8 798.2a1.5 1.1 0 1 0 3 0a1.5 1.1 0 1 0 -3 0M747.8 800.2a1.5 1.1 0 1 0 3 0a1.5 1.1 0 1 0 -3 0M749 801.3a1.5 1.1 0 1 0 3 0a1.5 1.1 0 1 0 -3 0M748.8 798.1a1.5 1.1 0 1 0 3 0a1.5 1.1 0 1 0 -3 0M747.9 801.1a1.5 1.1 0 1 0 3 0a1.5 1.1 0 1 0 -3 0M747.7 802a1.5 1.1 0 1 0 3 0a1.5 1.1 0 1 0 -3 0M748.7 797.6a1.5 1.1 0 1 0 3 0a1.5 1.1 0 1 0 -3 0M749.7 803.8a1.5 1.1 0 1 0 3 0a1.5 1.1 0 1 0 -3 0M748.8 799.4a1.5 1.1 0 1 0 3 0a1.5 1.1 0 1 0 -3 0M749.8 803.9a1.5 1.1 0 1 0 3 0a1.5 1.1 0 1 0 -3 0M749.3 800.5a1.5 1.1 0 1 0 3 0a1.5 1.1 0 1 0 -3 0M749.1 803a1.5 1.1 0 1 0 3 0a1.5 1.1 0 1 0 -3 0M750.8 804a1.5 1.1 0 1 0 3 0a1.5 1.1 0 1 0 -3 0M751.2 803.6a1.5 1.1 0 1 0 3 0a1.5 1.1 0 1 0 -3 0M750.5 805.2a1.5 1.1 0 1 0 3 0a1.5 1.1 0 1 0 -3 0M749.2 801.8a1.5 1.1 0 1 0 3 0a1.5 1.1 0 1 0 -3 0M750.4 803a1.5 1.1 0 1 0 3 0a1.5 1.1 0 1 0 -3 0M751.6 803.9a1.5 1.1 0 1 0 3 0a1.5 1.1 0 1 0 -3 0M751 810.3a1.5 1.1 0 1 0 3 0a1.5 1.1 0 1 0 -3 0M752 807.7a1.5 1.1 0 1 0 3 0a1.5 1.1 0 1 0 -3 0M750.8 806.5a1.5 1.1 0 1 0 3 0a1.5 1.1 0 1 0 -3 0M752.5 819.9a1.5 1.1 0 1 0 3 0a1.5 1.1 0 1 0 -3 0M751.6 807.1a1.5 1.1 0 1 0 3 0a1.5 1.1 0 1 0 -3 0M752.2 803.9a1.5 1.1 0 1 0 3 0a1.5 1.1 0 1 0 -3 0M752 807.2a1.5 1.1 0 1 0 3 0a1.5 1.1 0 1 0 -3 0M751.8 813.2a1.5 1.1 0 1 0 3 0a1.5 1.1 0 1 0 -3 0M753 812.7a1.5 1.1 0 1 0 3 0a1.5 1.1 0 1 0 -3 0M753.7 810.5a1.5 1.1 0 1 0 3 0a1.5 1.1 0 1 0 -3 0M753 809.9a1.5 1.1 0 1 0 3 0a1.5 1.1 0 1 0 -3 0M752.5 812.4a1.5 1.1 0 1 0 3 0a1.5 1.1 0 1 0 -3 0M753.6 811a1.5 1.1 0 1 0 3 0a1.5 1.1 0 1 0 -3 0M753.9 814.9a1.5 1.1 0 1 0 3 0a1.5 1.1 0 1 0 -3 0M755 813.6a1.5 1.1 0 1 0 3 0a1.5 1.1 0 1 0 -3 0M753.2 814.3a1.5 1.1 0 1 0 3 0a1.5 1.1 0 1 0 -3 0M752.6 811.8a1.5 1.1 0 1 0 3 0a1.5 1.1 0 1 0 -3 0M753.7 809.3a1.5 1.1 0 1 0 3 0a1.5 1.1 0 1 0 -3 0M754.9 813.4a1.5 1.1 0 1 0 3 0a1.5 1.1 0 1 0 -3 0M755.1 810.8a1.5 1.1 0 1 0 3 0a1.5 1.1 0 1 0 -3 0M754.7 812.7a1.5 1.1 0 1 0 3 0a1.5 1.1 0 1 0 -3 0M754.7 809.7a1.5 1.1 0 1 0 3 0a1.5 1.1 0 1 0 -3 0M755 818.7a1.5 1.1 0 1 0 3 0a1.5 1.1 0 1 0 -3 0M755.1 809.7a1.5 1.1 0 1 0 3 0a1.5 1.1 0 1 0 -3 0M755 813a1.5 1.1 0 1 0 3 0a1.5 1.1 0 1 0 -3 0M756.2 807a1.5 1.1 0 1 0 3 0a1.5 1.1 0 1 0 -3 0M755.1 818.1a1.5 1.1 0 1 0 3 0a1.5 1.1 0 1 0 -3 0M755.9 817.8a1.5 1.1 0 1 0 3 0a1.5 1.1 0 1 0 -3 0M755.8 812.7a1.5 1.1 0 1 0 3 0a1.5 1.1 0 1 0 -3 0M755.9 813a1.5 1.1 0 1 0 3 0a1.5 1.1 0 1 0 -3 0M755.6 813.3a1.5 1.1 0 1 0 3 0a1.5 1.1 0 1 0 -3 0M757.6 811.6a1.5 1.1 0 1 0 3 0a1.5 1.1 0 1 0 -3 0M756.8 816.6a1.5 1.1 0 1 0 3 0a1.5 1.1 0 1 0 -3 0M757.5 810a1.5 1.1 0 1 0 3 0a1.5 1.1 0 1 0 -3 0M756.7 817.5a1.5 1.1 0 1 0 3 0a1.5 1.1 0 1 0 -3 0M756.4 815.8a1.5 1.1 0 1 0 3 0a1.5 1.1 0 1 0 -3 0M758.1 814.4a1.5 1.1 0 1 0 3 0a1.5 1.1 0 1 0 -3 0M756.3 815.5a1.5 1.1 0 1 0 3 0a1.5 1.1 0 1 0 -3 0M758.2 814.4a1.5 1.1 0 1 0 3 0a1.5 1.1 0 1 0 -3 0M756.7 815.8a1.5 1.1 0 1 0 3 0a1.5 1.1 0 1 0 -3 0M756.9 819.2a1.5 1.1 0 1 0 3 0a1.5 1.1 0 1 0 -3 0M758.3 820.2a1.5 1.1 0 1 0 3 0a1.5 1.1 0 1 0 -3 0M759.6 815.5a1.5 1.1 0 1 0 3 0a1.5 1.1 0 1 0 -3 0M757.9 815.7a1.5 1.1 0 1 0 3 0a1.5 1.1 0 1 0 -3 0M758 813.8a1.5 1.1 0 1 0 3 0a1.5 1.1 0 1 0 -3 0M757.8 813.5a1.5 1.1 0 1 0 3 0a1.5 1.1 0 1 0 -3 0M758.5 818.5a1.5 1.1 0 1 0 3 0a1.5 1.1 0 1 0 -3 0M758.7 824.1a1.5 1.1 0 1 0 3 0a1.5 1.1 0 1 0 -3 0M759.7 817.5a1.5 1.1 0 1 0 3 0a1.5 1.1 0 1 0 -3 0M759.3 817.1a1.5 1.1 0 1 0 3 0a1.5 1.1 0 1 0 -3 0M759.5 816.1a1.5 1.1 0 1 0 3 0a1.5 1.1 0 1 0 -3 0M760.3 815a1.5 1.1 0 1 0 3 0a1.5 1.1 0 1 0 -3 0M758.7 817.5a1.5 1.1 0 1 0 3 0a1.5 1.1 0 1 0 -3 0M760 822.4a1.5 1.1 0 1 0 3 0a1.5 1.1 0 1 0 -3 0M759.8 820.2a1.5 1.1 0 1 0 3 0a1.5 1.1 0 1 0 -3 0M760 814.6a1.5 1.1 0 1 0 3 0a1.5 1.1 0 1 0 -3 0M761.3 820.3a1.5 1.1 0 1 0 3 0a1.5 1.1 0 1 0 -3 0M760.7 821.6a1.5 1.1 0 1 0 3 0a1.5 1.1 0 1 0 -3 0M761.8 818.5a1.5 1.1 0 1 0 3 0a1.5 1.1 0 1 0 -3 0M761.2 820.8a1.5 1.1 0 1 0 3 0a1.5 1.1 0 1 0 -3 0M761.2 818.8a1.5 1.1 0 1 0 3 0a1.5 1.1 0 1 0 -3 0M761.4 817.3a1.5 1.1 0 1 0 3 0a1.5 1.1 0 1 0 -3 0M761.6 817.3a1.5 1.1 0 1 0 3 0a1.5 1.1 0 1 0 -3 0M763.3 830.7a1.5 1.1 0 1 0 3 0a1.5 1.1 0 1 0 -3 0M762.1 815.7a1.5 1.1 0 1 0 3 0a1.5 1.1 0 1 0 -3 0M760.4 820.8a1.5 1.1 0 1 0 3 0a1.5 1.1 0 1 0 -3 0M762.6 811.2a1.5 1.1 0 1 0 3 0a1.5 1.1 0 1 0 -3 0M762.6 821.6a1.5 1.1 0 1 0 3 0a1.5 1.1 0 1 0 -3 0M761.8 828.4a1.5 1.1 0 1 0 3 0a1.5 1.1 0 1 0 -3 0M762.6 816.4a1.5 1.1 0 1 0 3 0a1.5 1.1 0 1 0 -3 0M762.2 815.7a1.5 1.1 0 1 0 3 0a1.5 1.1 0 1 0 -3 0M762.5 814.9a1.5 1.1 0 1 0 3 0a1.5 1.1 0 1 0 -3 0M762.9 812.4a1.5 1.1 0 1 0 3 0a1.5 1.1 0 1 0 -3 0M762.9 817.8a1.5 1.1 0 1 0 3 0a1.5 1.1 0 1 0 -3 0M764.2 812.4a1.5 1.1 0 1 0 3 0a1.5 1.1 0 1 0 -3 0M762.9 812a1.5 1.1 0 1 0 3 0a1.5 1.1 0 1 0 -3 0M764.5 812.9a1.5 1.1 0 1 0 3 0a1.5 1.1 0 1 0 -3 0M763.6 819.9a1.5 1.1 0 1 0 3 0a1.5 1.1 0 1 0 -3 0M764.1 812.8a1.5 1.1 0 1 0 3 0a1.5 1.1 0 1 0 -3 0M765.2 812.4a1.5 1.1 0 1 0 3 0a1.5 1.1 0 1 0 -3 0M764.2 816.5a1.5 1.1 0 1 0 3 0a1.5 1.1 0 1 0 -3 0M764.5 809.7a1.5 1.1 0 1 0 3 0a1.5 1.1 0 1 0 -3 0M764.5 815a1.5 1.1 0 1 0 3 0a1.5 1.1 0 1 0 -3 0M765.2 807.9a1.5 1.1 0 1 0 3 0a1.5 1.1 0 1 0 -3 0M765 815.6a1.5 1.1 0 1 0 3 0a1.5 1.1 0 1 0 -3 0M766.2 807.7a1.5 1.1 0 1 0 3 0a1.5 1.1 0 1 0 -3 0M766 805.3a1.5 1.1 0 1 0 3 0a1.5 1.1 0 1 0 -3 0M764.7 811.1a1.5 1.1 0 1 0 3 0a1.5 1.1 0 1 0 -3 0M766.9 806.4a1.5 1.1 0 1 0 3 0a1.5 1.1 0 1 0 -3 0M768.4 795.5a1.5 1.1 0 1 0 3 0a1.5 1.1 0 1 0 -3 0M766.4 801.7a1.5 1.1 0 1 0 3 0a1.5 1.1 0 1 0 -3 0M767 803.3a1.5 1.1 0 1 0 3 0a1.5 1.1 0 1 0 -3 0M766.3 806a1.5 1.1 0 1 0 3 0a1.5 1.1 0 1 0 -3 0M768.3 786.9a1.5 1.1 0 1 0 3 0a1.5 1.1 0 1 0 -3 0M767 806.2a1.5 1.1 0 1 0 3 0a1.5 1.1 0 1 0 -3 0M767 802.3a1.5 1.1 0 1 0 3 0a1.5 1.1 0 1 0 -3 0M767.2 809.6a1.5 1.1 0 1 0 3 0a1.5 1.1 0 1 0 -3 0M768.7 803.9a1.5 1.1 0 1 0 3 0a1.5 1.1 0 1 0 -3 0M768.7 803.9a1.5 1.1 0 1 0 3 0a1.5 1.1 0 1 0 -3 0M767.9 813.9a1.5 1.1 0 1 0 3 0a1.5 1.1 0 1 0 -3 0M768.3 810.1a1.5 1.1 0 1 0 3 0a1.5 1.1 0 1 0 -3 0M769.3 801.3a1.5 1.1 0 1 0 3 0a1.5 1.1 0 1 0 -3 0M768.3 808.8a1.5 1.1 0 1 0 3 0a1.5 1.1 0 1 0 -3 0M768.6 816.1a1.5 1.1 0 1 0 3 0a1.5 1.1 0 1 0 -3 0M768.9 809.3a1.5 1.1 0 1 0 3 0a1.5 1.1 0 1 0 -3 0M769.1 815.7a1.5 1.1 0 1 0 3 0a1.5 1.1 0 1 0 -3 0M769.3 812.8a1.5 1.1 0 1 0 3 0a1.5 1.1 0 1 0 -3 0M769.9 813.5a1.5 1.1 0 1 0 3 0a1.5 1.1 0 1 0 -3 0M770.1 797.1a1.5 1.1 0 1 0 3 0a1.5 1.1 0 1 0 -3 0M769.6 808.4a1.5 1.1 0 1 0 3 0a1.5 1.1 0 1 0 -3 0M770.7 806.9a1.5 1.1 0 1 0 3 0a1.5 1.1 0 1 0 -3 0M770 818.7a1.5 1.1 0 1 0 3 0a1.5 1.1 0 1 0 -3 0M771.6 810.1a1.5 1.1 0 1 0 3 0a1.5 1.1 0 1 0 -3 0M770.3 814.3a1.5 1.1 0 1 0 3 0a1.5 1.1 0 1 0 -3 0M770 820.2a1.5 1.1 0 1 0 3 0a1.5 1.1 0 1 0 -3 0M772.2 816.4a1.5 1.1 0 1 0 3 0a1.5 1.1 0 1 0 -3 0M771.2 811.9a1.5 1.1 0 1 0 3 0a1.5 1.1 0 1 0 -3 0M772.3 817.5a1.5 1.1 0 1 0 3 0a1.5 1.1 0 1 0 -3 0M771.5 814a1.5 1.1 0 1 0 3 0a1.5 1.1 0 1 0 -3 0M769.9 821.5a1.5 1.1 0 1 0 3 0a1.5 1.1 0 1 0 -3 0M772.8 818a1.5 1.1 0 1 0 3 0a1.5 1.1 0 1 0 -3 0M771.5 818.9a1.5 1.1 0 1 0 3 0a1.5 1.1 0 1 0 -3 0M772.1 819.6a1.5 1.1 0 1 0 3 0a1.5 1.1 0 1 0 -3 0M772.8 820.9a1.5 1.1 0 1 0 3 0a1.5 1.1 0 1 0 -3 0M773.1 819.1a1.5 1.1 0 1 0 3 0a1.5 1.1 0 1 0 -3 0M772.6 820.2a1.5 1.1 0 1 0 3 0a1.5 1.1 0 1 0 -3 0M772.2 822.7a1.5 1.1 0 1 0 3 0a1.5 1.1 0 1 0 -3 0M772.9 824.3a1.5 1.1 0 1 0 3 0a1.5 1.1 0 1 0 -3 0M771.9 819.6a1.5 1.1 0 1 0 3 0a1.5 1.1 0 1 0 -3 0M773.5 823.3a1.5 1.1 0 1 0 3 0a1.5 1.1 0 1 0 -3 0M772.5 818.1a1.5 1.1 0 1 0 3 0a1.5 1.1 0 1 0 -3 0M774.6 821.1a1.5 1.1 0 1 0 3 0a1.5 1.1 0 1 0 -3 0M773.4 827a1.5 1.1 0 1 0 3 0a1.5 1.1 0 1 0 -3 0M774.4 825.2a1.5 1.1 0 1 0 3 0a1.5 1.1 0 1 0 -3 0M775.3 820.7a1.5 1.1 0 1 0 3 0a1.5 1.1 0 1 0 -3 0M774.6 823.9a1.5 1.1 0 1 0 3 0a1.5 1.1 0 1 0 -3 0M773.8 819.8a1.5 1.1 0 1 0 3 0a1.5 1.1 0 1 0 -3 0M774.8 828a1.5 1.1 0 1 0 3 0a1.5 1.1 0 1 0 -3 0M776.1 827.2a1.5 1.1 0 1 0 3 0a1.5 1.1 0 1 0 -3 0M773.7 816.4a1.5 1.1 0 1 0 3 0a1.5 1.1 0 1 0 -3 0M775.2 823.6a1.5 1.1 0 1 0 3 0a1.5 1.1 0 1 0 -3 0M775.6 835.7a1.5 1.1 0 1 0 3 0a1.5 1.1 0 1 0 -3 0M775.3 825.6a1.5 1.1 0 1 0 3 0a1.5 1.1 0 1 0 -3 0M776 823a1.5 1.1 0 1 0 3 0a1.5 1.1 0 1 0 -3 0M775.3 824.9a1.5 1.1 0 1 0 3 0a1.5 1.1 0 1 0 -3 0M776.1 825a1.5 1.1 0 1 0 3 0a1.5 1.1 0 1 0 -3 0M776.5 826.3a1.5 1.1 0 1 0 3 0a1.5 1.1 0 1 0 -3 0M777.6 821.2a1.5 1.1 0 1 0 3 0a1.5 1.1 0 1 0 -3 0M776.7 827.4a1.5 1.1 0 1 0 3 0a1.5 1.1 0 1 0 -3 0M778 826.2a1.5 1.1 0 1 0 3 0a1.5 1.1 0 1 0 -3 0M777.2 818.2a1.5 1.1 0 1 0 3 0a1.5 1.1 0 1 0 -3 0M776.7 826a1.5 1.1 0 1 0 3 0a1.5 1.1 0 1 0 -3 0M777.6 824.6a1.5 1.1 0 1 0 3 0a1.5 1.1 0 1 0 -3 0M776.5 826.9a1.5 1.1 0 1 0 3 0a1.5 1.1 0 1 0 -3 0M777.7 822.1a1.5 1.1 0 1 0 3 0a1.5 1.1 0 1 0 -3 0M778.5 829.4a1.5 1.1 0 1 0 3 0a1.5 1.1 0 1 0 -3 0M777.3 829.5a1.5 1.1 0 1 0 3 0a1.5 1.1 0 1 0 -3 0M776.5 834.5a1.5 1.1 0 1 0 3 0a1.5 1.1 0 1 0 -3 0M778.3 828.7a1.5 1.1 0 1 0 3 0a1.5 1.1 0 1 0 -3 0M777.7 829.1a1.5 1.1 0 1 0 3 0a1.5 1.1 0 1 0 -3 0M777.2 819.7a1.5 1.1 0 1 0 3 0a1.5 1.1 0 1 0 -3 0M779 830.6a1.5 1.1 0 1 0 3 0a1.5 1.1 0 1 0 -3 0M778.5 826.2a1.5 1.1 0 1 0 3 0a1.5 1.1 0 1 0 -3 0M778.8 830.2a1.5 1.1 0 1 0 3 0a1.5 1.1 0 1 0 -3 0M777.5 827.5a1.5 1.1 0 1 0 3 0a1.5 1.1 0 1 0 -3 0M778.6 833a1.5 1.1 0 1 0 3 0a1.5 1.1 0 1 0 -3 0M780 826.4a1.5 1.1 0 1 0 3 0a1.5 1.1 0 1 0 -3 0M779.4 838a1.5 1.1 0 1 0 3 0a1.5 1.1 0 1 0 -3 0M779.9 830.8a1.5 1.1 0 1 0 3 0a1.5 1.1 0 1 0 -3 0M780.1 829.6a1.5 1.1 0 1 0 3 0a1.5 1.1 0 1 0 -3 0M781.3 833.9a1.5 1.1 0 1 0 3 0a1.5 1.1 0 1 0 -3 0M780.9 840.8a1.5 1.1 0 1 0 3 0a1.5 1.1 0 1 0 -3 0M780.3 827.6a1.5 1.1 0 1 0 3 0a1.5 1.1 0 1 0 -3 0M779.8 835.5a1.5 1.1 0 1 0 3 0a1.5 1.1 0 1 0 -3 0M781.2 831.5a1.5 1.1 0 1 0 3 0a1.5 1.1 0 1 0 -3 0M780.6 827.6a1.5 1.1 0 1 0 3 0a1.5 1.1 0 1 0 -3 0M780.5 826.6a1.5 1.1 0 1 0 3 0a1.5 1.1 0 1 0 -3 0M781.1 826.9a1.5 1.1 0 1 0 3 0a1.5 1.1 0 1 0 -3 0M780.1 825.6a1.5 1.1 0 1 0 3 0a1.5 1.1 0 1 0 -3 0M780.1 839.7a1.5 1.1 0 1 0 3 0a1.5 1.1 0 1 0 -3 0M780 829.2a1.5 1.1 0 1 0 3 0a1.5 1.1 0 1 0 -3 0M781.9 827.1a1.5 1.1 0 1 0 3 0a1.5 1.1 0 1 0 -3 0M782.7 831.8a1.5 1.1 0 1 0 3 0a1.5 1.1 0 1 0 -3 0M782.6 837.8a1.5 1.1 0 1 0 3 0a1.5 1.1 0 1 0 -3 0M782.1 833.7a1.5 1.1 0 1 0 3 0a1.5 1.1 0 1 0 -3 0M780.9 823.4a1.5 1.1 0 1 0 3 0a1.5 1.1 0 1 0 -3 0M782.4 832.3a1.5 1.1 0 1 0 3 0a1.5 1.1 0 1 0 -3 0M783.4 829.5a1.5 1.1 0 1 0 3 0a1.5 1.1 0 1 0 -3 0M783.6 823.3a1.5 1.1 0 1 0 3 0a1.5 1.1 0 1 0 -3 0M783.2 833.8a1.5 1.1 0 1 0 3 0a1.5 1.1 0 1 0 -3 0M783.3 835.9a1.5 1.1 0 1 0 3 0a1.5 1.1 0 1 0 -3 0M783.3 833.7a1.5 1.1 0 1 0 3 0a1.5 1.1 0 1 0 -3 0M783.5 832.7a1.5 1.1 0 1 0 3 0a1.5 1.1 0 1 0 -3 0M784.8 828.6a1.5 1.1 0 1 0 3 0a1.5 1.1 0 1 0 -3 0M783.5 833.5a1.5 1.1 0 1 0 3 0a1.5 1.1 0 1 0 -3 0M785 835.6a1.5 1.1 0 1 0 3 0a1.5 1.1 0 1 0 -3 0M784.1 832.8a1.5 1.1 0 1 0 3 0a1.5 1.1 0 1 0 -3 0M784.4 836.8a1.5 1.1 0 1 0 3 0a1.5 1.1 0 1 0 -3 0M784.4 830a1.5 1.1 0 1 0 3 0a1.5 1.1 0 1 0 -3 0M784.9 837.3a1.5 1.1 0 1 0 3 0a1.5 1.1 0 1 0 -3 0M785.2 833.8a1.5 1.1 0 1 0 3 0a1.5 1.1 0 1 0 -3 0M785.7 834.5a1.5 1.1 0 1 0 3 0a1.5 1.1 0 1 0 -3 0M785.6 836.4a1.5 1.1 0 1 0 3 0a1.5 1.1 0 1 0 -3 0M784.4 833.4a1.5 1.1 0 1 0 3 0a1.5 1.1 0 1 0 -3 0M785.3 832.3a1.5 1.1 0 1 0 3 0a1.5 1.1 0 1 0 -3 0M785.9 832.2a1.5 1.1 0 1 0 3 0a1.5 1.1 0 1 0 -3 0M785.8 836.9a1.5 1.1 0 1 0 3 0a1.5 1.1 0 1 0 -3 0M786.7 833.2a1.5 1.1 0 1 0 3 0a1.5 1.1 0 1 0 -3 0M786.7 831.3a1.5 1.1 0 1 0 3 0a1.5 1.1 0 1 0 -3 0M787.8 826.3a1.5 1.1 0 1 0 3 0a1.5 1.1 0 1 0 -3 0M786.1 834.3a1.5 1.1 0 1 0 3 0a1.5 1.1 0 1 0 -3 0M788.5 836a1.5 1.1 0 1 0 3 0a1.5 1.1 0 1 0 -3 0M785.7 841.9a1.5 1.1 0 1 0 3 0a1.5 1.1 0 1 0 -3 0M786.2 838.1a1.5 1.1 0 1 0 3 0a1.5 1.1 0 1 0 -3 0M787 835.9a1.5 1.1 0 1 0 3 0a1.5 1.1 0 1 0 -3 0M786.1 849.2a1.5 1.1 0 1 0 3 0a1.5 1.1 0 1 0 -3 0M786.8 837.5a1.5 1.1 0 1 0 3 0a1.5 1.1 0 1 0 -3 0M787.6 834.2a1.5 1.1 0 1 0 3 0a1.5 1.1 0 1 0 -3 0M786.7 837.8a1.5 1.1 0 1 0 3 0a1.5 1.1 0 1 0 -3 0M786.5 836.4a1.5 1.1 0 1 0 3 0a1.5 1.1 0 1 0 -3 0M786.7 837.8a1.5 1.1 0 1 0 3 0a1.5 1.1 0 1 0 -3 0M786 837.5a1.5 1.1 0 1 0 3 0a1.5 1.1 0 1 0 -3 0M788 837.6a1.5 1.1 0 1 0 3 0a1.5 1.1 0 1 0 -3 0M787 841.6a1.5 1.1 0 1 0 3 0a1.5 1.1 0 1 0 -3 0M788.2 838.6a1.5 1.1 0 1 0 3 0a1.5 1.1 0 1 0 -3 0M786.9 834.9a1.5 1.1 0 1 0 3 0a1.5 1.1 0 1 0 -3 0M789.1 837.6a1.5 1.1 0 1 0 3 0a1.5 1.1 0 1 0 -3 0M788.1 834.8a1.5 1.1 0 1 0 3 0a1.5 1.1 0 1 0 -3 0M788.9 839.2a1.5 1.1 0 1 0 3 0a1.5 1.1 0 1 0 -3 0M787.6 836.2a1.5 1.1 0 1 0 3 0a1.5 1.1 0 1 0 -3 0M789.5 840.4a1.5 1.1 0 1 0 3 0a1.5 1.1 0 1 0 -3 0M790.2 845.1a1.5 1.1 0 1 0 3 0a1.5 1.1 0 1 0 -3 0M790.4 841.3a1.5 1.1 0 1 0 3 0a1.5 1.1 0 1 0 -3 0M787.9 822.5a1.5 1.1 0 1 0 3 0a1.5 1.1 0 1 0 -3 0M790.6 839.8a1.5 1.1 0 1 0 3 0a1.5 1.1 0 1 0 -3 0M790.1 831.4a1.5 1.1 0 1 0 3 0a1.5 1.1 0 1 0 -3 0M790.4 831.4a1.5 1.1 0 1 0 3 0a1.5 1.1 0 1 0 -3 0M789.8 834.2a1.5 1.1 0 1 0 3 0a1.5 1.1 0 1 0 -3 0M790.7 837.6a1.5 1.1 0 1 0 3 0a1.5 1.1 0 1 0 -3 0M791.5 844.3a1.5 1.1 0 1 0 3 0a1.5 1.1 0 1 0 -3 0M790.8 841.5a1.5 1.1 0 1 0 3 0a1.5 1.1 0 1 0 -3 0M791.5 835.6a1.5 1.1 0 1 0 3 0a1.5 1.1 0 1 0 -3 0M791.2 842.5a1.5 1.1 0 1 0 3 0a1.5 1.1 0 1 0 -3 0M791.2 831.9a1.5 1.1 0 1 0 3 0a1.5 1.1 0 1 0 -3 0M790.4 836a1.5 1.1 0 1 0 3 0a1.5 1.1 0 1 0 -3 0M791.5 836.2a1.5 1.1 0 1 0 3 0a1.5 1.1 0 1 0 -3 0M793.5 839.2a1.5 1.1 0 1 0 3 0a1.5 1.1 0 1 0 -3 0M792.4 843.5a1.5 1.1 0 1 0 3 0a1.5 1.1 0 1 0 -3 0M791.2 841.8a1.5 1.1 0 1 0 3 0a1.5 1.1 0 1 0 -3 0M793.3 838.5a1.5 1.1 0 1 0 3 0a1.5 1.1 0 1 0 -3 0M792.8 833a1.5 1.1 0 1 0 3 0a1.5 1.1 0 1 0 -3 0M792.6 836.6a1.5 1.1 0 1 0 3 0a1.5 1.1 0 1 0 -3 0M795.1 844.3a1.5 1.1 0 1 0 3 0a1.5 1.1 0 1 0 -3 0M793.6 839.9a1.5 1.1 0 1 0 3 0a1.5 1.1 0 1 0 -3 0M794.6 838.9a1.5 1.1 0 1 0 3 0a1.5 1.1 0 1 0 -3 0M794.8 840.6a1.5 1.1 0 1 0 3 0a1.5 1.1 0 1 0 -3 0M793.4 838.8a1.5 1.1 0 1 0 3 0a1.5 1.1 0 1 0 -3 0M794 833.9a1.5 1.1 0 1 0 3 0a1.5 1.1 0 1 0 -3 0M793.7 840.1a1.5 1.1 0 1 0 3 0a1.5 1.1 0 1 0 -3 0M794.5 841.8a1.5 1.1 0 1 0 3 0a1.5 1.1 0 1 0 -3 0M794.2 842.9a1.5 1.1 0 1 0 3 0a1.5 1.1 0 1 0 -3 0M794.8 843.8a1.5 1.1 0 1 0 3 0a1.5 1.1 0 1 0 -3 0M794.1 842.3a1.5 1.1 0 1 0 3 0a1.5 1.1 0 1 0 -3 0M795.2 841.7a1.5 1.1 0 1 0 3 0a1.5 1.1 0 1 0 -3 0M794.5 842a1.5 1.1 0 1 0 3 0a1.5 1.1 0 1 0 -3 0M795.8 840.5a1.5 1.1 0 1 0 3 0a1.5 1.1 0 1 0 -3 0M795.2 841.5a1.5 1.1 0 1 0 3 0a1.5 1.1 0 1 0 -3 0M796 837.6a1.5 1.1 0 1 0 3 0a1.5 1.1 0 1 0 -3 0M794.9 840.7a1.5 1.1 0 1 0 3 0a1.5 1.1 0 1 0 -3 0M795.3 857.4a1.5 1.1 0 1 0 3 0a1.5 1.1 0 1 0 -3 0M795.7 840.8a1.5 1.1 0 1 0 3 0a1.5 1.1 0 1 0 -3 0M797.7 838.4a1.5 1.1 0 1 0 3 0a1.5 1.1 0 1 0 -3 0M795.4 845.4a1.5 1.1 0 1 0 3 0a1.5 1.1 0 1 0 -3 0M796.8 842.9a1.5 1.1 0 1 0 3 0a1.5 1.1 0 1 0 -3 0M796.4 846a1.5 1.1 0 1 0 3 0a1.5 1.1 0 1 0 -3 0M796.8 843.4a1.5 1.1 0 1 0 3 0a1.5 1.1 0 1 0 -3 0M797.7 846.9a1.5 1.1 0 1 0 3 0a1.5 1.1 0 1 0 -3 0M797.6 845.5a1.5 1.1 0 1 0 3 0a1.5 1.1 0 1 0 -3 0M797.9 843.4a1.5 1.1 0 1 0 3 0a1.5 1.1 0 1 0 -3 0M798.1 843.8a1.5 1.1 0 1 0 3 0a1.5 1.1 0 1 0 -3 0M798.4 843.4a1.5 1.1 0 1 0 3 0a1.5 1.1 0 1 0 -3 0M798.7 844.1a1.5 1.1 0 1 0 3 0a1.5 1.1 0 1 0 -3 0M799 844.2a1.5 1.1 0 1 0 3 0a1.5 1.1 0 1 0 -3 0M799.3 844.8a1.5 1.1 0 1 0 3 0a1.5 1.1 0 1 0 -3 0M799.6 845.8a1.5 1.1 0 1 0 3 0a1.5 1.1 0 1 0 -3 0M799.8 845.9a1.5 1.1 0 1 0 3 0a1.5 1.1 0 1 0 -3 0M800.1 844.8a1.5 1.1 0 1 0 3 0a1.5 1.1 0 1 0 -3 0M800.4 845.7a1.5 1.1 0 1 0 3 0a1.5 1.1 0 1 0 -3 0M800.7 845.7a1.5 1.1 0 1 0 3 0a1.5 1.1 0 1 0 -3 0M801 846.2a1.5 1.1 0 1 0 3 0a1.5 1.1 0 1 0 -3 0M801.3 845.8a1.5 1.1 0 1 0 3 0a1.5 1.1 0 1 0 -3 0M801.5 846.2a1.5 1.1 0 1 0 3 0a1.5 1.1 0 1 0 -3 0M801.8 845.8a1.5 1.1 0 1 0 3 0a1.5 1.1 0 1 0 -3 0M802.1 845.7a1.5 1.1 0 1 0 3 0a1.5 1.1 0 1 0 -3 0M802.4 847.1a1.5 1.1 0 1 0 3 0a1.5 1.1 0 1 0 -3 0M802.7 847.6a1.5 1.1 0 1 0 3 0a1.5 1.1 0 1 0 -3 0M803 847.3a1.5 1.1 0 1 0 3 0a1.5 1.1 0 1 0 -3 0M803.2 847.3a1.5 1.1 0 1 0 3 0a1.5 1.1 0 1 0 -3 0M803.5 847.4a1.5 1.1 0 1 0 3 0a1.5 1.1 0 1 0 -3 0M803.8 847a1.5 1.1 0 1 0 3 0a1.5 1.1 0 1 0 -3 0M804.1 846.2a1.5 1.1 0 1 0 3 0a1.5 1.1 0 1 0 -3 0M804.4 848.2a1.5 1.1 0 1 0 3 0a1.5 1.1 0 1 0 -3 0M804.7 848a1.5 1.1 0 1 0 3 0a1.5 1.1 0 1 0 -3 0M804.9 847.6a1.5 1.1 0 1 0 3 0a1.5 1.1 0 1 0 -3 0M805.2 847.5a1.5 1.1 0 1 0 3 0a1.5 1.1 0 1 0 -3 0M805.5 849.3a1.5 1.1 0 1 0 3 0a1.5 1.1 0 1 0 -3 0M805.8 847.2a1.5 1.1 0 1 0 3 0a1.5 1.1 0 1 0 -3 0M806.1 850a1.5 1.1 0 1 0 3 0a1.5 1.1 0 1 0 -3 0M806.4 849.4a1.5 1.1 0 1 0 3 0a1.5 1.1 0 1 0 -3 0M806.6 850.8a1.5 1.1 0 1 0 3 0a1.5 1.1 0 1 0 -3 0M806.9 848.7a1.5 1.1 0 1 0 3 0a1.5 1.1 0 1 0 -3 0M807.2 849.4a1.5 1.1 0 1 0 3 0a1.5 1.1 0 1 0 -3 0M807.5 849.2a1.5 1.1 0 1 0 3 0a1.5 1.1 0 1 0 -3 0M807.8 849.8a1.5 1.1 0 1 0 3 0a1.5 1.1 0 1 0 -3 0M808.1 849.7a1.5 1.1 0 1 0 3 0a1.5 1.1 0 1 0 -3 0M808.3 849.5a1.5 1.1 0 1 0 3 0a1.5 1.1 0 1 0 -3 0M808.6 851a1.5 1.1 0 1 0 3 0a1.5 1.1 0 1 0 -3 0M808.9 849.8a1.5 1.1 0 1 0 3 0a1.5 1.1 0 1 0 -3 0M809.2 850.2a1.5 1.1 0 1 0 3 0a1.5 1.1 0 1 0 -3 0M809.5 851.1a1.5 1.1 0 1 0 3 0a1.5 1.1 0 1 0 -3 0M809.8 850.4a1.5 1.1 0 1 0 3 0a1.5 1.1 0 1 0 -3 0M810.1 850.7a1.5 1.1 0 1 0 3 0a1.5 1.1 0 1 0 -3 0M810.3 851.4a1.5 1.1 0 1 0 3 0a1.5 1.1 0 1 0 -3 0M810.6 851a1.5 1.1 0 1 0 3 0a1.5 1.1 0 1 0 -3 0M810.9 850.5a1.5 1.1 0 1 0 3 0a1.5 1.1 0 1 0 -3 0M811.2 851.5a1.5 1.1 0 1 0 3 0a1.5 1.1 0 1 0 -3 0M811.5 851.6a1.5 1.1 0 1 0 3 0a1.5 1.1 0 1 0 -3 0M811.8 853.2a1.5 1.1 0 1 0 3 0a1.5 1.1 0 1 0 -3 0M812 851.2a1.5 1.1 0 1 0 3 0a1.5 1.1 0 1 0 -3 0M812.3 852.9a1.5 1.1 0 1 0 3 0a1.5 1.1 0 1 0 -3 0M812.6 851.7a1.5 1.1 0 1 0 3 0a1.5 1.1 0 1 0 -3 0M812.9 852.2a1.5 1.1 0 1 0 3 0a1.5 1.1 0 1 0 -3 0M813.2 852.4a1.5 1.1 0 1 0 3 0a1.5 1.1 0 1 0 -3 0M813.5 853a1.5 1.1 0 1 0 3 0a1.5 1.1 0 1 0 -3 0M813.7 853.6a1.5 1.1 0 1 0 3 0a1.5 1.1 0 1 0 -3 0M814 854.4a1.5 1.1 0 1 0 3 0a1.5 1.1 0 1 0 -3 0M814.3 852.7a1.5 1.1 0 1 0 3 0a1.5 1.1 0 1 0 -3 0M814.6 854.3a1.5 1.1 0 1 0 3 0a1.5 1.1 0 1 0 -3 0M814.9 854.2a1.5 1.1 0 1 0 3 0a1.5 1.1 0 1 0 -3 0M815.2 854.3a1.5 1.1 0 1 0 3 0a1.5 1.1 0 1 0 -3 0M815.4 853.2a1.5 1.1 0 1 0 3 0a1.5 1.1 0 1 0 -3 0M815.7 854.6a1.5 1.1 0 1 0 3 0a1.5 1.1 0 1 0 -3 0M816 854a1.5 1.1 0 1 0 3 0a1.5 1.1 0 1 0 -3 0M816.3 854.5a1.5 1.1 0 1 0 3 0a1.5 1.1 0 1 0 -3 0M816.6 854.2a1.5 1.1 0 1 0 3 0a1.5 1.1 0 1 0 -3 0M816.9 855a1.5 1.1 0 1 0 3 0a1.5 1.1 0 1 0 -3 0M817.1 855.5a1.5 1.1 0 1 0 3 0a1.5 1.1 0 1 0 -3 0M817.4 855.7a1.5 1.1 0 1 0 3 0a1.5 1.1 0 1 0 -3 0M817.7 854.8a1.5 1.1 0 1 0 3 0a1.5 1.1 0 1 0 -3 0M818 855.9a1.5 1.1 0 1 0 3 0a1.5 1.1 0 1 0 -3 0M818.3 856.4a1.5 1.1 0 1 0 3 0a1.5 1.1 0 1 0 -3 0M818.6 854.7a1.5 1.1 0 1 0 3 0a1.5 1.1 0 1 0 -3 0M818.8 856.7a1.5 1.1 0 1 0 3 0a1.5 1.1 0 1 0 -3 0M819.1 854.7a1.5 1.1 0 1 0 3 0a1.5 1.1 0 1 0 -3 0M819.4 856.3a1.5 1.1 0 1 0 3 0a1.5 1.1 0 1 0 -3 0M819.7 856.4a1.5 1.1 0 1 0 3 0a1.5 1.1 0 1 0 -3 0M820 857.3a1.5 1.1 0 1 0 3 0a1.5 1.1 0 1 0 -3 0M820.3 856.5a1.5 1.1 0 1 0 3 0a1.5 1.1 0 1 0 -3 0M820.6 856.1a1.5 1.1 0 1 0 3 0a1.5 1.1 0 1 0 -3 0M820.8 856a1.5 1.1 0 1 0 3 0a1.5 1.1 0 1 0 -3 0M821.1 855.8a1.5 1.1 0 1 0 3 0a1.5 1.1 0 1 0 -3 0M821.4 857.5a1.5 1.1 0 1 0 3 0a1.5 1.1 0 1 0 -3 0M821.7 856.8a1.5 1.1 0 1 0 3 0a1.5 1.1 0 1 0 -3 0M822 856.6a1.5 1.1 0 1 0 3 0a1.5 1.1 0 1 0 -3 0M822.3 857.7a1.5 1.1 0 1 0 3 0a1.5 1.1 0 1 0 -3 0M822.5 856.9a1.5 1.1 0 1 0 3 0a1.5 1.1 0 1 0 -3 0M822.8 857.3a1.5 1.1 0 1 0 3 0a1.5 1.1 0 1 0 -3 0M823.1 857.4a1.5 1.1 0 1 0 3 0a1.5 1.1 0 1 0 -3 0M823.4 859.2a1.5 1.1 0 1 0 3 0a1.5 1.1 0 1 0 -3 0M823.7 859.2a1.5 1.1 0 1 0 3 0a1.5 1.1 0 1 0 -3 0M824 858.1a1.5 1.1 0 1 0 3 0a1.5 1.1 0 1 0 -3 0M824.2 857.2a1.5 1.1 0 1 0 3 0a1.5 1.1 0 1 0 -3 0M824.5 858.7a1.5 1.1 0 1 0 3 0a1.5 1.1 0 1 0 -3 0M824.8 858.7a1.5 1.1 0 1 0 3 0a1.5 1.1 0 1 0 -3 0M825.1 859.1a1.5 1.1 0 1 0 3 0a1.5 1.1 0 1 0 -3 0M825.4 859.4a1.5 1.1 0 1 0 3 0a1.5 1.1 0 1 0 -3 0M825.7 858.9a1.5 1.1 0 1 0 3 0a1.5 1.1 0 1 0 -3 0M825.9 859.9a1.5 1.1 0 1 0 3 0a1.5 1.1 0 1 0 -3 0M826.2 860a1.5 1.1 0 1 0 3 0a1.5 1.1 0 1 0 -3 0M826.5 859.7a1.5 1.1 0 1 0 3 0a1.5 1.1 0 1 0 -3 0M826.8 859.4a1.5 1.1 0 1 0 3 0a1.5 1.1 0 1 0 -3 0M827.1 859.5a1.5 1.1 0 1 0 3 0a1.5 1.1 0 1 0 -3 0M827.4 860.5a1.5 1.1 0 1 0 3 0a1.5 1.1 0 1 0 -3 0M827.6 859.3a1.5 1.1 0 1 0 3 0a1.5 1.1 0 1 0 -3 0M827.9 860.1a1.5 1.1 0 1 0 3 0a1.5 1.1 0 1 0 -3 0M828.2 859.8a1.5 1.1 0 1 0 3 0a1.5 1.1 0 1 0 -3 0M828.5 859.4a1.5 1.1 0 1 0 3 0a1.5 1.1 0 1 0 -3 0M828.8 861a1.5 1.1 0 1 0 3 0a1.5 1.1 0 1 0 -3 0M829.1 860.7a1.5 1.1 0 1 0 3 0a1.5 1.1 0 1 0 -3 0M829.3 860.8a1.5 1.1 0 1 0 3 0a1.5 1.1 0 1 0 -3 0M829.6 861.5a1.5 1.1 0 1 0 3 0a1.5 1.1 0 1 0 -3 0M829.9 859.9a1.5 1.1 0 1 0 3 0a1.5 1.1 0 1 0 -3 0M830.2 861.1a1.5 1.1 0 1 0 3 0a1.5 1.1 0 1 0 -3 0M830.5 861.4a1.5 1.1 0 1 0 3 0a1.5 1.1 0 1 0 -3 0M830.8 861.9a1.5 1.1 0 1 0 3 0a1.5 1.1 0 1 0 -3 0M831.1 860.6a1.5 1.1 0 1 0 3 0a1.5 1.1 0 1 0 -3 0M831.3 862.1a1.5 1.1 0 1 0 3 0a1.5 1.1 0 1 0 -3 0M831.6 861.8a1.5 1.1 0 1 0 3 0a1.5 1.1 0 1 0 -3 0M831.9 862.8a1.5 1.1 0 1 0 3 0a1.5 1.1 0 1 0 -3 0M832.2 862.7a1.5 1.1 0 1 0 3 0a1.5 1.1 0 1 0 -3 0M832.5 862.4a1.5 1.1 0 1 0 3 0a1.5 1.1 0 1 0 -3 0M832.8 863.7a1.5 1.1 0 1 0 3 0a1.5 1.1 0 1 0 -3 0M833 862.2a1.5 1.1 0 1 0 3 0a1.5 1.1 0 1 0 -3 0M833.3 862a1.5 1.1 0 1 0 3 0a1.5 1.1 0 1 0 -3 0M833.6 862.1a1.5 1.1 0 1 0 3 0a1.5 1.1 0 1 0 -3 0M833.9 861.8a1.5 1.1 0 1 0 3 0a1.5 1.1 0 1 0 -3 0M834.2 862.6a1.5 1.1 0 1 0 3 0a1.5 1.1 0 1 0 -3 0M834.5 861.3a1.5 1.1 0 1 0 3 0a1.5 1.1 0 1 0 -3 0M834.7 862.8a1.5 1.1 0 1 0 3 0a1.5 1.1 0 1 0 -3 0M835 863.3a1.5 1.1 0 1 0 3 0a1.5 1.1 0 1 0 -3 0M835.3 863.8a1.5 1.1 0 1 0 3 0a1.5 1.1 0 1 0 -3 0M835.6 862.9a1.5 1.1 0 1 0 3 0a1.5 1.1 0 1 0 -3 0M835.9 864.3a1.5 1.1 0 1 0 3 0a1.5 1.1 0 1 0 -3 0M836.2 862.9a1.5 1.1 0 1 0 3 0a1.5 1.1 0 1 0 -3 0M836.4 863.4a1.5 1.1 0 1 0 3 0a1.5 1.1 0 1 0 -3 0M836.7 862.2a1.5 1.1 0 1 0 3 0a1.5 1.1 0 1 0 -3 0M837 863.1a1.5 1.1 0 1 0 3 0a1.5 1.1 0 1 0 -3 0M837.3 863.2a1.5 1.1 0 1 0 3 0a1.5 1.1 0 1 0 -3 0M837.6 865a1.5 1.1 0 1 0 3 0a1.5 1.1 0 1 0 -3 0M837.9 864.4a1.5 1.1 0 1 0 3 0a1.5 1.1 0 1 0 -3 0M838.1 863.3a1.5 1.1 0 1 0 3 0a1.5 1.1 0 1 0 -3 0M838.4 864.6a1.5 1.1 0 1 0 3 0a1.5 1.1 0 1 0 -3 0M838.7 864.7a1.5 1.1 0 1 0 3 0a1.5 1.1 0 1 0 -3 0M839 864.3a1.5 1.1 0 1 0 3 0a1.5 1.1 0 1 0 -3 0M839.3 864.6a1.5 1.1 0 1 0 3 0a1.5 1.1 0 1 0 -3 0M839.6 864.4a1.5 1.1 0 1 0 3 0a1.5 1.1 0 1 0 -3 0M839.8 864.4a1.5 1.1 0 1 0 3 0a1.5 1.1 0 1 0 -3 0M840.1 863.6a1.5 1.1 0 1 0 3 0a1.5 1.1 0 1 0 -3 0M840.4 864.9a1.5 1.1 0 1 0 3 0a1.5 1.1 0 1 0 -3 0M840.7 866a1.5 1.1 0 1 0 3 0a1.5 1.1 0 1 0 -3 0M841 866.3a1.5 1.1 0 1 0 3 0a1.5 1.1 0 1 0 -3 0M841.3 865.1a1.5 1.1 0 1 0 3 0a1.5 1.1 0 1 0 -3 0M841.6 864.9a1.5 1.1 0 1 0 3 0a1.5 1.1 0 1 0 -3 0M841.8 865.4a1.5 1.1 0 1 0 3 0a1.5 1.1 0 1 0 -3 0M842.1 866.3a1.5 1.1 0 1 0 3 0a1.5 1.1 0 1 0 -3 0M842.4 866a1.5 1.1 0 1 0 3 0a1.5 1.1 0 1 0 -3 0M842.7 865.4a1.5 1.1 0 1 0 3 0a1.5 1.1 0 1 0 -3 0M843 866.2a1.5 1.1 0 1 0 3 0a1.5 1.1 0 1 0 -3 0M843.3 865.9a1.5 1.1 0 1 0 3 0a1.5 1.1 0 1 0 -3 0M843.5 866.6a1.5 1.1 0 1 0 3 0a1.5 1.1 0 1 0 -3 0M843.8 866a1.5 1.1 0 1 0 3 0a1.5 1.1 0 1 0 -3 0M844.1 865.3a1.5 1.1 0 1 0 3 0a1.5 1.1 0 1 0 -3 0M844.4 866.5a1.5 1.1 0 1 0 3 0a1.5 1.1 0 1 0 -3 0M844.7 867.2a1.5 1.1 0 1 0 3 0a1.5 1.1 0 1 0 -3 0M845 865.9a1.5 1.1 0 1 0 3 0a1.5 1.1 0 1 0 -3 0M845.2 866.7a1.5 1.1 0 1 0 3 0a1.5 1.1 0 1 0 -3 0M845.5 867.6a1.5 1.1 0 1 0 3 0a1.5 1.1 0 1 0 -3 0M845.8 866.8a1.5 1.1 0 1 0 3 0a1.5 1.1 0 1 0 -3 0M846.1 866.7a1.5 1.1 0 1 0 3 0a1.5 1.1 0 1 0 -3 0M846.4 868.7a1.5 1.1 0 1 0 3 0a1.5 1.1 0 1 0 -3 0M846.7 868a1.5 1.1 0 1 0 3 0a1.5 1.1 0 1 0 -3 0M846.9 868.2a1.5 1.1 0 1 0 3 0a1.5 1.1 0 1 0 -3 0M847.2 866.8a1.5 1.1 0 1 0 3 0a1.5 1.1 0 1 0 -3 0M847.5 868.8a1.5 1.1 0 1 0 3 0a1.5 1.1 0 1 0 -3 0M847.8 866.4a1.5 1.1 0 1 0 3 0a1.5 1.1 0 1 0 -3 0M848.1 867.3a1.5 1.1 0 1 0 3 0a1.5 1.1 0 1 0 -3 0M848.4 868.3a1.5 1.1 0 1 0 3 0a1.5 1.1 0 1 0 -3 0M848.6 868.8a1.5 1.1 0 1 0 3 0a1.5 1.1 0 1 0 -3 0M848.9 867.2a1.5 1.1 0 1 0 3 0a1.5 1.1 0 1 0 -3 0M849.2 867.5a1.5 1.1 0 1 0 3 0a1.5 1.1 0 1 0 -3 0M849.5 868.2a1.5 1.1 0 1 0 3 0a1.5 1.1 0 1 0 -3 0M849.8 866.7a1.5 1.1 0 1 0 3 0a1.5 1.1 0 1 0 -3 0M850.1 868.6a1.5 1.1 0 1 0 3 0a1.5 1.1 0 1 0 -3 0M850.3 868.6a1.5 1.1 0 1 0 3 0a1.5 1.1 0 1 0 -3 0M850.6 868a1.5 1.1 0 1 0 3 0a1.5 1.1 0 1 0 -3 0M850.9 868.8a1.5 1.1 0 1 0 3 0a1.5 1.1 0 1 0 -3 0M851.2 869a1.5 1.1 0 1 0 3 0a1.5 1.1 0 1 0 -3 0M851.5 868.7a1.5 1.1 0 1 0 3 0a1.5 1.1 0 1 0 -3 0M851.8 869a1.5 1.1 0 1 0 3 0a1.5 1.1 0 1 0 -3 0M852.1 869.8a1.5 1.1 0 1 0 3 0a1.5 1.1 0 1 0 -3 0M852.3 868.4a1.5 1.1 0 1 0 3 0a1.5 1.1 0 1 0 -3 0M852.6 868.9a1.5 1.1 0 1 0 3 0a1.5 1.1 0 1 0 -3 0M852.9 868.5a1.5 1.1 0 1 0 3 0a1.5 1.1 0 1 0 -3 0M853.2 869.7a1.5 1.1 0 1 0 3 0a1.5 1.1 0 1 0 -3 0M853.5 868.7a1.5 1.1 0 1 0 3 0a1.5 1.1 0 1 0 -3 0M853.8 869.4a1.5 1.1 0 1 0 3 0a1.5 1.1 0 1 0 -3 0M854 869.2a1.5 1.1 0 1 0 3 0a1.5 1.1 0 1 0 -3 0M854.3 869.2a1.5 1.1 0 1 0 3 0a1.5 1.1 0 1 0 -3 0M854.6 870.5a1.5 1.1 0 1 0 3 0a1.5 1.1 0 1 0 -3 0M854.9 869.3a1.5 1.1 0 1 0 3 0a1.5 1.1 0 1 0 -3 0M855.2 870.4a1.5 1.1 0 1 0 3 0a1.5 1.1 0 1 0 -3 0M855.5 870.1a1.5 1.1 0 1 0 3 0a1.5 1.1 0 1 0 -3 0M855.7 870.5a1.5 1.1 0 1 0 3 0a1.5 1.1 0 1 0 -3 0M856 869.5a1.5 1.1 0 1 0 3 0a1.5 1.1 0 1 0 -3 0M856.3 870.3a1.5 1.1 0 1 0 3 0a1.5 1.1 0 1 0 -3 0M856.6 870.3a1.5 1.1 0 1 0 3 0a1.5 1.1 0 1 0 -3 0M856.9 869.4a1.5 1.1 0 1 0 3 0a1.5 1.1 0 1 0 -3 0M857.2 870.1a1.5 1.1 0 1 0 3 0a1.5 1.1 0 1 0 -3 0M857.4 869.8a1.5 1.1 0 1 0 3 0a1.5 1.1 0 1 0 -3 0M857.7 870a1.5 1.1 0 1 0 3 0a1.5 1.1 0 1 0 -3 0M858 871a1.5 1.1 0 1 0 3 0a1.5 1.1 0 1 0 -3 0M858.3 869.6a1.5 1.1 0 1 0 3 0a1.5 1.1 0 1 0 -3 0M858.6 869a1.5 1.1 0 1 0 3 0a1.5 1.1 0 1 0 -3 0M858.9 869a1.5 1.1 0 1 0 3 0a1.5 1.1 0 1 0 -3 0M859.1 870a1.5 1.1 0 1 0 3 0a1.5 1.1 0 1 0 -3 0M859.4 869.9a1.5 1.1 0 1 0 3 0a1.5 1.1 0 1 0 -3 0M859.7 870.5a1.5 1.1 0 1 0 3 0a1.5 1.1 0 1 0 -3 0M860 871a1.5 1.1 0 1 0 3 0a1.5 1.1 0 1 0 -3 0M860.3 871.9a1.5 1.1 0 1 0 3 0a1.5 1.1 0 1 0 -3 0M860.6 870.9a1.5 1.1 0 1 0 3 0a1.5 1.1 0 1 0 -3 0M860.8 871.1a1.5 1.1 0 1 0 3 0a1.5 1.1 0 1 0 -3 0M861.1 870.3a1.5 1.1 0 1 0 3 0a1.5 1.1 0 1 0 -3 0M861.4 871.3a1.5 1.1 0 1 0 3 0a1.5 1.1 0 1 0 -3 0M861.7 872a1.5 1.1 0 1 0 3 0a1.5 1.1 0 1 0 -3 0M862 872a1.5 1.1 0 1 0 3 0a1.5 1.1 0 1 0 -3 0M862.3 869.7a1.5 1.1 0 1 0 3 0a1.5 1.1 0 1 0 -3 0M862.5 871.8a1.5 1.1 0 1 0 3 0a1.5 1.1 0 1 0 -3 0M862.8 872.4a1.5 1.1 0 1 0 3 0a1.5 1.1 0 1 0 -3 0M863.1 871.9a1.5 1.1 0 1 0 3 0a1.5 1.1 0 1 0 -3 0M863.4 870.3a1.5 1.1 0 1 0 3 0a1.5 1.1 0 1 0 -3 0M863.7 871.2a1.5 1.1 0 1 0 3 0a1.5 1.1 0 1 0 -3 0M864 871.9a1.5 1.1 0 1 0 3 0a1.5 1.1 0 1 0 -3 0M864.3 871.9a1.5 1.1 0 1 0 3 0a1.5 1.1 0 1 0 -3 0M864.5 871a1.5 1.1 0 1 0 3 0a1.5 1.1 0 1 0 -3 0M864.8 871.1a1.5 1.1 0 1 0 3 0a1.5 1.1 0 1 0 -3 0M865.1 872.5a1.5 1.1 0 1 0 3 0a1.5 1.1 0 1 0 -3 0M865.4 870.9a1.5 1.1 0 1 0 3 0a1.5 1.1 0 1 0 -3 0M865.7 873a1.5 1.1 0 1 0 3 0a1.5 1.1 0 1 0 -3 0M866 872a1.5 1.1 0 1 0 3 0a1.5 1.1 0 1 0 -3 0M866.2 872.2a1.5 1.1 0 1 0 3 0a1.5 1.1 0 1 0 -3 0M866.5 871.1a1.5 1.1 0 1 0 3 0a1.5 1.1 0 1 0 -3 0M866.8 871.7a1.5 1.1 0 1 0 3 0a1.5 1.1 0 1 0 -3 0M867.1 872.7a1.5 1.1 0 1 0 3 0a1.5 1.1 0 1 0 -3 0M867.4 871.2a1.5 1.1 0 1 0 3 0a1.5 1.1 0 1 0 -3 0M867.7 873.8a1.5 1.1 0 1 0 3 0a1.5 1.1 0 1 0 -3 0M867.9 871.3a1.5 1.1 0 1 0 3 0a1.5 1.1 0 1 0 -3 0M868.2 871.5a1.5 1.1 0 1 0 3 0a1.5 1.1 0 1 0 -3 0M868.5 872.5a1.5 1.1 0 1 0 3 0a1.5 1.1 0 1 0 -3 0M868.8 872.9a1.5 1.1 0 1 0 3 0a1.5 1.1 0 1 0 -3 0M869.1 873.1a1.5 1.1 0 1 0 3 0a1.5 1.1 0 1 0 -3 0M869.4 872.4a1.5 1.1 0 1 0 3 0a1.5 1.1 0 1 0 -3 0M869.6 872.6a1.5 1.1 0 1 0 3 0a1.5 1.1 0 1 0 -3 0M869.9 872.6a1.5 1.1 0 1 0 3 0a1.5 1.1 0 1 0 -3 0M870.2 872.4a1.5 1.1 0 1 0 3 0a1.5 1.1 0 1 0 -3 0M870.5 871a1.5 1.1 0 1 0 3 0a1.5 1.1 0 1 0 -3 0M870.8 873.6a1.5 1.1 0 1 0 3 0a1.5 1.1 0 1 0 -3 0M871.1 873.2a1.5 1.1 0 1 0 3 0a1.5 1.1 0 1 0 -3 0M871.3 873.2a1.5 1.1 0 1 0 3 0a1.5 1.1 0 1 0 -3 0M871.6 872.6a1.5 1.1 0 1 0 3 0a1.5 1.1 0 1 0 -3 0M871.9 873.3a1.5 1.1 0 1 0 3 0a1.5 1.1 0 1 0 -3 0M872.2 873.2a1.5 1.1 0 1 0 3 0a1.5 1.1 0 1 0 -3 0M872.5 873.2a1.5 1.1 0 1 0 3 0a1.5 1.1 0 1 0 -3 0M872.8 874.1a1.5 1.1 0 1 0 3 0a1.5 1.1 0 1 0 -3 0M873 872.1a1.5 1.1 0 1 0 3 0a1.5 1.1 0 1 0 -3 0M873.3 873.6a1.5 1.1 0 1 0 3 0a1.5 1.1 0 1 0 -3 0M873.6 872.7a1.5 1.1 0 1 0 3 0a1.5 1.1 0 1 0 -3 0M873.9 873.3a1.5 1.1 0 1 0 3 0a1.5 1.1 0 1 0 -3 0M874.2 874.7a1.5 1.1 0 1 0 3 0a1.5 1.1 0 1 0 -3 0M874.5 872.9a1.5 1.1 0 1 0 3 0a1.5 1.1 0 1 0 -3 0M874.8 873.7a1.5 1.1 0 1 0 3 0a1.5 1.1 0 1 0 -3 0M875 873.3a1.5 1.1 0 1 0 3 0a1.5 1.1 0 1 0 -3 0M875.3 874.5a1.5 1.1 0 1 0 3 0a1.5 1.1 0 1 0 -3 0M875.6 873.2a1.5 1.1 0 1 0 3 0a1.5 1.1 0 1 0 -3 0M875.9 872.7a1.5 1.1 0 1 0 3 0a1.5 1.1 0 1 0 -3 0M876.2 874.4a1.5 1.1 0 1 0 3 0a1.5 1.1 0 1 0 -3 0M876.5 873.8a1.5 1.1 0 1 0 3 0a1.5 1.1 0 1 0 -3 0M876.7 873.9a1.5 1.1 0 1 0 3 0a1.5 1.1 0 1 0 -3 0M877 875a1.5 1.1 0 1 0 3 0a1.5 1.1 0 1 0 -3 0M877.3 873.6a1.5 1.1 0 1 0 3 0a1.5 1.1 0 1 0 -3 0M877.6 874a1.5 1.1 0 1 0 3 0a1.5 1.1 0 1 0 -3 0M877.9 874.5a1.5 1.1 0 1 0 3 0a1.5 1.1 0 1 0 -3 0M878.2 874.7a1.5 1.1 0 1 0 3 0a1.5 1.1 0 1 0 -3 0M878.4 874.1a1.5 1.1 0 1 0 3 0a1.5 1.1 0 1 0 -3 0M878.7 875.3a1.5 1.1 0 1 0 3 0a1.5 1.1 0 1 0 -3 0M879 876.2a1.5 1.1 0 1 0 3 0a1.5 1.1 0 1 0 -3 0M879.3 874.3a1.5 1.1 0 1 0 3 0a1.5 1.1 0 1 0 -3 0M879.6 876a1.5 1.1 0 1 0 3 0a1.5 1.1 0 1 0 -3 0M879.9 873.2a1.5 1.1 0 1 0 3 0a1.5 1.1 0 1 0 -3 0M880.1 875.8a1.5 1.1 0 1 0 3 0a1.5 1.1 0 1 0 -3 0M880.4 874.6a1.5 1.1 0 1 0 3 0a1.5 1.1 0 1 0 -3 0M880.7 875a1.5 1.1 0 1 0 3 0a1.5 1.1 0 1 0 -3 0M881 874.7a1.5 1.1 0 1 0 3 0a1.5 1.1 0 1 0 -3 0M881.3 874.6a1.5 1.1 0 1 0 3 0a1.5 1.1 0 1 0 -3 0M881.6 874.2a1.5 1.1 0 1 0 3 0a1.5 1.1 0 1 0 -3 0M881.8 874.9a1.5 1.1 0 1 0 3 0a1.5 1.1 0 1 0 -3 0M882.1 876.1a1.5 1.1 0 1 0 3 0a1.5 1.1 0 1 0 -3 0M882.4 876.1a1.5 1.1 0 1 0 3 0a1.5 1.1 0 1 0 -3 0M882.7 875.1a1.5 1.1 0 1 0 3 0a1.5 1.1 0 1 0 -3 0M883 875a1.5 1.1 0 1 0 3 0a1.5 1.1 0 1 0 -3 0M883.3 874.9a1.5 1.1 0 1 0 3 0a1.5 1.1 0 1 0 -3 0M883.5 874.6a1.5 1.1 0 1 0 3 0a1.5 1.1 0 1 0 -3 0M883.8 876.8a1.5 1.1 0 1 0 3 0a1.5 1.1 0 1 0 -3 0M884.1 876.1a1.5 1.1 0 1 0 3 0a1.5 1.1 0 1 0 -3 0M884.4 875.7a1.5 1.1 0 1 0 3 0a1.5 1.1 0 1 0 -3 0M884.7 875.3a1.5 1.1 0 1 0 3 0a1.5 1.1 0 1 0 -3 0M885 875a1.5 1.1 0 1 0 3 0a1.5 1.1 0 1 0 -3 0M885.3 876.7a1.5 1.1 0 1 0 3 0a1.5 1.1 0 1 0 -3 0M885.5 876.4a1.5 1.1 0 1 0 3 0a1.5 1.1 0 1 0 -3 0M885.8 875.2a1.5 1.1 0 1 0 3 0a1.5 1.1 0 1 0 -3 0M886.1 876.6a1.5 1.1 0 1 0 3 0a1.5 1.1 0 1 0 -3 0M886.4 875.1a1.5 1.1 0 1 0 3 0a1.5 1.1 0 1 0 -3 0M886.7 876.4a1.5 1.1 0 1 0 3 0a1.5 1.1 0 1 0 -3 0M887 875.3a1.5 1.1 0 1 0 3 0a1.5 1.1 0 1 0 -3 0M887.2 875.8a1.5 1.1 0 1 0 3 0a1.5 1.1 0 1 0 -3 0M887.5 876.5a1.5 1.1 0 1 0 3 0a1.5 1.1 0 1 0 -3 0M887.8 876.4a1.5 1.1 0 1 0 3 0a1.5 1.1 0 1 0 -3 0M888.1 876.9a1.5 1.1 0 1 0 3 0a1.5 1.1 0 1 0 -3 0M888.4 875.6a1.5 1.1 0 1 0 3 0a1.5 1.1 0 1 0 -3 0M888.7 877.4a1.5 1.1 0 1 0 3 0a1.5 1.1 0 1 0 -3 0M888.9 877.3a1.5 1.1 0 1 0 3 0a1.5 1.1 0 1 0 -3 0M889.2 876.3a1.5 1.1 0 1 0 3 0a1.5 1.1 0 1 0 -3 0M889.5 876.7a1.5 1.1 0 1 0 3 0a1.5 1.1 0 1 0 -3 0M889.8 875.8a1.5 1.1 0 1 0 3 0a1.5 1.1 0 1 0 -3 0M890.1 876.3a1.5 1.1 0 1 0 3 0a1.5 1.1 0 1 0 -3 0M890.4 875.5a1.5 1.1 0 1 0 3 0a1.5 1.1 0 1 0 -3 0M890.6 876.6a1.5 1.1 0 1 0 3 0a1.5 1.1 0 1 0 -3 0M890.9 876.7a1.5 1.1 0 1 0 3 0a1.5 1.1 0 1 0 -3 0M891.2 877.6a1.5 1.1 0 1 0 3 0a1.5 1.1 0 1 0 -3 0M891.5 877.3a1.5 1.1 0 1 0 3 0a1.5 1.1 0 1 0 -3 0M891.8 877.3a1.5 1.1 0 1 0 3 0a1.5 1.1 0 1 0 -3 0M892.1 876.5a1.5 1.1 0 1 0 3 0a1.5 1.1 0 1 0 -3 0M892.3 876.6a1.5 1.1 0 1 0 3 0a1.5 1.1 0 1 0 -3 0M892.6 876.6a1.5 1.1 0 1 0 3 0a1.5 1.1 0 1 0 -3 0M892.9 877a1.5 1.1 0 1 0 3 0a1.5 1.1 0 1 0 -3 0M893.2 875.5a1.5 1.1 0 1 0 3 0a1.5 1.1 0 1 0 -3 0M893.5 877.5a1.5 1.1 0 1 0 3 0a1.5 1.1 0 1 0 -3 0M893.8 875.8a1.5 1.1 0 1 0 3 0a1.5 1.1 0 1 0 -3 0M894 876.6a1.5 1.1 0 1 0 3 0a1.5 1.1 0 1 0 -3 0M894.3 877.1a1.5 1.1 0 1 0 3 0a1.5 1.1 0 1 0 -3 0M894.6 876.7a1.5 1.1 0 1 0 3 0a1.5 1.1 0 1 0 -3 0M894.9 878.3a1.5 1.1 0 1 0 3 0a1.5 1.1 0 1 0 -3 0M895.2 877.1a1.5 1.1 0 1 0 3 0a1.5 1.1 0 1 0 -3 0M895.5 878.3a1.5 1.1 0 1 0 3 0a1.5 1.1 0 1 0 -3 0M895.8 878.1a1.5 1.1 0 1 0 3 0a1.5 1.1 0 1 0 -3 0M896 876.9a1.5 1.1 0 1 0 3 0a1.5 1.1 0 1 0 -3 0M896.3 877.6a1.5 1.1 0 1 0 3 0a1.5 1.1 0 1 0 -3 0M896.6 878.3a1.5 1.1 0 1 0 3 0a1.5 1.1 0 1 0 -3 0M896.9 877.2a1.5 1.1 0 1 0 3 0a1.5 1.1 0 1 0 -3 0M897.2 877.5a1.5 1.1 0 1 0 3 0a1.5 1.1 0 1 0 -3 0M897.5 877.1a1.5 1.1 0 1 0 3 0a1.5 1.1 0 1 0 -3 0M897.7 877.6a1.5 1.1 0 1 0 3 0a1.5 1.1 0 1 0 -3 0M898 877.3a1.5 1.1 0 1 0 3 0a1.5 1.1 0 1 0 -3 0M898.3 877.7a1.5 1.1 0 1 0 3 0a1.5 1.1 0 1 0 -3 0M898.6 878.4a1.5 1.1 0 1 0 3 0a1.5 1.1 0 1 0 -3 0M898.9 878.7a1.5 1.1 0 1 0 3 0a1.5 1.1 0 1 0 -3 0M899.2 877.8a1.5 1.1 0 1 0 3 0a1.5 1.1 0 1 0 -3 0M899.4 877.9a1.5 1.1 0 1 0 3 0a1.5 1.1 0 1 0 -3 0M899.7 878.4a1.5 1.1 0 1 0 3 0a1.5 1.1 0 1 0 -3 0M900 877.6a1.5 1.1 0 1 0 3 0a1.5 1.1 0 1 0 -3 0M900.3 877.1a1.5 1.1 0 1 0 3 0a1.5 1.1 0 1 0 -3 0M900.6 878.7a1.5 1.1 0 1 0 3 0a1.5 1.1 0 1 0 -3 0M900.9 877.3a1.5 1.1 0 1 0 3 0a1.5 1.1 0 1 0 -3 0M901.1 878.7a1.5 1.1 0 1 0 3 0a1.5 1.1 0 1 0 -3 0M901.4 877.3a1.5 1.1 0 1 0 3 0a1.5 1.1 0 1 0 -3 0M901.7 879.4a1.5 1.1 0 1 0 3 0a1.5 1.1 0 1 0 -3 0M902 877.4a1.5 1.1 0 1 0 3 0a1.5 1.1 0 1 0 -3 0M902.3 878.8a1.5 1.1 0 1 0 3 0a1.5 1.1 0 1 0 -3 0M902.6 879.3a1.5 1.1 0 1 0 3 0a1.5 1.1 0 1 0 -3 0M902.8 877.5a1.5 1.1 0 1 0 3 0a1.5 1.1 0 1 0 -3 0M903.1 879.4a1.5 1.1 0 1 0 3 0a1.5 1.1 0 1 0 -3 0M903.4 877.7a1.5 1.1 0 1 0 3 0a1.5 1.1 0 1 0 -3 0M903.7 877.1a1.5 1.1 0 1 0 3 0a1.5 1.1 0 1 0 -3 0M904 878.9a1.5 1.1 0 1 0 3 0a1.5 1.1 0 1 0 -3 0M904.3 878.9a1.5 1.1 0 1 0 3 0a1.5 1.1 0 1 0 -3 0M904.5 878.3a1.5 1.1 0 1 0 3 0a1.5 1.1 0 1 0 -3 0M904.8 876.7a1.5 1.1 0 1 0 3 0a1.5 1.1 0 1 0 -3 0M905.1 878.5a1.5 1.1 0 1 0 3 0a1.5 1.1 0 1 0 -3 0M905.4 878.3a1.5 1.1 0 1 0 3 0a1.5 1.1 0 1 0 -3 0M905.7 878.3a1.5 1.1 0 1 0 3 0a1.5 1.1 0 1 0 -3 0M906 878.4a1.5 1.1 0 1 0 3 0a1.5 1.1 0 1 0 -3 0M906.2 877.4a1.5 1.1 0 1 0 3 0a1.5 1.1 0 1 0 -3 0M906.5 878.3a1.5 1.1 0 1 0 3 0a1.5 1.1 0 1 0 -3 0M906.8 880a1.5 1.1 0 1 0 3 0a1.5 1.1 0 1 0 -3 0M907.1 879.9a1.5 1.1 0 1 0 3 0a1.5 1.1 0 1 0 -3 0M907.4 878.5a1.5 1.1 0 1 0 3 0a1.5 1.1 0 1 0 -3 0M907.7 878.3a1.5 1.1 0 1 0 3 0a1.5 1.1 0 1 0 -3 0M908 879.1a1.5 1.1 0 1 0 3 0a1.5 1.1 0 1 0 -3 0M908.2 879.7a1.5 1.1 0 1 0 3 0a1.5 1.1 0 1 0 -3 0M908.5 879.5a1.5 1.1 0 1 0 3 0a1.5 1.1 0 1 0 -3 0M908.8 878.1a1.5 1.1 0 1 0 3 0a1.5 1.1 0 1 0 -3 0M909.1 879.1a1.5 1.1 0 1 0 3 0a1.5 1.1 0 1 0 -3 0M909.4 879.1a1.5 1.1 0 1 0 3 0a1.5 1.1 0 1 0 -3 0M909.7 880.1a1.5 1.1 0 1 0 3 0a1.5 1.1 0 1 0 -3 0M909.9 880a1.5 1.1 0 1 0 3 0a1.5 1.1 0 1 0 -3 0M910.2 879.5a1.5 1.1 0 1 0 3 0a1.5 1.1 0 1 0 -3 0M910.5 880.1a1.5 1.1 0 1 0 3 0a1.5 1.1 0 1 0 -3 0M910.8 878.9a1.5 1.1 0 1 0 3 0a1.5 1.1 0 1 0 -3 0M911.1 880.4a1.5 1.1 0 1 0 3 0a1.5 1.1 0 1 0 -3 0M911.4 879a1.5 1.1 0 1 0 3 0a1.5 1.1 0 1 0 -3 0M911.6 879.6a1.5 1.1 0 1 0 3 0a1.5 1.1 0 1 0 -3 0M911.9 880a1.5 1.1 0 1 0 3 0a1.5 1.1 0 1 0 -3 0M912.2 878.7a1.5 1.1 0 1 0 3 0a1.5 1.1 0 1 0 -3 0M912.5 878.9a1.5 1.1 0 1 0 3 0a1.5 1.1 0 1 0 -3 0M912.8 878.2a1.5 1.1 0 1 0 3 0a1.5 1.1 0 1 0 -3 0M913.1 879.6a1.5 1.1 0 1 0 3 0a1.5 1.1 0 1 0 -3 0M913.3 879.5a1.5 1.1 0 1 0 3 0a1.5 1.1 0 1 0 -3 0M913.6 879.3a1.5 1.1 0 1 0 3 0a1.5 1.1 0 1 0 -3 0M913.9 879.9a1.5 1.1 0 1 0 3 0a1.5 1.1 0 1 0 -3 0M914.2 878.1a1.5 1.1 0 1 0 3 0a1.5 1.1 0 1 0 -3 0M914.5 879.6a1.5 1.1 0 1 0 3 0a1.5 1.1 0 1 0 -3 0M914.8 879.7a1.5 1.1 0 1 0 3 0a1.5 1.1 0 1 0 -3 0M915 879.5a1.5 1.1 0 1 0 3 0a1.5 1.1 0 1 0 -3 0M915.3 880.3a1.5 1.1 0 1 0 3 0a1.5 1.1 0 1 0 -3 0M915.6 881.1a1.5 1.1 0 1 0 3 0a1.5 1.1 0 1 0 -3 0M915.9 879.5a1.5 1.1 0 1 0 3 0a1.5 1.1 0 1 0 -3 0M916.2 879.2a1.5 1.1 0 1 0 3 0a1.5 1.1 0 1 0 -3 0M916.5 879.4a1.5 1.1 0 1 0 3 0a1.5 1.1 0 1 0 -3 0M916.7 880a1.5 1.1 0 1 0 3 0a1.5 1.1 0 1 0 -3 0M917 880.4a1.5 1.1 0 1 0 3 0a1.5 1.1 0 1 0 -3 0M917.3 879.4a1.5 1.1 0 1 0 3 0a1.5 1.1 0 1 0 -3 0M917.6 880.7a1.5 1.1 0 1 0 3 0a1.5 1.1 0 1 0 -3 0M917.9 879.3a1.5 1.1 0 1 0 3 0a1.5 1.1 0 1 0 -3 0M918.2 880.7a1.5 1.1 0 1 0 3 0a1.5 1.1 0 1 0 -3 0M918.5 880.4a1.5 1.1 0 1 0 3 0a1.5 1.1 0 1 0 -3 0M918.7 880.5a1.5 1.1 0 1 0 3 0a1.5 1.1 0 1 0 -3 0M919 881.8a1.5 1.1 0 1 0 3 0a1.5 1.1 0 1 0 -3 0M919.3 880a1.5 1.1 0 1 0 3 0a1.5 1.1 0 1 0 -3 0M919.6 880.1a1.5 1.1 0 1 0 3 0a1.5 1.1 0 1 0 -3 0M919.9 880.6a1.5 1.1 0 1 0 3 0a1.5 1.1 0 1 0 -3 0M920.2 881a1.5 1.1 0 1 0 3 0a1.5 1.1 0 1 0 -3 0M920.4 879.4a1.5 1.1 0 1 0 3 0a1.5 1.1 0 1 0 -3 0M920.7 880.6a1.5 1.1 0 1 0 3 0a1.5 1.1 0 1 0 -3 0M921 879.9a1.5 1.1 0 1 0 3 0a1.5 1.1 0 1 0 -3 0M921.3 880.9a1.5 1.1 0 1 0 3 0a1.5 1.1 0 1 0 -3 0M921.6 881.5a1.5 1.1 0 1 0 3 0a1.5 1.1 0 1 0 -3 0M921.9 880.6a1.5 1.1 0 1 0 3 0a1.5 1.1 0 1 0 -3 0M922.1 880.5a1.5 1.1 0 1 0 3 0a1.5 1.1 0 1 0 -3 0M922.4 880.7a1.5 1.1 0 1 0 3 0a1.5 1.1 0 1 0 -3 0M922.7 878.5a1.5 1.1 0 1 0 3 0a1.5 1.1 0 1 0 -3 0M923 881.2a1.5 1.1 0 1 0 3 0a1.5 1.1 0 1 0 -3 0M923.3 881.1a1.5 1.1 0 1 0 3 0a1.5 1.1 0 1 0 -3 0M923.6 880.8a1.5 1.1 0 1 0 3 0a1.5 1.1 0 1 0 -3 0M923.8 880.4a1.5 1.1 0 1 0 3 0a1.5 1.1 0 1 0 -3 0M924.1 880.2a1.5 1.1 0 1 0 3 0a1.5 1.1 0 1 0 -3 0M924.4 880.6a1.5 1.1 0 1 0 3 0a1.5 1.1 0 1 0 -3 0M924.7 881.7a1.5 1.1 0 1 0 3 0a1.5 1.1 0 1 0 -3 0M925 880.7a1.5 1.1 0 1 0 3 0a1.5 1.1 0 1 0 -3 0M925.3 881.8a1.5 1.1 0 1 0 3 0a1.5 1.1 0 1 0 -3 0M925.5 879a1.5 1.1 0 1 0 3 0a1.5 1.1 0 1 0 -3 0M925.8 880.5a1.5 1.1 0 1 0 3 0a1.5 1.1 0 1 0 -3 0M926.1 881.1a1.5 1.1 0 1 0 3 0a1.5 1.1 0 1 0 -3 0M926.4 880.9a1.5 1.1 0 1 0 3 0a1.5 1.1 0 1 0 -3 0M926.7 879.7a1.5 1.1 0 1 0 3 0a1.5 1.1 0 1 0 -3 0M927 880.5a1.5 1.1 0 1 0 3 0a1.5 1.1 0 1 0 -3 0M927.2 881.9a1.5 1.1 0 1 0 3 0a1.5 1.1 0 1 0 -3 0M927.5 880.1a1.5 1.1 0 1 0 3 0a1.5 1.1 0 1 0 -3 0M927.8 880.3a1.5 1.1 0 1 0 3 0a1.5 1.1 0 1 0 -3 0M928.1 880.2a1.5 1.1 0 1 0 3 0a1.5 1.1 0 1 0 -3 0M928.4 880.7a1.5 1.1 0 1 0 3 0a1.5 1.1 0 1 0 -3 0M928.7 881.6a1.5 1.1 0 1 0 3 0a1.5 1.1 0 1 0 -3 0M929 881.5a1.5 1.1 0 1 0 3 0a1.5 1.1 0 1 0 -3 0M929.2 879.7a1.5 1.1 0 1 0 3 0a1.5 1.1 0 1 0 -3 0M929.5 882.2a1.5 1.1 0 1 0 3 0a1.5 1.1 0 1 0 -3 0M929.8 880.8a1.5 1.1 0 1 0 3 0a1.5 1.1 0 1 0 -3 0M930.1 880.8a1.5 1.1 0 1 0 3 0a1.5 1.1 0 1 0 -3 0M930.4 882.4a1.5 1.1 0 1 0 3 0a1.5 1.1 0 1 0 -3 0M930.7 881.2a1.5 1.1 0 1 0 3 0a1.5 1.1 0 1 0 -3 0M930.9 880.4a1.5 1.1 0 1 0 3 0a1.5 1.1 0 1 0 -3 0M931.2 880.8a1.5 1.1 0 1 0 3 0a1.5 1.1 0 1 0 -3 0M931.5 880.8a1.5 1.1 0 1 0 3 0a1.5 1.1 0 1 0 -3 0M931.8 880.6a1.5 1.1 0 1 0 3 0a1.5 1.1 0 1 0 -3 0M932.1 881.1a1.5 1.1 0 1 0 3 0a1.5 1.1 0 1 0 -3 0M932.4 882a1.5 1.1 0 1 0 3 0a1.5 1.1 0 1 0 -3 0M932.6 881.7a1.5 1.1 0 1 0 3 0a1.5 1.1 0 1 0 -3 0M932.9 880.4a1.5 1.1 0 1 0 3 0a1.5 1.1 0 1 0 -3 0M933.2 883.5a1.5 1.1 0 1 0 3 0a1.5 1.1 0 1 0 -3 0M933.5 880.8a1.5 1.1 0 1 0 3 0a1.5 1.1 0 1 0 -3 0M933.8 881.6a1.5 1.1 0 1 0 3 0a1.5 1.1 0 1 0 -3 0M934.1 881.5a1.5 1.1 0 1 0 3 0a1.5 1.1 0 1 0 -3 0M934.3 882.1a1.5 1.1 0 1 0 3 0a1.5 1.1 0 1 0 -3 0M934.6 881.3a1.5 1.1 0 1 0 3 0a1.5 1.1 0 1 0 -3 0M934.9 881.9a1.5 1.1 0 1 0 3 0a1.5 1.1 0 1 0 -3 0M935.2 883.1a1.5 1.1 0 1 0 3 0a1.5 1.1 0 1 0 -3 0M935.5 881.7a1.5 1.1 0 1 0 3 0a1.5 1.1 0 1 0 -3 0M935.8 880.9a1.5 1.1 0 1 0 3 0a1.5 1.1 0 1 0 -3 0M936 881.9a1.5 1.1 0 1 0 3 0a1.5 1.1 0 1 0 -3 0M936.3 881.1a1.5 1.1 0 1 0 3 0a1.5 1.1 0 1 0 -3 0M936.6 881.5a1.5 1.1 0 1 0 3 0a1.5 1.1 0 1 0 -3 0M936.9 881.9a1.5 1.1 0 1 0 3 0a1.5 1.1 0 1 0 -3 0M937.2 882a1.5 1.1 0 1 0 3 0a1.5 1.1 0 1 0 -3 0M937.5 881.6a1.5 1.1 0 1 0 3 0a1.5 1.1 0 1 0 -3 0M937.7 882.4a1.5 1.1 0 1 0 3 0a1.5 1.1 0 1 0 -3 0M938 881.7a1.5 1.1 0 1 0 3 0a1.5 1.1 0 1 0 -3 0M938.3 880.9a1.5 1.1 0 1 0 3 0a1.5 1.1 0 1 0 -3 0M938.6 882.5a1.5 1.1 0 1 0 3 0a1.5 1.1 0 1 0 -3 0M938.9 881.6a1.5 1.1 0 1 0 3 0a1.5 1.1 0 1 0 -3 0M939.2 882.8a1.5 1.1 0 1 0 3 0a1.5 1.1 0 1 0 -3 0M939.5 881.5a1.5 1.1 0 1 0 3 0a1.5 1.1 0 1 0 -3 0M939.7 882.4a1.5 1.1 0 1 0 3 0a1.5 1.1 0 1 0 -3 0M940 882.2a1.5 1.1 0 1 0 3 0a1.5 1.1 0 1 0 -3 0M940.3 880.1a1.5 1.1 0 1 0 3 0a1.5 1.1 0 1 0 -3 0M940.6 881a1.5 1.1 0 1 0 3 0a1.5 1.1 0 1 0 -3 0M940.9 881.3a1.5 1.1 0 1 0 3 0a1.5 1.1 0 1 0 -3 0M941.2 883.1a1.5 1.1 0 1 0 3 0a1.5 1.1 0 1 0 -3 0M941.4 880.7a1.5 1.1 0 1 0 3 0a1.5 1.1 0 1 0 -3 0M941.7 882.8a1.5 1.1 0 1 0 3 0a1.5 1.1 0 1 0 -3 0M942 882.9a1.5 1.1 0 1 0 3 0a1.5 1.1 0 1 0 -3 0M942.3 882.5a1.5 1.1 0 1 0 3 0a1.5 1.1 0 1 0 -3 0M942.6 882.7a1.5 1.1 0 1 0 3 0a1.5 1.1 0 1 0 -3 0M942.9 881.8a1.5 1.1 0 1 0 3 0a1.5 1.1 0 1 0 -3 0M943.1 882.2a1.5 1.1 0 1 0 3 0a1.5 1.1 0 1 0 -3 0M943.4 882.4a1.5 1.1 0 1 0 3 0a1.5 1.1 0 1 0 -3 0M943.7 882.6a1.5 1.1 0 1 0 3 0a1.5 1.1 0 1 0 -3 0M944 882.8a1.5 1.1 0 1 0 3 0a1.5 1.1 0 1 0 -3 0M944.3 882.1a1.5 1.1 0 1 0 3 0a1.5 1.1 0 1 0 -3 0M944.6 881.8a1.5 1.1 0 1 0 3 0a1.5 1.1 0 1 0 -3 0M944.8 881.9a1.5 1.1 0 1 0 3 0a1.5 1.1 0 1 0 -3 0M945.1 882.7a1.5 1.1 0 1 0 3 0a1.5 1.1 0 1 0 -3 0M945.4 881.2a1.5 1.1 0 1 0 3 0a1.5 1.1 0 1 0 -3 0M945.7 881.5a1.5 1.1 0 1 0 3 0a1.5 1.1 0 1 0 -3 0M946 882.1a1.5 1.1 0 1 0 3 0a1.5 1.1 0 1 0 -3 0M946.3 882a1.5 1.1 0 1 0 3 0a1.5 1.1 0 1 0 -3 0M946.5 882.3a1.5 1.1 0 1 0 3 0a1.5 1.1 0 1 0 -3 0M946.8 880.5a1.5 1.1 0 1 0 3 0a1.5 1.1 0 1 0 -3 0M947.1 882.2a1.5 1.1 0 1 0 3 0a1.5 1.1 0 1 0 -3 0M947.4 882.3a1.5 1.1 0 1 0 3 0a1.5 1.1 0 1 0 -3 0M947.7 883.1a1.5 1.1 0 1 0 3 0a1.5 1.1 0 1 0 -3 0M948 881.1a1.5 1.1 0 1 0 3 0a1.5 1.1 0 1 0 -3 0M948.2 882.3a1.5 1.1 0 1 0 3 0a1.5 1.1 0 1 0 -3 0M948.5 882.9a1.5 1.1 0 1 0 3 0a1.5 1.1 0 1 0 -3 0M948.8 883a1.5 1.1 0 1 0 3 0a1.5 1.1 0 1 0 -3 0M949.1 883.5a1.5 1.1 0 1 0 3 0a1.5 1.1 0 1 0 -3 0M949.4 883.4a1.5 1.1 0 1 0 3 0a1.5 1.1 0 1 0 -3 0M949.7 881.9a1.5 1.1 0 1 0 3 0a1.5 1.1 0 1 0 -3 0M950 883.1a1.5 1.1 0 1 0 3 0a1.5 1.1 0 1 0 -3 0M950.2 882.5a1.5 1.1 0 1 0 3 0a1.5 1.1 0 1 0 -3 0M950.5 882.1a1.5 1.1 0 1 0 3 0a1.5 1.1 0 1 0 -3 0M950.8 883.8a1.5 1.1 0 1 0 3 0a1.5 1.1 0 1 0 -3 0M951.1 882.3a1.5 1.1 0 1 0 3 0a1.5 1.1 0 1 0 -3 0M951.4 882.1a1.5 1.1 0 1 0 3 0a1.5 1.1 0 1 0 -3 0M951.7 882.5a1.5 1.1 0 1 0 3 0a1.5 1.1 0 1 0 -3 0M951.9 882.2a1.5 1.1 0 1 0 3 0a1.5 1.1 0 1 0 -3 0M952.2 883.6a1.5 1.1 0 1 0 3 0a1.5 1.1 0 1 0 -3 0M952.5 883.1a1.5 1.1 0 1 0 3 0a1.5 1.1 0 1 0 -3 0M952.8 883.9a1.5 1.1 0 1 0 3 0a1.5 1.1 0 1 0 -3 0M953.1 883.2a1.5 1.1 0 1 0 3 0a1.5 1.1 0 1 0 -3 0M953.4 882.5a1.5 1.1 0 1 0 3 0a1.5 1.1 0 1 0 -3 0M953.6 883.7a1.5 1.1 0 1 0 3 0a1.5 1.1 0 1 0 -3 0M953.9 882.5a1.5 1.1 0 1 0 3 0a1.5 1.1 0 1 0 -3 0M954.2 882.6a1.5 1.1 0 1 0 3 0a1.5 1.1 0 1 0 -3 0M954.5 882.9a1.5 1.1 0 1 0 3 0a1.5 1.1 0 1 0 -3 0M954.8 883a1.5 1.1 0 1 0 3 0a1.5 1.1 0 1 0 -3 0M955.1 883.9a1.5 1.1 0 1 0 3 0a1.5 1.1 0 1 0 -3 0M955.3 882.6a1.5 1.1 0 1 0 3 0a1.5 1.1 0 1 0 -3 0M955.6 883.3a1.5 1.1 0 1 0 3 0a1.5 1.1 0 1 0 -3 0M955.9 883.1a1.5 1.1 0 1 0 3 0a1.5 1.1 0 1 0 -3 0M956.2 882.2a1.5 1.1 0 1 0 3 0a1.5 1.1 0 1 0 -3 0M956.5 882.3a1.5 1.1 0 1 0 3 0a1.5 1.1 0 1 0 -3 0M956.8 883a1.5 1.1 0 1 0 3 0a1.5 1.1 0 1 0 -3 0M957 883.4a1.5 1.1 0 1 0 3 0a1.5 1.1 0 1 0 -3 0M957.3 883.4a1.5 1.1 0 1 0 3 0a1.5 1.1 0 1 0 -3 0M957.6 883.5a1.5 1.1 0 1 0 3 0a1.5 1.1 0 1 0 -3 0M957.9 883.2a1.5 1.1 0 1 0 3 0a1.5 1.1 0 1 0 -3 0M958.2 882.9a1.5 1.1 0 1 0 3 0a1.5 1.1 0 1 0 -3 0M706.2 848a1.5 1.1 0 1 0 3 0a1.5 1.1 0 1 0 -3 0M698.7 888a1.5 1.1 0 1 0 3 0a1.5 1.1 0 1 0 -3 0M697.6 877a1.5 1.1 0 1 0 3 0a1.5 1.1 0 1 0 -3 0M690.3 866.3a1.5 1.1 0 1 0 3 0a1.5 1.1 0 1 0 -3 0M703.8 859.6a1.5 1.1 0 1 0 3 0a1.5 1.1 0 1 0 -3 0M704.5 878.4a1.5 1.1 0 1 0 3 0a1.5 1.1 0 1 0 -3 0M704.9 853.4a1.5 1.1 0 1 0 3 0a1.5 1.1 0 1 0 -3 0M711.5 878.7a1.5 1.1 0 1 0 3 0a1.5 1.1 0 1 0 -3 0M694.3 878.5a1.5 1.1 0 1 0 3 0a1.5 1.1 0 1 0 -3 0M710.3 874.1a1.5 1.1 0 1 0 3 0a1.5 1.1 0 1 0 -3 0M683.7 877.4a1.5 1.1 0 1 0 3 0a1.5 1.1 0 1 0 -3 0M700.9 883.8a1.5 1.1 0 1 0 3 0a1.5 1.1 0 1 0 -3 0M704.9 838.3a1.5 1.1 0 1 0 3 0a1.5 1.1 0 1 0 -3 0M686.9 895.6a1.5 1.1 0 1 0 3 0a1.5 1.1 0 1 0 -3 0M680.3 856.7a1.5 1.1 0 1 0 3 0a1.5 1.1 0 1 0 -3 0M683.8 876.9a1.5 1.1 0 1 0 3 0a1.5 1.1 0 1 0 -3 0M697.6 886.9a1.5 1.1 0 1 0 3 0a1.5 1.1 0 1 0 -3 0M685.4 874.2a1.5 1.1 0 1 0 3 0a1.5 1.1 0 1 0 -3 0M684.3 857.7a1.5 1.1 0 1 0 3 0a1.5 1.1 0 1 0 -3 0M685.2 860.1a1.5 1.1 0 1 0 3 0a1.5 1.1 0 1 0 -3 0M684.7 832.6a1.5 1.1 0 1 0 3 0a1.5 1.1 0 1 0 -3 0M680.3 864.2a1.5 1.1 0 1 0 3 0a1.5 1.1 0 1 0 -3 0M711.7 852.2a1.5 1.1 0 1 0 3 0a1.5 1.1 0 1 0 -3 0M695.8 878.2a1.5 1.1 0 1 0 3 0a1.5 1.1 0 1 0 -3 0M705.7 852.7a1.5 1.1 0 1 0 3 0a1.5 1.1 0 1 0 -3 0M694.5 868.5a1.5 1.1 0 1 0 3 0a1.5 1.1 0 1 0 -3 0M682.9 888a1.5 1.1 0 1 0 3 0a1.5 1.1 0 1 0 -3 0M703.5 875.5a1.5 1.1 0 1 0 3 0a1.5 1.1 0 1 0 -3 0M692.6 889a1.5 1.1 0 1 0 3 0a1.5 1.1 0 1 0 -3 0M707.8 874.1a1.5 1.1 0 1 0 3 0a1.5 1.1 0 1 0 -3 0M692.9 887.6a1.5 1.1 0 1 0 3 0a1.5 1.1 0 1 0 -3 0M709.6 875.5a1.5 1.1 0 1 0 3 0a1.5 1.1 0 1 0 -3 0M686.7 875a1.5 1.1 0 1 0 3 0a1.5 1.1 0 1 0 -3 0M687.7 880.2a1.5 1.1 0 1 0 3 0a1.5 1.1 0 1 0 -3 0M687 895.4a1.5 1.1 0 1 0 3 0a1.5 1.1 0 1 0 -3 0M686.1 882.4a1.5 1.1 0 1 0 3 0a1.5 1.1 0 1 0 -3 0M689.2 862.4a1.5 1.1 0 1 0 3 0a1.5 1.1 0 1 0 -3 0M712.1 863.6a1.5 1.1 0 1 0 3 0a1.5 1.1 0 1 0 -3 0M684.5 879.2a1.5 1.1 0 1 0 3 0a1.5 1.1 0 1 0 -3 0M707.8 866.6a1.5 1.1 0 1 0 3 0a1.5 1.1 0 1 0 -3 0M704.1 854a1.5 1.1 0 1 0 3 0a1.5 1.1 0 1 0 -3 0M706.5 858.5a1.5 1.1 0 1 0 3 0a1.5 1.1 0 1 0 -3 0M695.4 890.5a1.5 1.1 0 1 0 3 0a1.5 1.1 0 1 0 -3 0M708.7 869.6a1.5 1.1 0 1 0 3 0a1.5 1.1 0 1 0 -3 0M699 893.9a1.5 1.1 0 1 0 3 0a1.5 1.1 0 1 0 -3 0M694.3 857.2a1.5 1.1 0 1 0 3 0a1.5 1.1 0 1 0 -3 0M686.3 868.2a1.5 1.1 0 1 0 3 0a1.5 1.1 0 1 0 -3 0M708.5 847.9a1.5 1.1 0 1 0 3 0a1.5 1.1 0 1 0 -3 0M707.8 875.7a1.5 1.1 0 1 0 3 0a1.5 1.1 0 1 0 -3 0M685.4 890.6a1.5 1.1 0 1 0 3 0a1.5 1.1 0 1 0 -3 0M689.2 848.9a1.5 1.1 0 1 0 3 0a1.5 1.1 0 1 0 -3 0M680.2 889.8a1.5 1.1 0 1 0 3 0a1.5 1.1 0 1 0 -3 0M679.7 885.5a1.5 1.1 0 1 0 3 0a1.5 1.1 0 1 0 -3 0M709.4 871.3a1.5 1.1 0 1 0 3 0a1.5 1.1 0 1 0 -3 0M682.6 880a1.5 1.1 0 1 0 3 0a1.5 1.1 0 1 0 -3 0M684.9 860.1a1.5 1.1 0 1 0 3 0a1.5 1.1 0 1 0 -3 0M690.5 876.1a1.5 1.1 0 1 0 3 0a1.5 1.1 0 1 0 -3 0M709.6 855.6a1.5 1.1 0 1 0 3 0a1.5 1.1 0 1 0 -3 0M711.6 837.6a1.5 1.1 0 1 0 3 0a1.5 1.1 0 1 0 -3 0M680.5 864.7a1.5 1.1 0 1 0 3 0a1.5 1.1 0 1 0 -3 0M702.1 890.5a1.5 1.1 0 1 0 3 0a1.5 1.1 0 1 0 -3 0M687 885a1.5 1.1 0 1 0 3 0a1.5 1.1 0 1 0 -3 0M693.5 883.4a1.5 1.1 0 1 0 3 0a1.5 1.1 0 1 0 -3 0M712 861.9a1.5 1.1 0 1 0 3 0a1.5 1.1 0 1 0 -3 0M689.8 886.2a1.5 1.1 0 1 0 3 0a1.5 1.1 0 1 0 -3 0M695.4 880.3a1.5 1.1 0 1 0 3 0a1.5 1.1 0 1 0 -3 0M683.8 854.9a1.5 1.1 0 1 0 3 0a1.5 1.1 0 1 0 -3 0M701.9 885.5a1.5 1.1 0 1 0 3 0a1.5 1.1 0 1 0 -3 0M684.2 861.3a1.5 1.1 0 1 0 3 0a1.5 1.1 0 1 0 -3 0M683.1 846.9a1.5 1.1 0 1 0 3 0a1.5 1.1 0 1 0 -3 0M691 851.7a1.5 1.1 0 1 0 3 0a1.5 1.1 0 1 0 -3 0M690.9 882a1.5 1.1 0 1 0 3 0a1.5 1.1 0 1 0 -3 0M686.4 893.8a1.5 1.1 0 1 0 3 0a1.5 1.1 0 1 0 -3 0M703.4 859.5a1.5 1.1 0 1 0 3 0a1.5 1.1 0 1 0 -3 0M688.1 889.5a1.5 1.1 0 1 0 3 0a1.5 1.1 0 1 0 -3 0M681.6 877.6a1.5 1.1 0 1 0 3 0a1.5 1.1 0 1 0 -3 0M692.8 885.6a1.5 1.1 0 1 0 3 0a1.5 1.1 0 1 0 -3 0M697.7 882.4a1.5 1.1 0 1 0 3 0a1.5 1.1 0 1 0 -3 0M702 884.2a1.5 1.1 0 1 0 3 0a1.5 1.1 0 1 0 -3 0M700.9 873.1a1.5 1.1 0 1 0 3 0a1.5 1.1 0 1 0 -3 0M702.1 880.4a1.5 1.1 0 1 0 3 0a1.5 1.1 0 1 0 -3 0M711.7 873.2a1.5 1.1 0 1 0 3 0a1.5 1.1 0 1 0 -3 0M692.5 866.4a1.5 1.1 0 1 0 3 0a1.5 1.1 0 1 0 -3 0M689.8 850.2a1.5 1.1 0 1 0 3 0a1.5 1.1 0 1 0 -3 0M692.1 892.2a1.5 1.1 0 1 0 3 0a1.5 1.1 0 1 0 -3 0M684.1 871.4a1.5 1.1 0 1 0 3 0a1.5 1.1 0 1 0 -3 0M712.2 876a1.5 1.1 0 1 0 3 0a1.5 1.1 0 1 0 -3 0M709.9 861a1.5 1.1 0 1 0 3 0a1.5 1.1 0 1 0 -3 0M687.8 871.5a1.5 1.1 0 1 0 3 0a1.5 1.1 0 1 0 -3 0M687.3 873.1a1.5 1.1 0 1 0 3 0a1.5 1.1 0 1 0 -3 0M685.9 889.9a1.5 1.1 0 1 0 3 0a1.5 1.1 0 1 0 -3 0M705.2 863.6a1.5 1.1 0 1 0 3 0a1.5 1.1 0 1 0 -3 0M702.2 881.8a1.5 1.1 0 1 0 3 0a1.5 1.1 0 1 0 -3 0M690 871.2a1.5 1.1 0 1 0 3 0a1.5 1.1 0 1 0 -3 0M689.8 868.1a1.5 1.1 0 1 0 3 0a1.5 1.1 0 1 0 -3 0M711.4 879.3a1.5 1.1 0 1 0 3 0a1.5 1.1 0 1 0 -3 0M707.5 860.6a1.5 1.1 0 1 0 3 0a1.5 1.1 0 1 0 -3 0M696.2 860.7a1.5 1.1 0 1 0 3 0a1.5 1.1 0 1 0 -3 0M687.1 857.8a1.5 1.1 0 1 0 3 0a1.5 1.1 0 1 0 -3 0M700.1 882.9a1.5 1.1 0 1 0 3 0a1.5 1.1 0 1 0 -3 0M702.8 875.1a1.5 1.1 0 1 0 3 0a1.5 1.1 0 1 0 -3 0M692.3 863.3a1.5 1.1 0 1 0 3 0a1.5 1.1 0 1 0 -3 0M701.7 881.3a1.5 1.1 0 1 0 3 0a1.5 1.1 0 1 0 -3 0M690 869.9a1.5 1.1 0 1 0 3 0a1.5 1.1 0 1 0 -3 0M686.7 869.3a1.5 1.1 0 1 0 3 0a1.5 1.1 0 1 0 -3 0M699.5 881.5a1.5 1.1 0 1 0 3 0a1.5 1.1 0 1 0 -3 0M694.9 894.7a1.5 1.1 0 1 0 3 0a1.5 1.1 0 1 0 -3 0M695.1 865.5a1.5 1.1 0 1 0 3 0a1.5 1.1 0 1 0 -3 0M686.6 887.6a1.5 1.1 0 1 0 3 0a1.5 1.1 0 1 0 -3 0M696.8 873.2a1.5 1.1 0 1 0 3 0a1.5 1.1 0 1 0 -3 0M706.1 858.4a1.5 1.1 0 1 0 3 0a1.5 1.1 0 1 0 -3 0M687.2 892.9a1.5 1.1 0 1 0 3 0a1.5 1.1 0 1 0 -3 0M694.5 890.3a1.5 1.1 0 1 0 3 0a1.5 1.1 0 1 0 -3 0M708.8 844.1a1.5 1.1 0 1 0 3 0a1.5 1.1 0 1 0 -3 0M707.9 871.2a1.5 1.1 0 1 0 3 0a1.5 1.1 0 1 0 -3 0M706.8 863.5a1.5 1.1 0 1 0 3 0a1.5 1.1 0 1 0 -3 0M706.3 865.2a1.5 1.1 0 1 0 3 0a1.5 1.1 0 1 0 -3 0M687.6 886.7a1.5 1.1 0 1 0 3 0a1.5 1.1 0 1 0 -3 0M682.8 847.6a1.5 1.1 0 1 0 3 0a1.5 1.1 0 1 0 -3 0M696.5 895a1.5 1.1 0 1 0 3 0a1.5 1.1 0 1 0 -3 0M694.3 892.6a1.5 1.1 0 1 0 3 0a1.5 1.1 0 1 0 -3 0M712.2 866.5a1.5 1.1 0 1 0 3 0a1.5 1.1 0 1 0 -3 0M702.2 874.2a1.5 1.1 0 1 0 3 0a1.5 1.1 0 1 0 -3 0M705.6 864.6a1.5 1.1 0 1 0 3 0a1.5 1.1 0 1 0 -3 0M704.3 870.6a1.5 1.1 0 1 0 3 0a1.5 1.1 0 1 0 -3 0M691.4 892.4a1.5 1.1 0 1 0 3 0a1.5 1.1 0 1 0 -3 0M691.6 880.1a1.5 1.1 0 1 0 3 0a1.5 1.1 0 1 0 -3 0M690.6 879.5a1.5 1.1 0 1 0 3 0a1.5 1.1 0 1 0 -3 0M686 883a1.5 1.1 0 1 0 3 0a1.5 1.1 0 1 0 -3 0M698.1 888.1a1.5 1.1 0 1 0 3 0a1.5 1.1 0 1 0 -3 0M703 863.1a1.5 1.1 0 1 0 3 0a1.5 1.1 0 1 0 -3 0M688.4 876.9a1.5 1.1 0 1 0 3 0a1.5 1.1 0 1 0 -3 0M706.8 868.1a1.5 1.1 0 1 0 3 0a1.5 1.1 0 1 0 -3 0M682.4 845.2a1.5 1.1 0 1 0 3 0a1.5 1.1 0 1 0 -3 0M686 861.6a1.5 1.1 0 1 0 3 0a1.5 1.1 0 1 0 -3 0M693.3 886.2a1.5 1.1 0 1 0 3 0a1.5 1.1 0 1 0 -3 0M691.6 863.6a1.5 1.1 0 1 0 3 0a1.5 1.1 0 1 0 -3 0M680.8 850.6a1.5 1.1 0 1 0 3 0a1.5 1.1 0 1 0 -3 0M702.8 886a1.5 1.1 0 1 0 3 0a1.5 1.1 0 1 0 -3 0M689.1 865.3a1.5 1.1 0 1 0 3 0a1.5 1.1 0 1 0 -3 0M706.1 869.5a1.5 1.1 0 1 0 3 0a1.5 1.1 0 1 0 -3 0M691 868.2a1.5 1.1 0 1 0 3 0a1.5 1.1 0 1 0 -3 0M709.8 870.4a1.5 1.1 0 1 0 3 0a1.5 1.1 0 1 0 -3 0M685.7 883a1.5 1.1 0 1 0 3 0a1.5 1.1 0 1 0 -3 0M691.6 877.6a1.5 1.1 0 1 0 3 0a1.5 1.1 0 1 0 -3 0M701.3 881.7a1.5 1.1 0 1 0 3 0a1.5 1.1 0 1 0 -3 0M704.3 864.3a1.5 1.1 0 1 0 3 0a1.5 1.1 0 1 0 -3 0M691.9 866a1.5 1.1 0 1 0 3 0a1.5 1.1 0 1 0 -3 0M709 858.4a1.5 1.1 0 1 0 3 0a1.5 1.1 0 1 0 -3 0M704.3 875.5a1.5 1.1 0 1 0 3 0a1.5 1.1 0 1 0 -3 0M682 805.7a1.5 1.1 0 1 0 3 0a1.5 1.1 0 1 0 -3 0M682.8 821.6a1.5 1.1 0 1 0 3 0a1.5 1.1 0 1 0 -3 0M681.3 828.4a1.5 1.1 0 1 0 3 0a1.5 1.1 0 1 0 -3 0M703.6 707.3a1.5 1.1 0 1 0 3 0a1.5 1.1 0 1 0 -3 0M702.8 727.3a1.5 1.1 0 1 0 3 0a1.5 1.1 0 1 0 -3 0M702.8 736.8a1.5 1.1 0 1 0 3 0a1.5 1.1 0 1 0 -3 0M704.7 745.1a1.5 1.1 0 1 0 3 0a1.5 1.1 0 1 0 -3 0M702.8 777.3a1.5 1.1 0 1 0 3 0a1.5 1.1 0 1 0 -3 0M712.3 778a1.5 1.1 0 1 0 3 0a1.5 1.1 0 1 0 -3 0M711.5 784.9a1.5 1.1 0 1 0 3 0a1.5 1.1 0 1 0 -3 0M706.6 809.4a1.5 1.1 0 1 0 3 0a1.5 1.1 0 1 0 -3 0M711.5 818.9a1.5 1.1 0 1 0 3 0a1.5 1.1 0 1 0 -3 0M710.4 821.6a1.5 1.1 0 1 0 3 0a1.5 1.1 0 1 0 -3 0M704.7 835.2a1.5 1.1 0 1 0 3 0a1.5 1.1 0 1 0 -3 0M708.5 837.8a1.5 1.1 0 1 0 3 0a1.5 1.1 0 1 0 -3 0M710.4 839.7a1.5 1.1 0 1 0 3 0a1.5 1.1 0 1 0 -3 0M714.2 624.1a1.5 1.1 0 1 0 3 0a1.5 1.1 0 1 0 -3 0M716.1 629.7a1.5 1.1 0 1 0 3 0a1.5 1.1 0 1 0 -3 0M718 612.7a1.5 1.1 0 1 0 3 0a1.5 1.1 0 1 0 -3 0M719.9 608.9a1.5 1.1 0 1 0 3 0a1.5 1.1 0 1 0 -3 0M721.7 616.5a1.5 1.1 0 1 0 3 0a1.5 1.1 0 1 0 -3 0M723.6 622.2a1.5 1.1 0 1 0 3 0a1.5 1.1 0 1 0 -3 0M725.5 627.8a1.5 1.1 0 1 0 3 0a1.5 1.1 0 1 0 -3 0M727.4 618.4a1.5 1.1 0 1 0 3 0a1.5 1.1 0 1 0 -3 0M726.3 610.8a1.5 1.1 0 1 0 3 0a1.5 1.1 0 1 0 -3 0M714.2 644.9a1.5 1.1 0 1 0 3 0a1.5 1.1 0 1 0 -3 0M716.1 648.6a1.5 1.1 0 1 0 3 0a1.5 1.1 0 1 0 -3 0M719.9 648.6a1.5 1.1 0 1 0 3 0a1.5 1.1 0 1 0 -3 0M721 654.3a1.5 1.1 0 1 0 3 0a1.5 1.1 0 1 0 -3 0M722.5 650.5a1.5 1.1 0 1 0 3 0a1.5 1.1 0 1 0 -3 0M718.7 656.2a1.5 1.1 0 1 0 3 0a1.5 1.1 0 1 0 -3 0M723.6 666.4a1.5 1.1 0 1 0 3 0a1.5 1.1 0 1 0 -3 0M713 680.8a1.5 1.1 0 1 0 3 0a1.5 1.1 0 1 0 -3 0M715.3 680.8a1.5 1.1 0 1 0 3 0a1.5 1.1 0 1 0 -3 0M723.6 677.8a1.5 1.1 0 1 0 3 0a1.5 1.1 0 1 0 -3 0M728.2 687.2a1.5 1.1 0 1 0 3 0a1.5 1.1 0 1 0 -3 0M713.4 723.2a1.5 1.1 0 1 0 3 0a1.5 1.1 0 1 0 -3 0M712.7 760.3a1.5 1.1 0 1 0 3 0a1.5 1.1 0 1 0 -3 0M728.2 768.6a1.5 1.1 0 1 0 3 0a1.5 1.1 0 1 0 -3 0M716.8 618.4a1.5 1.1 0 1 0 3 0a1.5 1.1 0 1 0 -3 0M719.1 625.9a1.5 1.1 0 1 0 3 0a1.5 1.1 0 1 0 -3 0M721.4 612.7a1.5 1.1 0 1 0 3 0a1.5 1.1 0 1 0 -3 0M724 614.6a1.5 1.1 0 1 0 3 0a1.5 1.1 0 1 0 -3 0M726.7 624.1a1.5 1.1 0 1 0 3 0a1.5 1.1 0 1 0 -3 0M724.8 631.6a1.5 1.1 0 1 0 3 0a1.5 1.1 0 1 0 -3 0M720.2 635.4a1.5 1.1 0 1 0 3 0a1.5 1.1 0 1 0 -3 0M717.6 639.2a1.5 1.1 0 1 0 3 0a1.5 1.1 0 1 0 -3 0M715.3 627.1a1.5 1.1 0 1 0 3 0a1.5 1.1 0 1 0 -3 0M722.5 608.2a1.5 1.1 0 1 0 3 0a1.5 1.1 0 1 0 -3 0M780.4 625.9a1.5 1.1 0 1 0 3 0a1.5 1.1 0 1 0 -3 0M781.5 629a1.5 1.1 0 1 0 3 0a1.5 1.1 0 1 0 -3 0M780.8 717.9a1.5 1.1 0 1 0 3 0a1.5 1.1 0 1 0 -3 0M784.2 730.7a1.5 1.1 0 1 0 3 0a1.5 1.1 0 1 0 -3 0M772.8 774.3a1.5 1.1 0 1 0 3 0a1.5 1.1 0 1 0 -3 0M767.1 777.3a1.5 1.1 0 1 0 3 0a1.5 1.1 0 1 0 -3 0M769 783a1.5 1.1 0 1 0 3 0a1.5 1.1 0 1 0 -3 0M780.4 793.6a1.5 1.1 0 1 0 3 0a1.5 1.1 0 1 0 -3 0M774.7 803.8a1.5 1.1 0 1 0 3 0a1.5 1.1 0 1 0 -3 0M770.9 837.8a1.5 1.1 0 1 0 3 0a1.5 1.1 0 1 0 -3 0M775.5 860.5a1.5 1.1 0 1 0 3 0a1.5 1.1 0 1 0 -3 0M784.2 851.1a1.5 1.1 0 1 0 3 0a1.5 1.1 0 1 0 -3 0M763.4 835.9a1.5 1.1 0 1 0 3 0a1.5 1.1 0 1 0 -3 0M752 836.7a1.5 1.1 0 1 0 3 0a1.5 1.1 0 1 0 -3 0M760.3 839a1.5 1.1 0 1 0 3 0a1.5 1.1 0 1 0 -3 0M783 844.3a1.5 1.1 0 1 0 3 0a1.5 1.1 0 1 0 -3 0M789.1 832.1a1.5 1.1 0 1 0 3 0a1.5 1.1 0 1 0 -3 0M803.8 785.6a1.5 1.1 0 1 0 3 0a1.5 1.1 0 1 0 -3 0M805 798.1a1.5 1.1 0 1 0 3 0a1.5 1.1 0 1 0 -3 0M808 800a1.5 1.1 0 1 0 3 0a1.5 1.1 0 1 0 -3 0M806.9 818.9a1.5 1.1 0 1 0 3 0a1.5 1.1 0 1 0 -3 0M810.7 824.6a1.5 1.1 0 1 0 3 0a1.5 1.1 0 1 0 -3 0M805 826.5a1.5 1.1 0 1 0 3 0a1.5 1.1 0 1 0 -3 0M799.3 828.4a1.5 1.1 0 1 0 3 0a1.5 1.1 0 1 0 -3 0M792.5 830.3a1.5 1.1 0 1 0 3 0a1.5 1.1 0 1 0 -3 0M808.8 832.1a1.5 1.1 0 1 0 3 0a1.5 1.1 0 1 0 -3 0M805 854.9a1.5 1.1 0 1 0 3 0a1.5 1.1 0 1 0 -3 0M810.7 858.6a1.5 1.1 0 1 0 3 0a1.5 1.1 0 1 0 -3 0M808 860.5a1.5 1.1 0 1 0 3 0a1.5 1.1 0 1 0 -3 0M801.2 837.8a1.5 1.1 0 1 0 3 0a1.5 1.1 0 1 0 -3 0M813.3 847.3a1.5 1.1 0 1 0 3 0a1.5 1.1 0 1 0 -3 0M825.8 756.5a1.5 1.1 0 1 0 3 0a1.5 1.1 0 1 0 -3 0M826.5 764a1.5 1.1 0 1 0 3 0a1.5 1.1 0 1 0 -3 0M823.9 781.1a1.5 1.1 0 1 0 3 0a1.5 1.1 0 1 0 -3 0M825.8 788.6a1.5 1.1 0 1 0 3 0a1.5 1.1 0 1 0 -3 0M826.5 801.1a1.5 1.1 0 1 0 3 0a1.5 1.1 0 1 0 -3 0M826.9 815.9a1.5 1.1 0 1 0 3 0a1.5 1.1 0 1 0 -3 0M823.9 829.1a1.5 1.1 0 1 0 3 0a1.5 1.1 0 1 0 -3 0M824.7 839.7a1.5 1.1 0 1 0 3 0a1.5 1.1 0 1 0 -3 0M825.8 851.1a1.5 1.1 0 1 0 3 0a1.5 1.1 0 1 0 -3 0M826.5 862.4a1.5 1.1 0 1 0 3 0a1.5 1.1 0 1 0 -3 0M822 853a1.5 1.1 0 1 0 3 0a1.5 1.1 0 1 0 -3 0M936.3 706.2a1.5 1.1 0 1 0 3 0a1.5 1.1 0 1 0 -3 0M947.6 697.1a1.5 1.1 0 1 0 3 0a1.5 1.1 0 1 0 -3 0M949.5 741.3a1.5 1.1 0 1 0 3 0a1.5 1.1 0 1 0 -3 0M950.7 744.4a1.5 1.1 0 1 0 3 0a1.5 1.1 0 1 0 -3 0M950.7 760.3a1.5 1.1 0 1 0 3 0a1.5 1.1 0 1 0 -3 0M931 774.3a1.5 1.1 0 1 0 3 0a1.5 1.1 0 1 0 -3 0M936.3 772.7a1.5 1.1 0 1 0 3 0a1.5 1.1 0 1 0 -3 0M946.1 774.3a1.5 1.1 0 1 0 3 0a1.5 1.1 0 1 0 -3 0M954.4 775.4a1.5 1.1 0 1 0 3 0a1.5 1.1 0 1 0 -3 0M948 789.8a1.5 1.1 0 1 0 3 0a1.5 1.1 0 1 0 -3 0M930.6 796.2a1.5 1.1 0 1 0 3 0a1.5 1.1 0 1 0 -3 0M941.2 803.8a1.5 1.1 0 1 0 3 0a1.5 1.1 0 1 0 -3 0M949.5 809.4a1.5 1.1 0 1 0 3 0a1.5 1.1 0 1 0 -3 0M955.6 813.2a1.5 1.1 0 1 0 3 0a1.5 1.1 0 1 0 -3 0M931 815.1a1.5 1.1 0 1 0 3 0a1.5 1.1 0 1 0 -3 0M939.3 816.3a1.5 1.1 0 1 0 3 0a1.5 1.1 0 1 0 -3 0M941.2 818.9a1.5 1.1 0 1 0 3 0a1.5 1.1 0 1 0 -3 0M954.4 820.8a1.5 1.1 0 1 0 3 0a1.5 1.1 0 1 0 -3 0M946.9 832.1a1.5 1.1 0 1 0 3 0a1.5 1.1 0 1 0 -3 0M949.5 834a1.5 1.1 0 1 0 3 0a1.5 1.1 0 1 0 -3 0M955.2 837.8a1.5 1.1 0 1 0 3 0a1.5 1.1 0 1 0 -3 0M929.1 840.9a1.5 1.1 0 1 0 3 0a1.5 1.1 0 1 0 -3 0M939.3 846.5a1.5 1.1 0 1 0 3 0a1.5 1.1 0 1 0 -3 0M935.5 849.2a1.5 1.1 0 1 0 3 0a1.5 1.1 0 1 0 -3 0M948.8 845.4a1.5 1.1 0 1 0 3 0a1.5 1.1 0 1 0 -3 0M955.6 854.9a1.5 1.1 0 1 0 3 0a1.5 1.1 0 1 0 -3 0M946.9 858.6a1.5 1.1 0 1 0 3 0a1.5 1.1 0 1 0 -3 0M951 869.9a1.5 1.1 0 1 0 3 0a1.5 1.1 0 1 0 -3 0M955.8 869.6a1.5 1.1 0 1 0 3 0a1.5 1.1 0 1 0 -3 0M929.7 875.7a1.5 1.1 0 1 0 3 0a1.5 1.1 0 1 0 -3 0M937.8 881.5a1.5 1.1 0 1 0 3 0a1.5 1.1 0 1 0 -3 0M949.5 878a1.5 1.1 0 1 0 3 0a1.5 1.1 0 1 0 -3 0M929.5 873.5a1.5 1.1 0 1 0 3 0a1.5 1.1 0 1 0 -3 0M928.2 873.3a1.5 1.1 0 1 0 3 0a1.5 1.1 0 1 0 -3 0M953.5 871.5a1.5 1.1 0 1 0 3 0a1.5 1.1 0 1 0 -3 0M953.6 879.7a1.5 1.1 0 1 0 3 0a1.5 1.1 0 1 0 -3 0M929.8 880.3a1.5 1.1 0 1 0 3 0a1.5 1.1 0 1 0 -3 0M929.9 864.8a1.5 1.1 0 1 0 3 0a1.5 1.1 0 1 0 -3 0M935.1 867.6a1.5 1.1 0 1 0 3 0a1.5 1.1 0 1 0 -3 0M955.5 872.1a1.5 1.1 0 1 0 3 0a1.5 1.1 0 1 0 -3 0M946.3 866.2a1.5 1.1 0 1 0 3 0a1.5 1.1 0 1 0 -3 0M950.7 867.4a1.5 1.1 0 1 0 3 0a1.5 1.1 0 1 0 -3 0M948.1 881.7a1.5 1.1 0 1 0 3 0a1.5 1.1 0 1 0 -3 0M936.6 868.8a1.5 1.1 0 1 0 3 0a1.5 1.1 0 1 0 -3 0M938.6 877.1a1.5 1.1 0 1 0 3 0a1.5 1.1 0 1 0 -3 0M946.5 861.3a1.5 1.1 0 1 0 3 0a1.5 1.1 0 1 0 -3 0M930.9 876.7a1.5 1.1 0 1 0 3 0a1.5 1.1 0 1 0 -3 0M952.5 869.7a1.5 1.1 0 1 0 3 0a1.5 1.1 0 1 0 -3 0M937.6 861.8a1.5 1.1 0 1 0 3 0a1.5 1.1 0 1 0 -3 0M933.7 863.6a1.5 1.1 0 1 0 3 0a1.5 1.1 0 1 0 -3 0M955 864.6a1.5 1.1 0 1 0 3 0a1.5 1.1 0 1 0 -3 0M940.2 871.8a1.5 1.1 0 1 0 3 0a1.5 1.1 0 1 0 -3 0M953.4 878.7a1.5 1.1 0 1 0 3 0a1.5 1.1 0 1 0 -3 0M935 872.2a1.5 1.1 0 1 0 3 0a1.5 1.1 0 1 0 -3 0M934.1 882.1a1.5 1.1 0 1 0 3 0a1.5 1.1 0 1 0 -3 0M953.2 876.6a1.5 1.1 0 1 0 3 0a1.5 1.1 0 1 0 -3 0M933.8 881.5a1.5 1.1 0 1 0 3 0a1.5 1.1 0 1 0 -3 0M947.5 867.2a1.5 1.1 0 1 0 3 0a1.5 1.1 0 1 0 -3 0M952.3 876.6a1.5 1.1 0 1 0 3 0a1.5 1.1 0 1 0 -3 0M949.2 867.9a1.5 1.1 0 1 0 3 0a1.5 1.1 0 1 0 -3 0M939.1 869.4a1.5 1.1 0 1 0 3 0a1.5 1.1 0 1 0 -3 0M950 865.6a1.5 1.1 0 1 0 3 0a1.5 1.1 0 1 0 -3 0M946.8 863.9a1.5 1.1 0 1 0 3 0a1.5 1.1 0 1 0 -3 0M949.5 863.1a1.5 1.1 0 1 0 3 0a1.5 1.1 0 1 0 -3 0M938.9 883.1a1.5 1.1 0 1 0 3 0a1.5 1.1 0 1 0 -3 0M951.7 871.6a1.5 1.1 0 1 0 3 0a1.5 1.1 0 1 0 -3 0M928.2 865.1a1.5 1.1 0 1 0 3 0a1.5 1.1 0 1 0 -3 0M931.7 865.1a1.5 1.1 0 1 0 3 0a1.5 1.1 0 1 0 -3 0M934.2 873.7a1.5 1.1 0 1 0 3 0a1.5 1.1 0 1 0 -3 0M931.9 882.5a1.5 1.1 0 1 0 3 0a1.5 1.1 0 1 0 -3 0M956.5 861.7a1.5 1.1 0 1 0 3 0a1.5 1.1 0 1 0 -3 0M932.4 868a1.5 1.1 0 1 0 3 0a1.5 1.1 0 1 0 -3 0M947 878.9a1.5 1.1 0 1 0 3 0a1.5 1.1 0 1 0 -3 0M937.5 878.4a1.5 1.1 0 1 0 3 0a1.5 1.1 0 1 0 -3 0M935.8 861.4a1.5 1.1 0 1 0 3 0a1.5 1.1 0 1 0 -3 0M935.6 870a1.5 1.1 0 1 0 3 0a1.5 1.1 0 1 0 -3 0M939 868.7a1.5 1.1 0 1 0 3 0a1.5 1.1 0 1 0 -3 0M936.7 879.6a1.5 1.1 0 1 0 3 0a1.5 1.1 0 1 0 -3 0M939.5 866.5a1.5 1.1 0 1 0 3 0a1.5 1.1 0 1 0 -3 0M929.4 871.8a1.5 1.1 0 1 0 3 0a1.5 1.1 0 1 0 -3 0M947.1 866.1a1.5 1.1 0 1 0 3 0a1.5 1.1 0 1 0 -3 0M946.2 868.9a1.5 1.1 0 1 0 3 0a1.5 1.1 0 1 0 -3 0M930.6 883a1.5 1.1 0 1 0 3 0a1.5 1.1 0 1 0 -3 0M940 880.7a1.5 1.1 0 1 0 3 0a1.5 1.1 0 1 0 -3 0M956.4 878.5a1.5 1.1 0 1 0 3 0a1.5 1.1 0 1 0 -3 0M937.2 862.5a1.5 1.1 0 1 0 3 0a1.5 1.1 0 1 0 -3 0M930.2 870.2a1.5 1.1 0 1 0 3 0a1.5 1.1 0 1 0 -3 0" fill="none" stroke="#000" stroke-width="0.8"/>
<path d="M883.5 635.3h19" stroke="#111" stroke-width="1.1"/>
<ellipse cx="893.3" cy="659.2" rx="3.4" ry="3.2" fill="none" stroke="#111" stroke-width="1.1"/>
<text transform="translate(910.5,642.5) scale(1.05,1)" font-family="'Liberation Sans', Arial, sans-serif" font-size="16.5" text-anchor="start" fill="#000" >L<tspan font-size="11" dy="3">GN</tspan></text>
<text transform="translate(910.5,665.5) scale(1.05,1)" font-family="'Liberation Sans', Arial, sans-serif" font-size="16.5" text-anchor="start" fill="#000" >L'<tspan font-size="11" dy="3.5">GN</tspan></text>
<text transform="translate(954.5,638.5)" font-family="'Liberation Serif', 'Times New Roman', serif" font-size="22" text-anchor="start" fill="#000" font-weight="bold" font-style="italic" >(i)</text>
<text transform="translate(673.6,926.2) scale(1.05,1)" font-family="'Liberation Sans', Arial, sans-serif" font-size="16.4" text-anchor="middle" fill="#000" >0</text>
<text transform="translate(734,926.2) scale(1.05,1)" font-family="'Liberation Sans', Arial, sans-serif" font-size="16.4" text-anchor="middle" fill="#000" >200</text>
<text transform="translate(786.8,926.2) scale(1.05,1)" font-family="'Liberation Sans', Arial, sans-serif" font-size="16.4" text-anchor="middle" fill="#000" >400</text>
<text transform="translate(839.7,926.2) scale(1.05,1)" font-family="'Liberation Sans', Arial, sans-serif" font-size="16.4" text-anchor="middle" fill="#000" >600</text>
<text transform="translate(892.5,926.2) scale(1.05,1)" font-family="'Liberation Sans', Arial, sans-serif" font-size="16.4" text-anchor="middle" fill="#000" >800</text>
<text transform="translate(945.4,926.2) scale(1.05,1)" font-family="'Liberation Sans', Arial, sans-serif" font-size="16.4" text-anchor="middle" fill="#000" >1000</text>
<text transform="translate(1001.7,926.2) scale(1.05,1)" font-family="'Liberation Sans', Arial, sans-serif" font-size="16.4" text-anchor="middle" fill="#000" >1200</text>
<text transform="translate(831,943.8) scale(1.1,1)" font-family="'Liberation Sans', Arial, sans-serif" font-size="15.6" text-anchor="middle" fill="#000" >Pixel number</text>
<text transform="translate(677.3,622) scale(1.1,1) rotate(-90)" font-family="'Liberation Sans', Arial, sans-serif" font-size="17.4" text-anchor="middle" fill="#000" >0.15</text>
<text transform="translate(677.3,708) scale(1.1,1) rotate(-90)" font-family="'Liberation Sans', Arial, sans-serif" font-size="17.4" text-anchor="middle" fill="#000" >0.1</text>
<text transform="translate(677.3,802) scale(1.1,1) rotate(-90)" font-family="'Liberation Sans', Arial, sans-serif" font-size="17.4" text-anchor="middle" fill="#000" >0.05</text>
<text transform="translate(655.5,760) scale(1.1,1) rotate(-90)" font-family="'Liberation Sans', Arial, sans-serif" font-size="16.9" text-anchor="middle" fill="#000" >L'<tspan font-size="11" dy="3">GN</tspan><tspan dy="-3">, L</tspan><tspan font-size="11" dy="3">GN</tspan></text>
</svg>
</body></html>
